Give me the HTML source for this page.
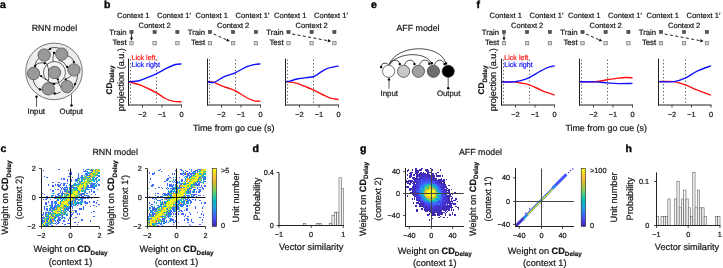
<!DOCTYPE html>
<html><head><meta charset="utf-8"><style>
html,body{margin:0;padding:0;background:#fff;}
svg{display:block;font-family:"Liberation Sans", sans-serif;will-change:transform;text-rendering:geometricPrecision;}
</style></head><body>
<svg width="723" height="268" viewBox="0 0 723 268">
<rect width="723" height="268" fill="#fff"/>
<text x="0.00" y="8.00" font-size="10.5" text-anchor="start" font-weight="bold" fill="#000" stroke="#000" stroke-width="0.35">a</text>
<text x="104.00" y="8.00" font-size="10.5" text-anchor="start" font-weight="bold" fill="#000" stroke="#000" stroke-width="0.35">b</text>
<text x="371.00" y="8.00" font-size="10.5" text-anchor="start" font-weight="bold" fill="#000" stroke="#000" stroke-width="0.35">e</text>
<text x="476.50" y="8.00" font-size="10.5" text-anchor="start" font-weight="bold" fill="#000" stroke="#000" stroke-width="0.35">f</text>
<text x="0.50" y="152.40" font-size="10.5" text-anchor="start" font-weight="bold" fill="#000" stroke="#000" stroke-width="0.35">c</text>
<text x="252.50" y="152.40" font-size="10.5" text-anchor="start" font-weight="bold" fill="#000" stroke="#000" stroke-width="0.35">d</text>
<text x="360.00" y="152.40" font-size="10.5" text-anchor="start" font-weight="bold" fill="#000" stroke="#000" stroke-width="0.35">g</text>
<text x="625.50" y="152.40" font-size="10.5" text-anchor="start" font-weight="bold" fill="#000" stroke="#000" stroke-width="0.35">h</text>
<text x="31.70" y="30.50" font-size="8.8" text-anchor="start" font-weight="normal" fill="#1a1a1a"  stroke="#1a1a1a" stroke-width="0.22">RNN model</text>
<circle cx="54" cy="71.4" r="28.3" fill="#ededed" stroke="#555" stroke-width="0.8"/>
<circle cx="54.3" cy="72" r="19.5" fill="#f7f7f7" stroke="none"/>
<circle cx="54.5" cy="72.5" r="11" fill="none" stroke="#222" stroke-width="0.7"/>
<circle cx="54.5" cy="72.5" r="9" fill="#f4f4f4" stroke="none"/>
<path d="M47.5,50.3 Q50,47.5 53.5,47.6 Q57,47.4 59.5,48.3" stroke="#111" stroke-width="0.7" fill="none" />
<path d="M54,52.9 Q52.5,57 53,61.5" stroke="#111" stroke-width="0.7" fill="none" />
<path d="M44.7,63.3 Q38.5,61.5 35.1,66" stroke="#111" stroke-width="0.7" fill="none" />
<path d="M38.5,58.5 Q35.5,61 35.1,66" stroke="#111" stroke-width="0.7" fill="none" />
<path d="M67,55.5 Q72.5,57 73.9,62.1" stroke="#111" stroke-width="0.7" fill="none" />
<path d="M58.5,60 Q64.5,61.5 67.1,66.9" stroke="#111" stroke-width="0.7" fill="none" />
<path d="M41.1,76.1 Q44.5,79.5 48.5,80.5" stroke="#111" stroke-width="0.7" fill="none" />
<path d="M57.8,79.3 Q58.5,85 61.5,88" stroke="#111" stroke-width="0.7" fill="none" />
<path d="M54.2,83.9 Q51,83 49,82.7" stroke="#111" stroke-width="0.7" fill="none" />
<path d="M65.6,79.3 Q69.5,77.5 71.5,75.5" stroke="#111" stroke-width="0.7" fill="none" />
<path d="M77.5,75 Q77.5,80 75.1,84.1 Q74.5,87 72.8,88.5" stroke="#111" stroke-width="0.7" fill="none" />
<path d="M33.2,79.5 Q34,86 39.9,89.5 Q41,89.8 42.3,89.8" stroke="#111" stroke-width="0.7" fill="none" />
<path d="M52.5,93.5 Q55,95 60.5,92" stroke="#111" stroke-width="0.7" fill="none" />
<path d="M45,62 Q50,66 48.5,80.5" stroke="#111" stroke-width="0.7" fill="none" />
<circle cx="44.2" cy="55.1" r="6.2" fill="#999" stroke="#444" stroke-width="0.7"/>
<circle cx="61.7" cy="54.1" r="6.2" fill="#999" stroke="#444" stroke-width="0.7"/>
<circle cx="33.5" cy="73.5" r="6.2" fill="#999" stroke="#444" stroke-width="0.7"/>
<circle cx="54.5" cy="72.5" r="6.2" fill="#999" stroke="#444" stroke-width="0.7"/>
<circle cx="73.9" cy="69.9" r="6.2" fill="#999" stroke="#444" stroke-width="0.7"/>
<circle cx="48.3" cy="88.8" r="6.2" fill="#999" stroke="#444" stroke-width="0.7"/>
<circle cx="67.0" cy="86.6" r="6.2" fill="#999" stroke="#444" stroke-width="0.7"/>
<circle cx="50.1" cy="49" r="1.15" fill="#000"/>
<circle cx="54" cy="52.9" r="1.15" fill="#000"/>
<circle cx="44.7" cy="63.3" r="1.15" fill="#000"/>
<circle cx="35.1" cy="66" r="1.15" fill="#000"/>
<circle cx="73.9" cy="62.1" r="1.15" fill="#000"/>
<circle cx="67.1" cy="66.9" r="1.15" fill="#000"/>
<circle cx="41.1" cy="76.1" r="1.15" fill="#000"/>
<circle cx="57.8" cy="79.3" r="1.15" fill="#000"/>
<circle cx="54.2" cy="83.9" r="1.15" fill="#000"/>
<circle cx="65.6" cy="79.3" r="1.15" fill="#000"/>
<circle cx="75.1" cy="84.1" r="1.15" fill="#000"/>
<circle cx="39.9" cy="89.5" r="1.15" fill="#000"/>
<circle cx="54.8" cy="93.4" r="1.15" fill="#000"/>
<line x1="36.50" y1="96.70" x2="36.50" y2="106.80" stroke="#333" stroke-width="0.8" />
<circle cx="36.5" cy="96.7" r="1.2" fill="#000"/>
<line x1="71.50" y1="94.50" x2="71.50" y2="105.50" stroke="#333" stroke-width="0.8" />
<circle cx="71.5" cy="105.5" r="1.2" fill="#000"/>
<text x="27.50" y="113.80" font-size="7.9" text-anchor="start" font-weight="normal" fill="#1a1a1a"  stroke="#1a1a1a" stroke-width="0.22">Input</text>
<text x="59.60" y="113.80" font-size="7.8" text-anchor="start" font-weight="normal" fill="#1a1a1a"  stroke="#1a1a1a" stroke-width="0.22">Output</text>
<text x="117.10" y="18.30" font-size="7.55" text-anchor="start" font-weight="normal" fill="#1a1a1a"  stroke="#1a1a1a" stroke-width="0.22">Context 1</text>
<text x="157.10" y="18.30" font-size="7.55" text-anchor="start" font-weight="normal" fill="#1a1a1a"  stroke="#1a1a1a" stroke-width="0.22">Context 1′</text>
<text x="138.50" y="28.20" font-size="7.55" text-anchor="start" font-weight="normal" fill="#1a1a1a"  stroke="#1a1a1a" stroke-width="0.22">Context 2</text>
<text x="126.70" y="34.50" font-size="7.8" text-anchor="end" font-weight="normal" fill="#1a1a1a"  stroke="#1a1a1a" stroke-width="0.22">Train</text>
<text x="126.70" y="45.30" font-size="7.8" text-anchor="end" font-weight="normal" fill="#1a1a1a"  stroke="#1a1a1a" stroke-width="0.22">Test</text>
<rect x="129.90" y="30.4" width="3.2" height="3.2" fill="#555" stroke="#333" stroke-width="0.5"/>
<rect x="129.80" y="41.5" width="3.4" height="3.4" fill="#d6d6d6" stroke="#777" stroke-width="0.7"/>
<rect x="153.00" y="30.4" width="3.2" height="3.2" fill="#555" stroke="#333" stroke-width="0.5"/>
<rect x="152.90" y="41.5" width="3.4" height="3.4" fill="#d6d6d6" stroke="#777" stroke-width="0.7"/>
<rect x="175.80" y="30.4" width="3.2" height="3.2" fill="#555" stroke="#333" stroke-width="0.5"/>
<rect x="175.70" y="41.5" width="3.4" height="3.4" fill="#d6d6d6" stroke="#777" stroke-width="0.7"/>
<line x1="131.50" y1="34.00" x2="131.50" y2="38.50" stroke="#111" stroke-width="0.8" />
<path d="M129.90,37.6 L133.10,37.6 L131.50,40.8 Z" fill="#111"/>
<line x1="130.50" y1="59.50" x2="130.50" y2="104.50" stroke="#333" stroke-width="0.8" stroke-dasharray="1.3,2.2"/>
<line x1="156.50" y1="59.50" x2="156.50" y2="104.50" stroke="#333" stroke-width="0.8" stroke-dasharray="1.3,2.2"/>
<path d="M128.50,81.70 C130.26,82.20 135.94,83.62 139.04,84.70 C142.14,85.78 144.26,86.88 147.12,88.20 C149.99,89.52 153.19,90.88 156.23,92.60 C159.26,94.32 162.47,97.03 165.33,98.50 C168.20,99.97 170.72,100.85 173.42,101.40 C176.11,101.95 180.15,101.73 181.50,101.80" stroke="#ff1010" stroke-width="1.4" fill="none" />
<path d="M128.50,81.70 C130.26,81.55 135.94,81.47 139.04,80.80 C142.14,80.13 144.26,78.87 147.12,77.70 C149.99,76.53 152.85,75.43 156.23,73.80 C159.60,72.17 164.17,69.45 167.38,67.90 C170.59,66.35 173.11,65.17 175.46,64.50 C177.82,63.83 180.49,64.00 181.50,63.90" stroke="#1010ff" stroke-width="1.4" fill="none" />
<line x1="128.50" y1="58.60" x2="128.50" y2="105.60" stroke="#222" stroke-width="1.0" />
<line x1="128.00" y1="105.00" x2="182.00" y2="105.00" stroke="#222" stroke-width="1.2" />
<line x1="142.50" y1="105.00" x2="142.50" y2="107.60" stroke="#222" stroke-width="0.8" />
<text x="142.50" y="117.20" font-size="7.4" text-anchor="middle" font-weight="normal" fill="#1a1a1a"  stroke="#1a1a1a" stroke-width="0.22">−2</text>
<line x1="162.00" y1="105.00" x2="162.00" y2="107.60" stroke="#222" stroke-width="0.8" />
<text x="162.00" y="117.20" font-size="7.4" text-anchor="middle" font-weight="normal" fill="#1a1a1a"  stroke="#1a1a1a" stroke-width="0.22">−1</text>
<line x1="181.50" y1="105.00" x2="181.50" y2="107.60" stroke="#222" stroke-width="0.8" />
<text x="181.50" y="117.20" font-size="7.4" text-anchor="middle" font-weight="normal" fill="#1a1a1a"  stroke="#1a1a1a" stroke-width="0.22">0</text>
<text x="195.60" y="18.30" font-size="7.55" text-anchor="start" font-weight="normal" fill="#1a1a1a"  stroke="#1a1a1a" stroke-width="0.22">Context 1</text>
<text x="235.60" y="18.30" font-size="7.55" text-anchor="start" font-weight="normal" fill="#1a1a1a"  stroke="#1a1a1a" stroke-width="0.22">Context 1′</text>
<text x="217.00" y="28.20" font-size="7.55" text-anchor="start" font-weight="normal" fill="#1a1a1a"  stroke="#1a1a1a" stroke-width="0.22">Context 2</text>
<text x="205.20" y="34.50" font-size="7.8" text-anchor="end" font-weight="normal" fill="#1a1a1a"  stroke="#1a1a1a" stroke-width="0.22">Train</text>
<text x="205.20" y="45.30" font-size="7.8" text-anchor="end" font-weight="normal" fill="#1a1a1a"  stroke="#1a1a1a" stroke-width="0.22">Test</text>
<rect x="208.40" y="30.4" width="3.2" height="3.2" fill="#555" stroke="#333" stroke-width="0.5"/>
<rect x="208.30" y="41.5" width="3.4" height="3.4" fill="#d6d6d6" stroke="#777" stroke-width="0.7"/>
<rect x="231.50" y="30.4" width="3.2" height="3.2" fill="#555" stroke="#333" stroke-width="0.5"/>
<rect x="231.40" y="41.5" width="3.4" height="3.4" fill="#d6d6d6" stroke="#777" stroke-width="0.7"/>
<rect x="254.30" y="30.4" width="3.2" height="3.2" fill="#555" stroke="#333" stroke-width="0.5"/>
<rect x="254.20" y="41.5" width="3.4" height="3.4" fill="#d6d6d6" stroke="#777" stroke-width="0.7"/>
<line x1="213.60" y1="34.00" x2="227.42" y2="40.19" stroke="#222" stroke-width="1.0" stroke-dasharray="3,2.4"/>
<path d="M229.90,41.30 L226.14,41.37 L227.45,38.45 Z" fill="#111"/>
<line x1="209.50" y1="59.50" x2="209.50" y2="104.50" stroke="#333" stroke-width="0.8" stroke-dasharray="1.3,2.2"/>
<line x1="235.50" y1="59.50" x2="235.50" y2="104.50" stroke="#333" stroke-width="0.8" stroke-dasharray="1.3,2.2"/>
<path d="M207.50,81.70 C208.51,81.80 210.87,81.48 213.58,82.30 C216.30,83.12 220.22,85.22 223.79,86.60 C227.37,87.98 231.28,88.78 235.03,90.60 C238.78,92.42 243.04,95.78 246.27,97.50 C249.50,99.22 252.04,100.30 254.42,100.90 C256.79,101.50 259.49,101.07 260.50,101.10" stroke="#ff1010" stroke-width="1.4" fill="none" />
<path d="M207.50,81.70 C208.69,81.78 211.90,83.02 214.61,82.20 C217.33,81.38 220.39,78.37 223.79,76.80 C227.19,75.23 231.28,74.45 235.03,72.80 C238.78,71.15 243.28,68.23 246.27,66.90 C249.26,65.57 250.60,65.30 252.97,64.80 C255.34,64.30 259.25,64.05 260.50,63.90" stroke="#1010ff" stroke-width="1.4" fill="none" />
<line x1="207.50" y1="58.60" x2="207.50" y2="105.60" stroke="#222" stroke-width="1.0" />
<line x1="207.00" y1="105.00" x2="261.00" y2="105.00" stroke="#222" stroke-width="1.2" />
<line x1="221.50" y1="105.00" x2="221.50" y2="107.60" stroke="#222" stroke-width="0.8" />
<text x="221.50" y="117.20" font-size="7.4" text-anchor="middle" font-weight="normal" fill="#1a1a1a"  stroke="#1a1a1a" stroke-width="0.22">−2</text>
<line x1="241.00" y1="105.00" x2="241.00" y2="107.60" stroke="#222" stroke-width="0.8" />
<text x="241.00" y="117.20" font-size="7.4" text-anchor="middle" font-weight="normal" fill="#1a1a1a"  stroke="#1a1a1a" stroke-width="0.22">−1</text>
<line x1="260.50" y1="105.00" x2="260.50" y2="107.60" stroke="#222" stroke-width="0.8" />
<text x="260.50" y="117.20" font-size="7.4" text-anchor="middle" font-weight="normal" fill="#1a1a1a"  stroke="#1a1a1a" stroke-width="0.22">0</text>
<text x="274.10" y="18.30" font-size="7.55" text-anchor="start" font-weight="normal" fill="#1a1a1a"  stroke="#1a1a1a" stroke-width="0.22">Context 1</text>
<text x="314.10" y="18.30" font-size="7.55" text-anchor="start" font-weight="normal" fill="#1a1a1a"  stroke="#1a1a1a" stroke-width="0.22">Context 1′</text>
<text x="295.50" y="28.20" font-size="7.55" text-anchor="start" font-weight="normal" fill="#1a1a1a"  stroke="#1a1a1a" stroke-width="0.22">Context 2</text>
<text x="283.70" y="34.50" font-size="7.8" text-anchor="end" font-weight="normal" fill="#1a1a1a"  stroke="#1a1a1a" stroke-width="0.22">Train</text>
<text x="283.70" y="45.30" font-size="7.8" text-anchor="end" font-weight="normal" fill="#1a1a1a"  stroke="#1a1a1a" stroke-width="0.22">Test</text>
<rect x="286.90" y="30.4" width="3.2" height="3.2" fill="#555" stroke="#333" stroke-width="0.5"/>
<rect x="286.80" y="41.5" width="3.4" height="3.4" fill="#d6d6d6" stroke="#777" stroke-width="0.7"/>
<rect x="310.00" y="30.4" width="3.2" height="3.2" fill="#555" stroke="#333" stroke-width="0.5"/>
<rect x="309.90" y="41.5" width="3.4" height="3.4" fill="#d6d6d6" stroke="#777" stroke-width="0.7"/>
<rect x="332.80" y="30.4" width="3.2" height="3.2" fill="#555" stroke="#333" stroke-width="0.5"/>
<rect x="332.70" y="41.5" width="3.4" height="3.4" fill="#d6d6d6" stroke="#777" stroke-width="0.7"/>
<line x1="292.10" y1="34.00" x2="328.53" y2="40.80" stroke="#222" stroke-width="1.0" stroke-dasharray="3,2.4"/>
<path d="M331.20,41.30 L327.56,42.25 L328.15,39.10 Z" fill="#111"/>
<line x1="287.50" y1="59.50" x2="287.50" y2="104.50" stroke="#333" stroke-width="0.8" stroke-dasharray="1.3,2.2"/>
<line x1="313.50" y1="59.50" x2="313.50" y2="104.50" stroke="#333" stroke-width="0.8" stroke-dasharray="1.3,2.2"/>
<path d="M285.50,81.70 C287.28,81.93 293.08,82.35 296.20,83.10 C299.33,83.85 301.50,85.12 304.25,86.20 C307.01,87.28 309.69,88.22 312.71,89.60 C315.74,90.98 319.44,93.08 322.40,94.50 C325.35,95.92 327.76,97.27 330.45,98.10 C333.13,98.93 337.16,99.27 338.50,99.50" stroke="#ff1010" stroke-width="1.4" fill="none" />
<path d="M285.50,81.70 C286.28,81.60 288.07,81.60 290.19,81.10 C292.31,80.60 294.49,79.42 298.24,78.70 C301.99,77.98 309.37,77.62 312.71,76.80 C316.06,75.98 316.03,75.13 318.32,73.80 C320.61,72.47 323.11,70.12 326.47,68.80 C329.84,67.48 336.50,66.38 338.50,65.90" stroke="#1010ff" stroke-width="1.4" fill="none" />
<line x1="285.50" y1="58.60" x2="285.50" y2="105.60" stroke="#222" stroke-width="1.0" />
<line x1="285.00" y1="105.00" x2="339.00" y2="105.00" stroke="#222" stroke-width="1.2" />
<line x1="299.50" y1="105.00" x2="299.50" y2="107.60" stroke="#222" stroke-width="0.8" />
<text x="299.50" y="117.20" font-size="7.4" text-anchor="middle" font-weight="normal" fill="#1a1a1a"  stroke="#1a1a1a" stroke-width="0.22">−2</text>
<line x1="319.00" y1="105.00" x2="319.00" y2="107.60" stroke="#222" stroke-width="0.8" />
<text x="319.00" y="117.20" font-size="7.4" text-anchor="middle" font-weight="normal" fill="#1a1a1a"  stroke="#1a1a1a" stroke-width="0.22">−1</text>
<line x1="338.50" y1="105.00" x2="338.50" y2="107.60" stroke="#222" stroke-width="0.8" />
<text x="338.50" y="117.20" font-size="7.4" text-anchor="middle" font-weight="normal" fill="#1a1a1a"  stroke="#1a1a1a" stroke-width="0.22">0</text>
<text x="489.60" y="18.30" font-size="7.55" text-anchor="start" font-weight="normal" fill="#1a1a1a"  stroke="#1a1a1a" stroke-width="0.22">Context 1</text>
<text x="529.60" y="18.30" font-size="7.55" text-anchor="start" font-weight="normal" fill="#1a1a1a"  stroke="#1a1a1a" stroke-width="0.22">Context 1′</text>
<text x="511.00" y="28.20" font-size="7.55" text-anchor="start" font-weight="normal" fill="#1a1a1a"  stroke="#1a1a1a" stroke-width="0.22">Context 2</text>
<text x="499.20" y="34.50" font-size="7.8" text-anchor="end" font-weight="normal" fill="#1a1a1a"  stroke="#1a1a1a" stroke-width="0.22">Train</text>
<text x="499.20" y="45.30" font-size="7.8" text-anchor="end" font-weight="normal" fill="#1a1a1a"  stroke="#1a1a1a" stroke-width="0.22">Test</text>
<rect x="502.40" y="30.4" width="3.2" height="3.2" fill="#555" stroke="#333" stroke-width="0.5"/>
<rect x="502.30" y="41.5" width="3.4" height="3.4" fill="#d6d6d6" stroke="#777" stroke-width="0.7"/>
<rect x="525.50" y="30.4" width="3.2" height="3.2" fill="#555" stroke="#333" stroke-width="0.5"/>
<rect x="525.40" y="41.5" width="3.4" height="3.4" fill="#d6d6d6" stroke="#777" stroke-width="0.7"/>
<rect x="548.30" y="30.4" width="3.2" height="3.2" fill="#555" stroke="#333" stroke-width="0.5"/>
<rect x="548.20" y="41.5" width="3.4" height="3.4" fill="#d6d6d6" stroke="#777" stroke-width="0.7"/>
<line x1="504.00" y1="34.00" x2="504.00" y2="38.50" stroke="#111" stroke-width="0.8" />
<path d="M502.40,37.6 L505.60,37.6 L504.00,40.8 Z" fill="#111"/>
<line x1="503.50" y1="59.50" x2="503.50" y2="104.50" stroke="#333" stroke-width="0.8" stroke-dasharray="1.3,2.2"/>
<line x1="529.50" y1="59.50" x2="529.50" y2="104.50" stroke="#333" stroke-width="0.8" stroke-dasharray="1.3,2.2"/>
<path d="M501.50,81.90 C503.59,81.90 510.87,81.72 514.04,81.90 C517.21,82.08 518.05,82.55 520.52,83.00 C522.98,83.45 525.61,83.52 528.81,84.60 C532.01,85.68 536.63,88.15 539.73,89.50 C542.83,90.85 544.96,91.78 547.42,92.70 C549.88,93.62 553.32,94.62 554.50,95.00" stroke="#ff1010" stroke-width="1.4" fill="none" />
<path d="M501.50,81.90 C503.59,81.90 510.87,82.12 514.04,81.90 C517.21,81.68 518.05,81.28 520.52,80.60 C522.98,79.92 525.61,79.32 528.81,77.80 C532.01,76.28 536.63,73.18 539.73,71.50 C542.83,69.82 544.96,68.65 547.42,67.70 C549.88,66.75 553.32,66.12 554.50,65.80" stroke="#1010ff" stroke-width="1.4" fill="none" />
<line x1="501.50" y1="58.60" x2="501.50" y2="105.60" stroke="#222" stroke-width="1.0" />
<line x1="501.00" y1="105.00" x2="555.00" y2="105.00" stroke="#222" stroke-width="1.2" />
<line x1="515.50" y1="105.00" x2="515.50" y2="107.60" stroke="#222" stroke-width="0.8" />
<text x="515.50" y="117.20" font-size="7.4" text-anchor="middle" font-weight="normal" fill="#1a1a1a"  stroke="#1a1a1a" stroke-width="0.22">−2</text>
<line x1="535.00" y1="105.00" x2="535.00" y2="107.60" stroke="#222" stroke-width="0.8" />
<text x="535.00" y="117.20" font-size="7.4" text-anchor="middle" font-weight="normal" fill="#1a1a1a"  stroke="#1a1a1a" stroke-width="0.22">−1</text>
<line x1="554.50" y1="105.00" x2="554.50" y2="107.60" stroke="#222" stroke-width="0.8" />
<text x="554.50" y="117.20" font-size="7.4" text-anchor="middle" font-weight="normal" fill="#1a1a1a"  stroke="#1a1a1a" stroke-width="0.22">0</text>
<text x="568.10" y="18.30" font-size="7.55" text-anchor="start" font-weight="normal" fill="#1a1a1a"  stroke="#1a1a1a" stroke-width="0.22">Context 1</text>
<text x="608.10" y="18.30" font-size="7.55" text-anchor="start" font-weight="normal" fill="#1a1a1a"  stroke="#1a1a1a" stroke-width="0.22">Context 1′</text>
<text x="589.50" y="28.20" font-size="7.55" text-anchor="start" font-weight="normal" fill="#1a1a1a"  stroke="#1a1a1a" stroke-width="0.22">Context 2</text>
<text x="577.70" y="34.50" font-size="7.8" text-anchor="end" font-weight="normal" fill="#1a1a1a"  stroke="#1a1a1a" stroke-width="0.22">Train</text>
<text x="577.70" y="45.30" font-size="7.8" text-anchor="end" font-weight="normal" fill="#1a1a1a"  stroke="#1a1a1a" stroke-width="0.22">Test</text>
<rect x="580.90" y="30.4" width="3.2" height="3.2" fill="#555" stroke="#333" stroke-width="0.5"/>
<rect x="580.80" y="41.5" width="3.4" height="3.4" fill="#d6d6d6" stroke="#777" stroke-width="0.7"/>
<rect x="604.00" y="30.4" width="3.2" height="3.2" fill="#555" stroke="#333" stroke-width="0.5"/>
<rect x="603.90" y="41.5" width="3.4" height="3.4" fill="#d6d6d6" stroke="#777" stroke-width="0.7"/>
<rect x="626.80" y="30.4" width="3.2" height="3.2" fill="#555" stroke="#333" stroke-width="0.5"/>
<rect x="626.70" y="41.5" width="3.4" height="3.4" fill="#d6d6d6" stroke="#777" stroke-width="0.7"/>
<line x1="586.10" y1="34.00" x2="599.92" y2="40.19" stroke="#222" stroke-width="1.0" stroke-dasharray="3,2.4"/>
<path d="M602.40,41.30 L598.64,41.37 L599.95,38.45 Z" fill="#111"/>
<line x1="581.50" y1="59.50" x2="581.50" y2="104.50" stroke="#333" stroke-width="0.8" stroke-dasharray="1.3,2.2"/>
<line x1="607.50" y1="59.50" x2="607.50" y2="104.50" stroke="#333" stroke-width="0.8" stroke-dasharray="1.3,2.2"/>
<path d="M579.50,81.70 C582.15,81.70 590.73,82.02 595.37,81.70 C600.01,81.38 603.55,80.40 607.35,79.80 C611.14,79.20 615.05,78.48 618.13,78.10 C621.20,77.72 623.42,77.55 625.81,77.50 C628.21,77.45 631.39,77.75 632.50,77.80" stroke="#ff1010" stroke-width="1.4" fill="none" />
<path d="M579.50,81.70 C582.15,81.73 590.73,81.70 595.37,81.90 C600.01,82.10 603.55,82.62 607.35,82.90 C611.14,83.18 613.94,83.52 618.13,83.60 C622.32,83.68 630.10,83.43 632.50,83.40" stroke="#1010ff" stroke-width="1.4" fill="none" />
<line x1="579.50" y1="58.60" x2="579.50" y2="105.60" stroke="#222" stroke-width="1.0" />
<line x1="579.00" y1="105.00" x2="633.00" y2="105.00" stroke="#222" stroke-width="1.2" />
<line x1="593.50" y1="105.00" x2="593.50" y2="107.60" stroke="#222" stroke-width="0.8" />
<text x="593.50" y="117.20" font-size="7.4" text-anchor="middle" font-weight="normal" fill="#1a1a1a"  stroke="#1a1a1a" stroke-width="0.22">−2</text>
<line x1="613.00" y1="105.00" x2="613.00" y2="107.60" stroke="#222" stroke-width="0.8" />
<text x="613.00" y="117.20" font-size="7.4" text-anchor="middle" font-weight="normal" fill="#1a1a1a"  stroke="#1a1a1a" stroke-width="0.22">−1</text>
<line x1="632.50" y1="105.00" x2="632.50" y2="107.60" stroke="#222" stroke-width="0.8" />
<text x="632.50" y="117.20" font-size="7.4" text-anchor="middle" font-weight="normal" fill="#1a1a1a"  stroke="#1a1a1a" stroke-width="0.22">0</text>
<text x="646.60" y="18.30" font-size="7.55" text-anchor="start" font-weight="normal" fill="#1a1a1a"  stroke="#1a1a1a" stroke-width="0.22">Context 1</text>
<text x="686.60" y="18.30" font-size="7.55" text-anchor="start" font-weight="normal" fill="#1a1a1a"  stroke="#1a1a1a" stroke-width="0.22">Context 1′</text>
<text x="668.00" y="28.20" font-size="7.55" text-anchor="start" font-weight="normal" fill="#1a1a1a"  stroke="#1a1a1a" stroke-width="0.22">Context 2</text>
<text x="656.20" y="34.50" font-size="7.8" text-anchor="end" font-weight="normal" fill="#1a1a1a"  stroke="#1a1a1a" stroke-width="0.22">Train</text>
<text x="656.20" y="45.30" font-size="7.8" text-anchor="end" font-weight="normal" fill="#1a1a1a"  stroke="#1a1a1a" stroke-width="0.22">Test</text>
<rect x="659.40" y="30.4" width="3.2" height="3.2" fill="#555" stroke="#333" stroke-width="0.5"/>
<rect x="659.30" y="41.5" width="3.4" height="3.4" fill="#d6d6d6" stroke="#777" stroke-width="0.7"/>
<rect x="682.50" y="30.4" width="3.2" height="3.2" fill="#555" stroke="#333" stroke-width="0.5"/>
<rect x="682.40" y="41.5" width="3.4" height="3.4" fill="#d6d6d6" stroke="#777" stroke-width="0.7"/>
<rect x="705.30" y="30.4" width="3.2" height="3.2" fill="#555" stroke="#333" stroke-width="0.5"/>
<rect x="705.20" y="41.5" width="3.4" height="3.4" fill="#d6d6d6" stroke="#777" stroke-width="0.7"/>
<line x1="664.60" y1="34.00" x2="701.03" y2="40.80" stroke="#222" stroke-width="1.0" stroke-dasharray="3,2.4"/>
<path d="M703.70,41.30 L700.06,42.25 L700.65,39.10 Z" fill="#111"/>
<line x1="663.50" y1="59.50" x2="663.50" y2="104.50" stroke="#333" stroke-width="0.8" stroke-dasharray="1.3,2.2"/>
<line x1="685.50" y1="59.50" x2="685.50" y2="104.50" stroke="#333" stroke-width="0.8" stroke-dasharray="1.3,2.2"/>
<path d="M658.50,81.60 C661.06,81.60 669.30,81.02 673.85,81.60 C678.39,82.18 681.81,83.67 685.76,85.10 C689.71,86.53 693.37,88.52 697.57,90.20 C701.78,91.88 708.76,94.37 711.00,95.20" stroke="#ff1010" stroke-width="1.4" fill="none" />
<path d="M658.50,81.60 C661.06,81.60 669.30,82.23 673.85,81.60 C678.39,80.97 681.81,79.58 685.76,77.80 C689.71,76.02 693.37,72.90 697.57,70.90 C701.78,68.90 708.76,66.65 711.00,65.80" stroke="#1010ff" stroke-width="1.4" fill="none" />
<line x1="658.50" y1="58.60" x2="658.50" y2="105.60" stroke="#222" stroke-width="1.0" />
<line x1="658.00" y1="105.00" x2="711.50" y2="105.00" stroke="#222" stroke-width="1.2" />
<line x1="672.00" y1="105.00" x2="672.00" y2="107.60" stroke="#222" stroke-width="0.8" />
<text x="672.00" y="117.20" font-size="7.4" text-anchor="middle" font-weight="normal" fill="#1a1a1a"  stroke="#1a1a1a" stroke-width="0.22">−2</text>
<line x1="691.50" y1="105.00" x2="691.50" y2="107.60" stroke="#222" stroke-width="0.8" />
<text x="691.50" y="117.20" font-size="7.4" text-anchor="middle" font-weight="normal" fill="#1a1a1a"  stroke="#1a1a1a" stroke-width="0.22">−1</text>
<line x1="711.00" y1="105.00" x2="711.00" y2="107.60" stroke="#222" stroke-width="0.8" />
<text x="711.00" y="117.20" font-size="7.4" text-anchor="middle" font-weight="normal" fill="#1a1a1a"  stroke="#1a1a1a" stroke-width="0.22">0</text>
<text transform="translate(111.60,94.60) rotate(-90)" font-size="8.3" text-anchor="start" fill="#1a1a1a" stroke="#1a1a1a" stroke-width="0.22" font-weight="bold">CD<tspan font-size="6.4" dy="2.6">Delay</tspan></text>
<text transform="translate(123.60,79.70) rotate(-90)" font-size="9.1" text-anchor="middle" fill="#1a1a1a" stroke="#1a1a1a" stroke-width="0.22" >projection (a.u.)</text>
<text transform="translate(483.90,94.60) rotate(-90)" font-size="8.3" text-anchor="start" fill="#1a1a1a" stroke="#1a1a1a" stroke-width="0.22" font-weight="bold">CD<tspan font-size="6.4" dy="2.6">Delay</tspan></text>
<text transform="translate(495.90,79.70) rotate(-90)" font-size="9.1" text-anchor="middle" fill="#1a1a1a" stroke="#1a1a1a" stroke-width="0.22" >projection (a.u.)</text>
<text x="131.50" y="59.90" font-size="7.1" text-anchor="start" font-weight="normal" fill="#ff1a1a"  stroke="#ff1a1a" stroke-width="0.22">Lick left</text>
<text x="131.50" y="66.60" font-size="7.1" text-anchor="start" font-weight="normal" fill="#1a1aff"  stroke="#1a1aff" stroke-width="0.22">Lick right</text>
<text x="504.30" y="59.90" font-size="7.1" text-anchor="start" font-weight="normal" fill="#ff1a1a"  stroke="#ff1a1a" stroke-width="0.22">Lick left</text>
<text x="504.30" y="66.60" font-size="7.1" text-anchor="start" font-weight="normal" fill="#1a1aff"  stroke="#1a1aff" stroke-width="0.22">Lick right</text>
<text x="192.90" y="130.70" font-size="8.9" text-anchor="start" font-weight="normal" fill="#1a1a1a"  stroke="#1a1a1a" stroke-width="0.22">Time from go cue (s)</text>
<text x="565.40" y="130.70" font-size="8.9" text-anchor="start" font-weight="normal" fill="#1a1a1a"  stroke="#1a1a1a" stroke-width="0.22">Time from go cue (s)</text>
<text x="396.50" y="30.50" font-size="8.8" text-anchor="start" font-weight="normal" fill="#1a1a1a"  stroke="#1a1a1a" stroke-width="0.22">AFF model</text>
<path d="M389,64.5 C397,44.2 440,43.2 446,63.5" stroke="#111" stroke-width="0.75" fill="none" />
<path d="M389,64.5 C399,51.6 426,51.6 431.5,63.2" stroke="#111" stroke-width="0.75" fill="none" />
<path d="M389.60,64.8 C391.60,59 398.10,58.5 400.10,64.1" stroke="#111" stroke-width="0.75" fill="none" />
<path d="M404.60,64.8 C406.60,59 412.90,58.5 414.90,64.1" stroke="#111" stroke-width="0.75" fill="none" />
<path d="M419.40,64.8 C421.40,59 427.90,58.5 429.90,64.1" stroke="#111" stroke-width="0.75" fill="none" />
<path d="M434.40,64.8 C436.40,59 442.70,58.5 444.70,64.1" stroke="#111" stroke-width="0.75" fill="none" />
<path d="M388.5,64.6 C386,62.5 381.5,62.5 381.1,67" stroke="#111" stroke-width="0.75" fill="none" />
<circle cx="388.6" cy="71.3" r="6.1" fill="#ffffff" stroke="#333" stroke-width="0.7"/>
<circle cx="403.6" cy="71.3" r="6.1" fill="#c8c8c8" stroke="#333" stroke-width="0.7"/>
<circle cx="418.4" cy="71.3" r="6.1" fill="#a0a0a0" stroke="#333" stroke-width="0.7"/>
<circle cx="433.4" cy="71.3" r="6.1" fill="#6e6e6e" stroke="#333" stroke-width="0.7"/>
<circle cx="448.2" cy="71.3" r="6.1" fill="#000000" stroke="#333" stroke-width="0.7"/>
<circle cx="381.1" cy="67" r="1.2" fill="#000"/>
<circle cx="399.8" cy="64.1" r="1.2" fill="#000"/>
<circle cx="414.4" cy="64.1" r="1.2" fill="#000"/>
<circle cx="429.4" cy="63.8" r="1.2" fill="#000"/>
<circle cx="431.8" cy="63.2" r="1.2" fill="#000"/>
<circle cx="444.5" cy="64.1" r="1.2" fill="#000"/>
<circle cx="446" cy="63.5" r="1.2" fill="#000"/>
<line x1="389.00" y1="77.50" x2="389.00" y2="88.80" stroke="#333" stroke-width="0.8" />
<circle cx="389" cy="79.6" r="1.2" fill="#000"/>
<line x1="448.20" y1="77.50" x2="448.20" y2="88.20" stroke="#333" stroke-width="0.8" />
<circle cx="448.2" cy="88.2" r="1.2" fill="#000"/>
<text x="380.50" y="95.50" font-size="7.9" text-anchor="start" font-weight="normal" fill="#1a1a1a"  stroke="#1a1a1a" stroke-width="0.22">Input</text>
<text x="436.90" y="95.50" font-size="7.8" text-anchor="start" font-weight="normal" fill="#1a1a1a"  stroke="#1a1a1a" stroke-width="0.22">Output</text>
<text x="92.50" y="155.30" font-size="8.8" text-anchor="start" font-weight="normal" fill="#1a1a1a"  stroke="#1a1a1a" stroke-width="0.22">RNN model</text>
<g shape-rendering="crispEdges">
<rect x="41.50" y="192.67" width="1.41" height="1.41" fill="#3c6bfc"/>
<rect x="41.50" y="214.42" width="1.41" height="1.41" fill="#3c6bfc"/>
<rect x="41.50" y="216.83" width="1.41" height="1.41" fill="#0db3cc"/>
<rect x="41.50" y="218.04" width="1.41" height="1.41" fill="#3c6bfc"/>
<rect x="41.50" y="219.25" width="1.41" height="1.41" fill="#0db3cc"/>
<rect x="41.50" y="220.46" width="1.41" height="1.41" fill="#3c6bfc"/>
<rect x="41.50" y="221.67" width="1.41" height="1.41" fill="#0db3cc"/>
<rect x="41.50" y="222.88" width="1.41" height="1.41" fill="#3c6bfc"/>
<rect x="41.50" y="224.08" width="1.41" height="1.41" fill="#f9fb14"/>
<rect x="41.50" y="225.29" width="1.41" height="1.41" fill="#f9fb14"/>
<rect x="42.71" y="169.71" width="1.41" height="1.41" fill="#3c6bfc"/>
<rect x="42.71" y="198.71" width="1.41" height="1.41" fill="#3c6bfc"/>
<rect x="42.71" y="212.00" width="1.41" height="1.41" fill="#0db3cc"/>
<rect x="42.71" y="213.21" width="1.41" height="1.41" fill="#3c6bfc"/>
<rect x="42.71" y="215.62" width="1.41" height="1.41" fill="#f0b836"/>
<rect x="42.71" y="216.83" width="1.41" height="1.41" fill="#3c6bfc"/>
<rect x="42.71" y="218.04" width="1.41" height="1.41" fill="#3c6bfc"/>
<rect x="42.71" y="220.46" width="1.41" height="1.41" fill="#3c6bfc"/>
<rect x="42.71" y="221.67" width="1.41" height="1.41" fill="#3c6bfc"/>
<rect x="42.71" y="224.08" width="1.41" height="1.41" fill="#0db3cc"/>
<rect x="42.71" y="225.29" width="1.41" height="1.41" fill="#0db3cc"/>
<rect x="43.92" y="175.75" width="1.41" height="1.41" fill="#3c6bfc"/>
<rect x="43.92" y="193.88" width="1.41" height="1.41" fill="#3c6bfc"/>
<rect x="43.92" y="205.96" width="1.41" height="1.41" fill="#3c6bfc"/>
<rect x="43.92" y="207.17" width="1.41" height="1.41" fill="#3c6bfc"/>
<rect x="43.92" y="208.38" width="1.41" height="1.41" fill="#3c6bfc"/>
<rect x="43.92" y="216.83" width="1.41" height="1.41" fill="#3c6bfc"/>
<rect x="43.92" y="218.04" width="1.41" height="1.41" fill="#f9fb14"/>
<rect x="43.92" y="219.25" width="1.41" height="1.41" fill="#3c6bfc"/>
<rect x="43.92" y="220.46" width="1.41" height="1.41" fill="#0db3cc"/>
<rect x="43.92" y="221.67" width="1.41" height="1.41" fill="#f9fb14"/>
<rect x="43.92" y="222.88" width="1.41" height="1.41" fill="#f9fb14"/>
<rect x="43.92" y="224.08" width="1.41" height="1.41" fill="#f9fb14"/>
<rect x="43.92" y="225.29" width="1.41" height="1.41" fill="#3c6bfc"/>
<rect x="45.12" y="198.71" width="1.41" height="1.41" fill="#3c6bfc"/>
<rect x="45.12" y="202.33" width="1.41" height="1.41" fill="#3c6bfc"/>
<rect x="45.12" y="203.54" width="1.41" height="1.41" fill="#3c6bfc"/>
<rect x="45.12" y="212.00" width="1.41" height="1.41" fill="#3c6bfc"/>
<rect x="45.12" y="213.21" width="1.41" height="1.41" fill="#3c6bfc"/>
<rect x="45.12" y="214.42" width="1.41" height="1.41" fill="#3c6bfc"/>
<rect x="45.12" y="215.62" width="1.41" height="1.41" fill="#0db3cc"/>
<rect x="45.12" y="218.04" width="1.41" height="1.41" fill="#0db3cc"/>
<rect x="45.12" y="219.25" width="1.41" height="1.41" fill="#f9fb14"/>
<rect x="45.12" y="220.46" width="1.41" height="1.41" fill="#f9fb14"/>
<rect x="45.12" y="221.67" width="1.41" height="1.41" fill="#f0b836"/>
<rect x="45.12" y="222.88" width="1.41" height="1.41" fill="#0db3cc"/>
<rect x="45.12" y="224.08" width="1.41" height="1.41" fill="#69cf69"/>
<rect x="45.12" y="225.29" width="1.41" height="1.41" fill="#0db3cc"/>
<rect x="46.33" y="176.96" width="1.41" height="1.41" fill="#3c6bfc"/>
<rect x="46.33" y="196.29" width="1.41" height="1.41" fill="#3c6bfc"/>
<rect x="46.33" y="197.50" width="1.41" height="1.41" fill="#3c6bfc"/>
<rect x="46.33" y="205.96" width="1.41" height="1.41" fill="#0db3cc"/>
<rect x="46.33" y="208.38" width="1.41" height="1.41" fill="#3c6bfc"/>
<rect x="46.33" y="209.58" width="1.41" height="1.41" fill="#3c6bfc"/>
<rect x="46.33" y="212.00" width="1.41" height="1.41" fill="#3c6bfc"/>
<rect x="46.33" y="214.42" width="1.41" height="1.41" fill="#69cf69"/>
<rect x="46.33" y="215.62" width="1.41" height="1.41" fill="#3c6bfc"/>
<rect x="46.33" y="216.83" width="1.41" height="1.41" fill="#69cf69"/>
<rect x="46.33" y="218.04" width="1.41" height="1.41" fill="#0db3cc"/>
<rect x="46.33" y="219.25" width="1.41" height="1.41" fill="#0db3cc"/>
<rect x="46.33" y="220.46" width="1.41" height="1.41" fill="#3c6bfc"/>
<rect x="46.33" y="221.67" width="1.41" height="1.41" fill="#69cf69"/>
<rect x="46.33" y="222.88" width="1.41" height="1.41" fill="#0db3cc"/>
<rect x="46.33" y="224.08" width="1.41" height="1.41" fill="#3c6bfc"/>
<rect x="46.33" y="225.29" width="1.41" height="1.41" fill="#3c6bfc"/>
<rect x="47.54" y="184.21" width="1.41" height="1.41" fill="#3c6bfc"/>
<rect x="47.54" y="201.12" width="1.41" height="1.41" fill="#3c6bfc"/>
<rect x="47.54" y="210.79" width="1.41" height="1.41" fill="#69cf69"/>
<rect x="47.54" y="212.00" width="1.41" height="1.41" fill="#3c6bfc"/>
<rect x="47.54" y="213.21" width="1.41" height="1.41" fill="#3c6bfc"/>
<rect x="47.54" y="214.42" width="1.41" height="1.41" fill="#0db3cc"/>
<rect x="47.54" y="215.62" width="1.41" height="1.41" fill="#0db3cc"/>
<rect x="47.54" y="216.83" width="1.41" height="1.41" fill="#3c6bfc"/>
<rect x="47.54" y="218.04" width="1.41" height="1.41" fill="#3c6bfc"/>
<rect x="47.54" y="219.25" width="1.41" height="1.41" fill="#3c6bfc"/>
<rect x="47.54" y="220.46" width="1.41" height="1.41" fill="#f9fb14"/>
<rect x="47.54" y="221.67" width="1.41" height="1.41" fill="#69cf69"/>
<rect x="47.54" y="222.88" width="1.41" height="1.41" fill="#3c6bfc"/>
<rect x="47.54" y="224.08" width="1.41" height="1.41" fill="#f9fb14"/>
<rect x="47.54" y="225.29" width="1.41" height="1.41" fill="#0db3cc"/>
<rect x="48.75" y="204.75" width="1.41" height="1.41" fill="#0db3cc"/>
<rect x="48.75" y="208.38" width="1.41" height="1.41" fill="#0db3cc"/>
<rect x="48.75" y="209.58" width="1.41" height="1.41" fill="#3c6bfc"/>
<rect x="48.75" y="212.00" width="1.41" height="1.41" fill="#3c6bfc"/>
<rect x="48.75" y="213.21" width="1.41" height="1.41" fill="#0db3cc"/>
<rect x="48.75" y="215.62" width="1.41" height="1.41" fill="#f0b836"/>
<rect x="48.75" y="216.83" width="1.41" height="1.41" fill="#69cf69"/>
<rect x="48.75" y="218.04" width="1.41" height="1.41" fill="#f0b836"/>
<rect x="48.75" y="219.25" width="1.41" height="1.41" fill="#f9fb14"/>
<rect x="48.75" y="220.46" width="1.41" height="1.41" fill="#69cf69"/>
<rect x="48.75" y="221.67" width="1.41" height="1.41" fill="#0db3cc"/>
<rect x="48.75" y="222.88" width="1.41" height="1.41" fill="#f0b836"/>
<rect x="48.75" y="224.08" width="1.41" height="1.41" fill="#0db3cc"/>
<rect x="49.96" y="189.04" width="1.41" height="1.41" fill="#3c6bfc"/>
<rect x="49.96" y="198.71" width="1.41" height="1.41" fill="#3c6bfc"/>
<rect x="49.96" y="204.75" width="1.41" height="1.41" fill="#69cf69"/>
<rect x="49.96" y="205.96" width="1.41" height="1.41" fill="#0db3cc"/>
<rect x="49.96" y="207.17" width="1.41" height="1.41" fill="#3c6bfc"/>
<rect x="49.96" y="208.38" width="1.41" height="1.41" fill="#3c6bfc"/>
<rect x="49.96" y="209.58" width="1.41" height="1.41" fill="#0db3cc"/>
<rect x="49.96" y="212.00" width="1.41" height="1.41" fill="#3c6bfc"/>
<rect x="49.96" y="213.21" width="1.41" height="1.41" fill="#0db3cc"/>
<rect x="49.96" y="214.42" width="1.41" height="1.41" fill="#f9fb14"/>
<rect x="49.96" y="215.62" width="1.41" height="1.41" fill="#0db3cc"/>
<rect x="49.96" y="216.83" width="1.41" height="1.41" fill="#f9fb14"/>
<rect x="49.96" y="218.04" width="1.41" height="1.41" fill="#0db3cc"/>
<rect x="49.96" y="219.25" width="1.41" height="1.41" fill="#3c6bfc"/>
<rect x="49.96" y="220.46" width="1.41" height="1.41" fill="#3c6bfc"/>
<rect x="49.96" y="221.67" width="1.41" height="1.41" fill="#69cf69"/>
<rect x="49.96" y="222.88" width="1.41" height="1.41" fill="#3c6bfc"/>
<rect x="49.96" y="224.08" width="1.41" height="1.41" fill="#3c6bfc"/>
<rect x="51.17" y="195.08" width="1.41" height="1.41" fill="#3c6bfc"/>
<rect x="51.17" y="196.29" width="1.41" height="1.41" fill="#0db3cc"/>
<rect x="51.17" y="201.12" width="1.41" height="1.41" fill="#3c6bfc"/>
<rect x="51.17" y="202.33" width="1.41" height="1.41" fill="#3c6bfc"/>
<rect x="51.17" y="203.54" width="1.41" height="1.41" fill="#3c6bfc"/>
<rect x="51.17" y="204.75" width="1.41" height="1.41" fill="#3c6bfc"/>
<rect x="51.17" y="205.96" width="1.41" height="1.41" fill="#3c6bfc"/>
<rect x="51.17" y="207.17" width="1.41" height="1.41" fill="#0db3cc"/>
<rect x="51.17" y="209.58" width="1.41" height="1.41" fill="#3c6bfc"/>
<rect x="51.17" y="210.79" width="1.41" height="1.41" fill="#3c6bfc"/>
<rect x="51.17" y="213.21" width="1.41" height="1.41" fill="#69cf69"/>
<rect x="51.17" y="214.42" width="1.41" height="1.41" fill="#3c6bfc"/>
<rect x="51.17" y="215.62" width="1.41" height="1.41" fill="#f9fb14"/>
<rect x="51.17" y="216.83" width="1.41" height="1.41" fill="#f0b836"/>
<rect x="51.17" y="218.04" width="1.41" height="1.41" fill="#69cf69"/>
<rect x="51.17" y="219.25" width="1.41" height="1.41" fill="#69cf69"/>
<rect x="51.17" y="220.46" width="1.41" height="1.41" fill="#3c6bfc"/>
<rect x="51.17" y="221.67" width="1.41" height="1.41" fill="#3c6bfc"/>
<rect x="51.17" y="222.88" width="1.41" height="1.41" fill="#0db3cc"/>
<rect x="51.17" y="225.29" width="1.41" height="1.41" fill="#3c6bfc"/>
<rect x="52.38" y="181.79" width="1.41" height="1.41" fill="#3c6bfc"/>
<rect x="52.38" y="185.42" width="1.41" height="1.41" fill="#3c6bfc"/>
<rect x="52.38" y="190.25" width="1.41" height="1.41" fill="#3c6bfc"/>
<rect x="52.38" y="192.67" width="1.41" height="1.41" fill="#0db3cc"/>
<rect x="52.38" y="195.08" width="1.41" height="1.41" fill="#3c6bfc"/>
<rect x="52.38" y="207.17" width="1.41" height="1.41" fill="#3c6bfc"/>
<rect x="52.38" y="208.38" width="1.41" height="1.41" fill="#3c6bfc"/>
<rect x="52.38" y="209.58" width="1.41" height="1.41" fill="#69cf69"/>
<rect x="52.38" y="212.00" width="1.41" height="1.41" fill="#69cf69"/>
<rect x="52.38" y="213.21" width="1.41" height="1.41" fill="#0db3cc"/>
<rect x="52.38" y="214.42" width="1.41" height="1.41" fill="#69cf69"/>
<rect x="52.38" y="215.62" width="1.41" height="1.41" fill="#3c6bfc"/>
<rect x="52.38" y="216.83" width="1.41" height="1.41" fill="#f9fb14"/>
<rect x="52.38" y="218.04" width="1.41" height="1.41" fill="#f0b836"/>
<rect x="52.38" y="219.25" width="1.41" height="1.41" fill="#3c6bfc"/>
<rect x="52.38" y="220.46" width="1.41" height="1.41" fill="#f0b836"/>
<rect x="52.38" y="222.88" width="1.41" height="1.41" fill="#69cf69"/>
<rect x="53.58" y="192.67" width="1.41" height="1.41" fill="#69cf69"/>
<rect x="53.58" y="197.50" width="1.41" height="1.41" fill="#3c6bfc"/>
<rect x="53.58" y="201.12" width="1.41" height="1.41" fill="#3c6bfc"/>
<rect x="53.58" y="202.33" width="1.41" height="1.41" fill="#0db3cc"/>
<rect x="53.58" y="204.75" width="1.41" height="1.41" fill="#3c6bfc"/>
<rect x="53.58" y="205.96" width="1.41" height="1.41" fill="#3c6bfc"/>
<rect x="53.58" y="207.17" width="1.41" height="1.41" fill="#3c6bfc"/>
<rect x="53.58" y="208.38" width="1.41" height="1.41" fill="#3c6bfc"/>
<rect x="53.58" y="209.58" width="1.41" height="1.41" fill="#69cf69"/>
<rect x="53.58" y="210.79" width="1.41" height="1.41" fill="#f9fb14"/>
<rect x="53.58" y="212.00" width="1.41" height="1.41" fill="#f9fb14"/>
<rect x="53.58" y="213.21" width="1.41" height="1.41" fill="#0db3cc"/>
<rect x="53.58" y="214.42" width="1.41" height="1.41" fill="#f9fb14"/>
<rect x="53.58" y="215.62" width="1.41" height="1.41" fill="#f0b836"/>
<rect x="53.58" y="216.83" width="1.41" height="1.41" fill="#3c6bfc"/>
<rect x="53.58" y="218.04" width="1.41" height="1.41" fill="#3c6bfc"/>
<rect x="53.58" y="219.25" width="1.41" height="1.41" fill="#0db3cc"/>
<rect x="53.58" y="222.88" width="1.41" height="1.41" fill="#3c6bfc"/>
<rect x="54.79" y="184.21" width="1.41" height="1.41" fill="#3c6bfc"/>
<rect x="54.79" y="189.04" width="1.41" height="1.41" fill="#0db3cc"/>
<rect x="54.79" y="195.08" width="1.41" height="1.41" fill="#3c6bfc"/>
<rect x="54.79" y="196.29" width="1.41" height="1.41" fill="#3c6bfc"/>
<rect x="54.79" y="197.50" width="1.41" height="1.41" fill="#3c6bfc"/>
<rect x="54.79" y="201.12" width="1.41" height="1.41" fill="#3c6bfc"/>
<rect x="54.79" y="202.33" width="1.41" height="1.41" fill="#3c6bfc"/>
<rect x="54.79" y="203.54" width="1.41" height="1.41" fill="#3c6bfc"/>
<rect x="54.79" y="204.75" width="1.41" height="1.41" fill="#3c6bfc"/>
<rect x="54.79" y="205.96" width="1.41" height="1.41" fill="#3c6bfc"/>
<rect x="54.79" y="207.17" width="1.41" height="1.41" fill="#3c6bfc"/>
<rect x="54.79" y="208.38" width="1.41" height="1.41" fill="#f0b836"/>
<rect x="54.79" y="209.58" width="1.41" height="1.41" fill="#69cf69"/>
<rect x="54.79" y="210.79" width="1.41" height="1.41" fill="#f9fb14"/>
<rect x="54.79" y="212.00" width="1.41" height="1.41" fill="#f9fb14"/>
<rect x="54.79" y="213.21" width="1.41" height="1.41" fill="#69cf69"/>
<rect x="54.79" y="214.42" width="1.41" height="1.41" fill="#0db3cc"/>
<rect x="54.79" y="215.62" width="1.41" height="1.41" fill="#0db3cc"/>
<rect x="54.79" y="216.83" width="1.41" height="1.41" fill="#3c6bfc"/>
<rect x="54.79" y="218.04" width="1.41" height="1.41" fill="#0db3cc"/>
<rect x="54.79" y="220.46" width="1.41" height="1.41" fill="#3c6bfc"/>
<rect x="54.79" y="222.88" width="1.41" height="1.41" fill="#3c6bfc"/>
<rect x="56.00" y="196.29" width="1.41" height="1.41" fill="#3c6bfc"/>
<rect x="56.00" y="197.50" width="1.41" height="1.41" fill="#69cf69"/>
<rect x="56.00" y="199.92" width="1.41" height="1.41" fill="#f0b836"/>
<rect x="56.00" y="201.12" width="1.41" height="1.41" fill="#0db3cc"/>
<rect x="56.00" y="202.33" width="1.41" height="1.41" fill="#3c6bfc"/>
<rect x="56.00" y="204.75" width="1.41" height="1.41" fill="#0db3cc"/>
<rect x="56.00" y="205.96" width="1.41" height="1.41" fill="#3c6bfc"/>
<rect x="56.00" y="207.17" width="1.41" height="1.41" fill="#0db3cc"/>
<rect x="56.00" y="208.38" width="1.41" height="1.41" fill="#0db3cc"/>
<rect x="56.00" y="209.58" width="1.41" height="1.41" fill="#f9fb14"/>
<rect x="56.00" y="210.79" width="1.41" height="1.41" fill="#f9fb14"/>
<rect x="56.00" y="212.00" width="1.41" height="1.41" fill="#f9fb14"/>
<rect x="56.00" y="213.21" width="1.41" height="1.41" fill="#f9fb14"/>
<rect x="56.00" y="214.42" width="1.41" height="1.41" fill="#0db3cc"/>
<rect x="56.00" y="215.62" width="1.41" height="1.41" fill="#0db3cc"/>
<rect x="56.00" y="216.83" width="1.41" height="1.41" fill="#69cf69"/>
<rect x="56.00" y="221.67" width="1.41" height="1.41" fill="#3c6bfc"/>
<rect x="56.00" y="224.08" width="1.41" height="1.41" fill="#3c6bfc"/>
<rect x="57.21" y="184.21" width="1.41" height="1.41" fill="#3c6bfc"/>
<rect x="57.21" y="189.04" width="1.41" height="1.41" fill="#3c6bfc"/>
<rect x="57.21" y="193.88" width="1.41" height="1.41" fill="#3c6bfc"/>
<rect x="57.21" y="196.29" width="1.41" height="1.41" fill="#3c6bfc"/>
<rect x="57.21" y="197.50" width="1.41" height="1.41" fill="#0db3cc"/>
<rect x="57.21" y="198.71" width="1.41" height="1.41" fill="#3c6bfc"/>
<rect x="57.21" y="199.92" width="1.41" height="1.41" fill="#3c6bfc"/>
<rect x="57.21" y="203.54" width="1.41" height="1.41" fill="#3c6bfc"/>
<rect x="57.21" y="204.75" width="1.41" height="1.41" fill="#0db3cc"/>
<rect x="57.21" y="205.96" width="1.41" height="1.41" fill="#69cf69"/>
<rect x="57.21" y="207.17" width="1.41" height="1.41" fill="#69cf69"/>
<rect x="57.21" y="208.38" width="1.41" height="1.41" fill="#f0b836"/>
<rect x="57.21" y="209.58" width="1.41" height="1.41" fill="#f9fb14"/>
<rect x="57.21" y="210.79" width="1.41" height="1.41" fill="#3c6bfc"/>
<rect x="57.21" y="212.00" width="1.41" height="1.41" fill="#f9fb14"/>
<rect x="57.21" y="213.21" width="1.41" height="1.41" fill="#f0b836"/>
<rect x="57.21" y="214.42" width="1.41" height="1.41" fill="#0db3cc"/>
<rect x="57.21" y="215.62" width="1.41" height="1.41" fill="#3c6bfc"/>
<rect x="57.21" y="219.25" width="1.41" height="1.41" fill="#69cf69"/>
<rect x="57.21" y="220.46" width="1.41" height="1.41" fill="#3c6bfc"/>
<rect x="57.21" y="222.88" width="1.41" height="1.41" fill="#3c6bfc"/>
<rect x="58.42" y="168.50" width="1.41" height="1.41" fill="#3c6bfc"/>
<rect x="58.42" y="181.79" width="1.41" height="1.41" fill="#3c6bfc"/>
<rect x="58.42" y="185.42" width="1.41" height="1.41" fill="#3c6bfc"/>
<rect x="58.42" y="192.67" width="1.41" height="1.41" fill="#3c6bfc"/>
<rect x="58.42" y="195.08" width="1.41" height="1.41" fill="#3c6bfc"/>
<rect x="58.42" y="196.29" width="1.41" height="1.41" fill="#69cf69"/>
<rect x="58.42" y="197.50" width="1.41" height="1.41" fill="#69cf69"/>
<rect x="58.42" y="202.33" width="1.41" height="1.41" fill="#f9fb14"/>
<rect x="58.42" y="204.75" width="1.41" height="1.41" fill="#0db3cc"/>
<rect x="58.42" y="205.96" width="1.41" height="1.41" fill="#0db3cc"/>
<rect x="58.42" y="207.17" width="1.41" height="1.41" fill="#f0b836"/>
<rect x="58.42" y="208.38" width="1.41" height="1.41" fill="#f9fb14"/>
<rect x="58.42" y="209.58" width="1.41" height="1.41" fill="#f9fb14"/>
<rect x="58.42" y="210.79" width="1.41" height="1.41" fill="#69cf69"/>
<rect x="58.42" y="213.21" width="1.41" height="1.41" fill="#69cf69"/>
<rect x="58.42" y="214.42" width="1.41" height="1.41" fill="#0db3cc"/>
<rect x="58.42" y="216.83" width="1.41" height="1.41" fill="#3c6bfc"/>
<rect x="58.42" y="218.04" width="1.41" height="1.41" fill="#3c6bfc"/>
<rect x="58.42" y="219.25" width="1.41" height="1.41" fill="#3c6bfc"/>
<rect x="58.42" y="221.67" width="1.41" height="1.41" fill="#3c6bfc"/>
<rect x="59.62" y="184.21" width="1.41" height="1.41" fill="#3c6bfc"/>
<rect x="59.62" y="186.62" width="1.41" height="1.41" fill="#3c6bfc"/>
<rect x="59.62" y="190.25" width="1.41" height="1.41" fill="#3c6bfc"/>
<rect x="59.62" y="191.46" width="1.41" height="1.41" fill="#3c6bfc"/>
<rect x="59.62" y="195.08" width="1.41" height="1.41" fill="#69cf69"/>
<rect x="59.62" y="196.29" width="1.41" height="1.41" fill="#3c6bfc"/>
<rect x="59.62" y="197.50" width="1.41" height="1.41" fill="#3c6bfc"/>
<rect x="59.62" y="198.71" width="1.41" height="1.41" fill="#0db3cc"/>
<rect x="59.62" y="201.12" width="1.41" height="1.41" fill="#69cf69"/>
<rect x="59.62" y="202.33" width="1.41" height="1.41" fill="#3c6bfc"/>
<rect x="59.62" y="203.54" width="1.41" height="1.41" fill="#0db3cc"/>
<rect x="59.62" y="204.75" width="1.41" height="1.41" fill="#f0b836"/>
<rect x="59.62" y="205.96" width="1.41" height="1.41" fill="#f9fb14"/>
<rect x="59.62" y="207.17" width="1.41" height="1.41" fill="#69cf69"/>
<rect x="59.62" y="208.38" width="1.41" height="1.41" fill="#69cf69"/>
<rect x="59.62" y="209.58" width="1.41" height="1.41" fill="#69cf69"/>
<rect x="59.62" y="210.79" width="1.41" height="1.41" fill="#f9fb14"/>
<rect x="59.62" y="212.00" width="1.41" height="1.41" fill="#0db3cc"/>
<rect x="59.62" y="213.21" width="1.41" height="1.41" fill="#f9fb14"/>
<rect x="59.62" y="214.42" width="1.41" height="1.41" fill="#3c6bfc"/>
<rect x="59.62" y="216.83" width="1.41" height="1.41" fill="#3c6bfc"/>
<rect x="59.62" y="219.25" width="1.41" height="1.41" fill="#3c6bfc"/>
<rect x="60.83" y="178.17" width="1.41" height="1.41" fill="#3c6bfc"/>
<rect x="60.83" y="183.00" width="1.41" height="1.41" fill="#3c6bfc"/>
<rect x="60.83" y="187.83" width="1.41" height="1.41" fill="#3c6bfc"/>
<rect x="60.83" y="189.04" width="1.41" height="1.41" fill="#3c6bfc"/>
<rect x="60.83" y="192.67" width="1.41" height="1.41" fill="#3c6bfc"/>
<rect x="60.83" y="193.88" width="1.41" height="1.41" fill="#3c6bfc"/>
<rect x="60.83" y="195.08" width="1.41" height="1.41" fill="#3c6bfc"/>
<rect x="60.83" y="196.29" width="1.41" height="1.41" fill="#0db3cc"/>
<rect x="60.83" y="197.50" width="1.41" height="1.41" fill="#3c6bfc"/>
<rect x="60.83" y="199.92" width="1.41" height="1.41" fill="#0db3cc"/>
<rect x="60.83" y="201.12" width="1.41" height="1.41" fill="#0db3cc"/>
<rect x="60.83" y="202.33" width="1.41" height="1.41" fill="#f9fb14"/>
<rect x="60.83" y="203.54" width="1.41" height="1.41" fill="#f0b836"/>
<rect x="60.83" y="204.75" width="1.41" height="1.41" fill="#f9fb14"/>
<rect x="60.83" y="205.96" width="1.41" height="1.41" fill="#f9fb14"/>
<rect x="60.83" y="207.17" width="1.41" height="1.41" fill="#69cf69"/>
<rect x="60.83" y="209.58" width="1.41" height="1.41" fill="#0db3cc"/>
<rect x="60.83" y="210.79" width="1.41" height="1.41" fill="#0db3cc"/>
<rect x="60.83" y="212.00" width="1.41" height="1.41" fill="#0db3cc"/>
<rect x="60.83" y="213.21" width="1.41" height="1.41" fill="#0db3cc"/>
<rect x="60.83" y="214.42" width="1.41" height="1.41" fill="#69cf69"/>
<rect x="60.83" y="215.62" width="1.41" height="1.41" fill="#0db3cc"/>
<rect x="60.83" y="218.04" width="1.41" height="1.41" fill="#0db3cc"/>
<rect x="62.04" y="186.62" width="1.41" height="1.41" fill="#3c6bfc"/>
<rect x="62.04" y="191.46" width="1.41" height="1.41" fill="#3c6bfc"/>
<rect x="62.04" y="192.67" width="1.41" height="1.41" fill="#3c6bfc"/>
<rect x="62.04" y="193.88" width="1.41" height="1.41" fill="#3c6bfc"/>
<rect x="62.04" y="195.08" width="1.41" height="1.41" fill="#0db3cc"/>
<rect x="62.04" y="196.29" width="1.41" height="1.41" fill="#69cf69"/>
<rect x="62.04" y="197.50" width="1.41" height="1.41" fill="#0db3cc"/>
<rect x="62.04" y="198.71" width="1.41" height="1.41" fill="#3c6bfc"/>
<rect x="62.04" y="199.92" width="1.41" height="1.41" fill="#0db3cc"/>
<rect x="62.04" y="201.12" width="1.41" height="1.41" fill="#f9fb14"/>
<rect x="62.04" y="202.33" width="1.41" height="1.41" fill="#f0b836"/>
<rect x="62.04" y="203.54" width="1.41" height="1.41" fill="#f9fb14"/>
<rect x="62.04" y="204.75" width="1.41" height="1.41" fill="#f9fb14"/>
<rect x="62.04" y="205.96" width="1.41" height="1.41" fill="#f9fb14"/>
<rect x="62.04" y="207.17" width="1.41" height="1.41" fill="#f0b836"/>
<rect x="62.04" y="209.58" width="1.41" height="1.41" fill="#3c6bfc"/>
<rect x="62.04" y="212.00" width="1.41" height="1.41" fill="#f0b836"/>
<rect x="62.04" y="213.21" width="1.41" height="1.41" fill="#0db3cc"/>
<rect x="62.04" y="214.42" width="1.41" height="1.41" fill="#3c6bfc"/>
<rect x="62.04" y="215.62" width="1.41" height="1.41" fill="#3c6bfc"/>
<rect x="62.04" y="216.83" width="1.41" height="1.41" fill="#3c6bfc"/>
<rect x="62.04" y="218.04" width="1.41" height="1.41" fill="#3c6bfc"/>
<rect x="62.04" y="222.88" width="1.41" height="1.41" fill="#3c6bfc"/>
<rect x="63.25" y="178.17" width="1.41" height="1.41" fill="#3c6bfc"/>
<rect x="63.25" y="183.00" width="1.41" height="1.41" fill="#3c6bfc"/>
<rect x="63.25" y="184.21" width="1.41" height="1.41" fill="#3c6bfc"/>
<rect x="63.25" y="187.83" width="1.41" height="1.41" fill="#3c6bfc"/>
<rect x="63.25" y="189.04" width="1.41" height="1.41" fill="#3c6bfc"/>
<rect x="63.25" y="192.67" width="1.41" height="1.41" fill="#3c6bfc"/>
<rect x="63.25" y="197.50" width="1.41" height="1.41" fill="#3c6bfc"/>
<rect x="63.25" y="198.71" width="1.41" height="1.41" fill="#69cf69"/>
<rect x="63.25" y="201.12" width="1.41" height="1.41" fill="#f0b836"/>
<rect x="63.25" y="202.33" width="1.41" height="1.41" fill="#f9fb14"/>
<rect x="63.25" y="203.54" width="1.41" height="1.41" fill="#69cf69"/>
<rect x="63.25" y="204.75" width="1.41" height="1.41" fill="#f9fb14"/>
<rect x="63.25" y="205.96" width="1.41" height="1.41" fill="#69cf69"/>
<rect x="63.25" y="207.17" width="1.41" height="1.41" fill="#69cf69"/>
<rect x="63.25" y="208.38" width="1.41" height="1.41" fill="#f0b836"/>
<rect x="63.25" y="209.58" width="1.41" height="1.41" fill="#f0b836"/>
<rect x="63.25" y="210.79" width="1.41" height="1.41" fill="#3c6bfc"/>
<rect x="63.25" y="212.00" width="1.41" height="1.41" fill="#69cf69"/>
<rect x="63.25" y="213.21" width="1.41" height="1.41" fill="#69cf69"/>
<rect x="63.25" y="216.83" width="1.41" height="1.41" fill="#3c6bfc"/>
<rect x="63.25" y="220.46" width="1.41" height="1.41" fill="#3c6bfc"/>
<rect x="64.46" y="183.00" width="1.41" height="1.41" fill="#3c6bfc"/>
<rect x="64.46" y="186.62" width="1.41" height="1.41" fill="#3c6bfc"/>
<rect x="64.46" y="187.83" width="1.41" height="1.41" fill="#0db3cc"/>
<rect x="64.46" y="189.04" width="1.41" height="1.41" fill="#3c6bfc"/>
<rect x="64.46" y="190.25" width="1.41" height="1.41" fill="#3c6bfc"/>
<rect x="64.46" y="192.67" width="1.41" height="1.41" fill="#69cf69"/>
<rect x="64.46" y="193.88" width="1.41" height="1.41" fill="#0db3cc"/>
<rect x="64.46" y="195.08" width="1.41" height="1.41" fill="#f0b836"/>
<rect x="64.46" y="196.29" width="1.41" height="1.41" fill="#0db3cc"/>
<rect x="64.46" y="197.50" width="1.41" height="1.41" fill="#0db3cc"/>
<rect x="64.46" y="198.71" width="1.41" height="1.41" fill="#69cf69"/>
<rect x="64.46" y="199.92" width="1.41" height="1.41" fill="#69cf69"/>
<rect x="64.46" y="201.12" width="1.41" height="1.41" fill="#f9fb14"/>
<rect x="64.46" y="202.33" width="1.41" height="1.41" fill="#f9fb14"/>
<rect x="64.46" y="203.54" width="1.41" height="1.41" fill="#f9fb14"/>
<rect x="64.46" y="204.75" width="1.41" height="1.41" fill="#0db3cc"/>
<rect x="64.46" y="205.96" width="1.41" height="1.41" fill="#3c6bfc"/>
<rect x="64.46" y="207.17" width="1.41" height="1.41" fill="#f0b836"/>
<rect x="64.46" y="208.38" width="1.41" height="1.41" fill="#0db3cc"/>
<rect x="64.46" y="209.58" width="1.41" height="1.41" fill="#0db3cc"/>
<rect x="64.46" y="210.79" width="1.41" height="1.41" fill="#69cf69"/>
<rect x="64.46" y="212.00" width="1.41" height="1.41" fill="#3c6bfc"/>
<rect x="64.46" y="213.21" width="1.41" height="1.41" fill="#0db3cc"/>
<rect x="64.46" y="218.04" width="1.41" height="1.41" fill="#0db3cc"/>
<rect x="64.46" y="224.08" width="1.41" height="1.41" fill="#3c6bfc"/>
<rect x="65.67" y="185.42" width="1.41" height="1.41" fill="#3c6bfc"/>
<rect x="65.67" y="186.62" width="1.41" height="1.41" fill="#3c6bfc"/>
<rect x="65.67" y="189.04" width="1.41" height="1.41" fill="#3c6bfc"/>
<rect x="65.67" y="190.25" width="1.41" height="1.41" fill="#69cf69"/>
<rect x="65.67" y="191.46" width="1.41" height="1.41" fill="#3c6bfc"/>
<rect x="65.67" y="192.67" width="1.41" height="1.41" fill="#f0b836"/>
<rect x="65.67" y="193.88" width="1.41" height="1.41" fill="#69cf69"/>
<rect x="65.67" y="195.08" width="1.41" height="1.41" fill="#3c6bfc"/>
<rect x="65.67" y="196.29" width="1.41" height="1.41" fill="#69cf69"/>
<rect x="65.67" y="197.50" width="1.41" height="1.41" fill="#0db3cc"/>
<rect x="65.67" y="198.71" width="1.41" height="1.41" fill="#f0b836"/>
<rect x="65.67" y="199.92" width="1.41" height="1.41" fill="#f0b836"/>
<rect x="65.67" y="201.12" width="1.41" height="1.41" fill="#f9fb14"/>
<rect x="65.67" y="202.33" width="1.41" height="1.41" fill="#f9fb14"/>
<rect x="65.67" y="203.54" width="1.41" height="1.41" fill="#69cf69"/>
<rect x="65.67" y="204.75" width="1.41" height="1.41" fill="#69cf69"/>
<rect x="65.67" y="205.96" width="1.41" height="1.41" fill="#0db3cc"/>
<rect x="65.67" y="207.17" width="1.41" height="1.41" fill="#0db3cc"/>
<rect x="65.67" y="208.38" width="1.41" height="1.41" fill="#3c6bfc"/>
<rect x="65.67" y="210.79" width="1.41" height="1.41" fill="#0db3cc"/>
<rect x="65.67" y="214.42" width="1.41" height="1.41" fill="#3c6bfc"/>
<rect x="66.88" y="179.38" width="1.41" height="1.41" fill="#3c6bfc"/>
<rect x="66.88" y="180.58" width="1.41" height="1.41" fill="#3c6bfc"/>
<rect x="66.88" y="183.00" width="1.41" height="1.41" fill="#3c6bfc"/>
<rect x="66.88" y="186.62" width="1.41" height="1.41" fill="#3c6bfc"/>
<rect x="66.88" y="187.83" width="1.41" height="1.41" fill="#3c6bfc"/>
<rect x="66.88" y="189.04" width="1.41" height="1.41" fill="#3c6bfc"/>
<rect x="66.88" y="190.25" width="1.41" height="1.41" fill="#69cf69"/>
<rect x="66.88" y="191.46" width="1.41" height="1.41" fill="#69cf69"/>
<rect x="66.88" y="192.67" width="1.41" height="1.41" fill="#f0b836"/>
<rect x="66.88" y="193.88" width="1.41" height="1.41" fill="#3c6bfc"/>
<rect x="66.88" y="195.08" width="1.41" height="1.41" fill="#0db3cc"/>
<rect x="66.88" y="196.29" width="1.41" height="1.41" fill="#69cf69"/>
<rect x="66.88" y="197.50" width="1.41" height="1.41" fill="#69cf69"/>
<rect x="66.88" y="198.71" width="1.41" height="1.41" fill="#f9fb14"/>
<rect x="66.88" y="199.92" width="1.41" height="1.41" fill="#f0b836"/>
<rect x="66.88" y="201.12" width="1.41" height="1.41" fill="#f9fb14"/>
<rect x="66.88" y="202.33" width="1.41" height="1.41" fill="#f9fb14"/>
<rect x="66.88" y="203.54" width="1.41" height="1.41" fill="#f0b836"/>
<rect x="66.88" y="204.75" width="1.41" height="1.41" fill="#f9fb14"/>
<rect x="66.88" y="205.96" width="1.41" height="1.41" fill="#69cf69"/>
<rect x="66.88" y="207.17" width="1.41" height="1.41" fill="#0db3cc"/>
<rect x="66.88" y="208.38" width="1.41" height="1.41" fill="#3c6bfc"/>
<rect x="66.88" y="209.58" width="1.41" height="1.41" fill="#3c6bfc"/>
<rect x="66.88" y="213.21" width="1.41" height="1.41" fill="#69cf69"/>
<rect x="66.88" y="214.42" width="1.41" height="1.41" fill="#0db3cc"/>
<rect x="66.88" y="222.88" width="1.41" height="1.41" fill="#3c6bfc"/>
<rect x="68.08" y="169.71" width="1.41" height="1.41" fill="#3c6bfc"/>
<rect x="68.08" y="175.75" width="1.41" height="1.41" fill="#3c6bfc"/>
<rect x="68.08" y="190.25" width="1.41" height="1.41" fill="#69cf69"/>
<rect x="68.08" y="191.46" width="1.41" height="1.41" fill="#3c6bfc"/>
<rect x="68.08" y="192.67" width="1.41" height="1.41" fill="#f0b836"/>
<rect x="68.08" y="193.88" width="1.41" height="1.41" fill="#0db3cc"/>
<rect x="68.08" y="195.08" width="1.41" height="1.41" fill="#69cf69"/>
<rect x="68.08" y="196.29" width="1.41" height="1.41" fill="#f9fb14"/>
<rect x="68.08" y="197.50" width="1.41" height="1.41" fill="#f9fb14"/>
<rect x="68.08" y="198.71" width="1.41" height="1.41" fill="#f0b836"/>
<rect x="68.08" y="199.92" width="1.41" height="1.41" fill="#f9fb14"/>
<rect x="68.08" y="201.12" width="1.41" height="1.41" fill="#f9fb14"/>
<rect x="68.08" y="202.33" width="1.41" height="1.41" fill="#3c6bfc"/>
<rect x="68.08" y="203.54" width="1.41" height="1.41" fill="#f9fb14"/>
<rect x="68.08" y="204.75" width="1.41" height="1.41" fill="#f0b836"/>
<rect x="68.08" y="205.96" width="1.41" height="1.41" fill="#0db3cc"/>
<rect x="68.08" y="207.17" width="1.41" height="1.41" fill="#3c6bfc"/>
<rect x="68.08" y="208.38" width="1.41" height="1.41" fill="#3c6bfc"/>
<rect x="68.08" y="209.58" width="1.41" height="1.41" fill="#0db3cc"/>
<rect x="68.08" y="219.25" width="1.41" height="1.41" fill="#3c6bfc"/>
<rect x="68.08" y="222.88" width="1.41" height="1.41" fill="#3c6bfc"/>
<rect x="69.29" y="173.33" width="1.41" height="1.41" fill="#3c6bfc"/>
<rect x="69.29" y="175.75" width="1.41" height="1.41" fill="#3c6bfc"/>
<rect x="69.29" y="184.21" width="1.41" height="1.41" fill="#0db3cc"/>
<rect x="69.29" y="186.62" width="1.41" height="1.41" fill="#3c6bfc"/>
<rect x="69.29" y="187.83" width="1.41" height="1.41" fill="#69cf69"/>
<rect x="69.29" y="189.04" width="1.41" height="1.41" fill="#0db3cc"/>
<rect x="69.29" y="190.25" width="1.41" height="1.41" fill="#69cf69"/>
<rect x="69.29" y="191.46" width="1.41" height="1.41" fill="#3c6bfc"/>
<rect x="69.29" y="192.67" width="1.41" height="1.41" fill="#69cf69"/>
<rect x="69.29" y="193.88" width="1.41" height="1.41" fill="#f9fb14"/>
<rect x="69.29" y="195.08" width="1.41" height="1.41" fill="#f0b836"/>
<rect x="69.29" y="196.29" width="1.41" height="1.41" fill="#f9fb14"/>
<rect x="69.29" y="197.50" width="1.41" height="1.41" fill="#0db3cc"/>
<rect x="69.29" y="198.71" width="1.41" height="1.41" fill="#f9fb14"/>
<rect x="69.29" y="199.92" width="1.41" height="1.41" fill="#f0b836"/>
<rect x="69.29" y="201.12" width="1.41" height="1.41" fill="#0db3cc"/>
<rect x="69.29" y="202.33" width="1.41" height="1.41" fill="#69cf69"/>
<rect x="69.29" y="203.54" width="1.41" height="1.41" fill="#3c6bfc"/>
<rect x="69.29" y="205.96" width="1.41" height="1.41" fill="#0db3cc"/>
<rect x="69.29" y="207.17" width="1.41" height="1.41" fill="#3c6bfc"/>
<rect x="69.29" y="210.79" width="1.41" height="1.41" fill="#3c6bfc"/>
<rect x="69.29" y="216.83" width="1.41" height="1.41" fill="#3c6bfc"/>
<rect x="69.29" y="218.04" width="1.41" height="1.41" fill="#3c6bfc"/>
<rect x="69.29" y="222.88" width="1.41" height="1.41" fill="#3c6bfc"/>
<rect x="70.50" y="172.12" width="1.41" height="1.41" fill="#3c6bfc"/>
<rect x="70.50" y="173.33" width="1.41" height="1.41" fill="#3c6bfc"/>
<rect x="70.50" y="179.38" width="1.41" height="1.41" fill="#3c6bfc"/>
<rect x="70.50" y="180.58" width="1.41" height="1.41" fill="#3c6bfc"/>
<rect x="70.50" y="185.42" width="1.41" height="1.41" fill="#3c6bfc"/>
<rect x="70.50" y="186.62" width="1.41" height="1.41" fill="#3c6bfc"/>
<rect x="70.50" y="187.83" width="1.41" height="1.41" fill="#3c6bfc"/>
<rect x="70.50" y="189.04" width="1.41" height="1.41" fill="#3c6bfc"/>
<rect x="70.50" y="190.25" width="1.41" height="1.41" fill="#3c6bfc"/>
<rect x="70.50" y="191.46" width="1.41" height="1.41" fill="#0db3cc"/>
<rect x="70.50" y="192.67" width="1.41" height="1.41" fill="#0db3cc"/>
<rect x="70.50" y="193.88" width="1.41" height="1.41" fill="#f0b836"/>
<rect x="70.50" y="195.08" width="1.41" height="1.41" fill="#f9fb14"/>
<rect x="70.50" y="196.29" width="1.41" height="1.41" fill="#f9fb14"/>
<rect x="70.50" y="197.50" width="1.41" height="1.41" fill="#f9fb14"/>
<rect x="70.50" y="198.71" width="1.41" height="1.41" fill="#f9fb14"/>
<rect x="70.50" y="199.92" width="1.41" height="1.41" fill="#f9fb14"/>
<rect x="70.50" y="201.12" width="1.41" height="1.41" fill="#3c6bfc"/>
<rect x="70.50" y="202.33" width="1.41" height="1.41" fill="#0db3cc"/>
<rect x="70.50" y="203.54" width="1.41" height="1.41" fill="#3c6bfc"/>
<rect x="70.50" y="204.75" width="1.41" height="1.41" fill="#3c6bfc"/>
<rect x="70.50" y="205.96" width="1.41" height="1.41" fill="#3c6bfc"/>
<rect x="70.50" y="212.00" width="1.41" height="1.41" fill="#3c6bfc"/>
<rect x="70.50" y="214.42" width="1.41" height="1.41" fill="#3c6bfc"/>
<rect x="70.50" y="215.62" width="1.41" height="1.41" fill="#3c6bfc"/>
<rect x="71.71" y="176.96" width="1.41" height="1.41" fill="#3c6bfc"/>
<rect x="71.71" y="185.42" width="1.41" height="1.41" fill="#3c6bfc"/>
<rect x="71.71" y="186.62" width="1.41" height="1.41" fill="#3c6bfc"/>
<rect x="71.71" y="189.04" width="1.41" height="1.41" fill="#69cf69"/>
<rect x="71.71" y="190.25" width="1.41" height="1.41" fill="#69cf69"/>
<rect x="71.71" y="191.46" width="1.41" height="1.41" fill="#69cf69"/>
<rect x="71.71" y="192.67" width="1.41" height="1.41" fill="#69cf69"/>
<rect x="71.71" y="193.88" width="1.41" height="1.41" fill="#f9fb14"/>
<rect x="71.71" y="195.08" width="1.41" height="1.41" fill="#f9fb14"/>
<rect x="71.71" y="196.29" width="1.41" height="1.41" fill="#f9fb14"/>
<rect x="71.71" y="197.50" width="1.41" height="1.41" fill="#69cf69"/>
<rect x="71.71" y="198.71" width="1.41" height="1.41" fill="#f9fb14"/>
<rect x="71.71" y="199.92" width="1.41" height="1.41" fill="#3c6bfc"/>
<rect x="71.71" y="201.12" width="1.41" height="1.41" fill="#3c6bfc"/>
<rect x="71.71" y="202.33" width="1.41" height="1.41" fill="#3c6bfc"/>
<rect x="71.71" y="203.54" width="1.41" height="1.41" fill="#0db3cc"/>
<rect x="71.71" y="205.96" width="1.41" height="1.41" fill="#3c6bfc"/>
<rect x="71.71" y="207.17" width="1.41" height="1.41" fill="#3c6bfc"/>
<rect x="71.71" y="209.58" width="1.41" height="1.41" fill="#3c6bfc"/>
<rect x="71.71" y="213.21" width="1.41" height="1.41" fill="#3c6bfc"/>
<rect x="72.92" y="184.21" width="1.41" height="1.41" fill="#0db3cc"/>
<rect x="72.92" y="185.42" width="1.41" height="1.41" fill="#69cf69"/>
<rect x="72.92" y="186.62" width="1.41" height="1.41" fill="#0db3cc"/>
<rect x="72.92" y="187.83" width="1.41" height="1.41" fill="#3c6bfc"/>
<rect x="72.92" y="189.04" width="1.41" height="1.41" fill="#f9fb14"/>
<rect x="72.92" y="190.25" width="1.41" height="1.41" fill="#0db3cc"/>
<rect x="72.92" y="191.46" width="1.41" height="1.41" fill="#f9fb14"/>
<rect x="72.92" y="192.67" width="1.41" height="1.41" fill="#f9fb14"/>
<rect x="72.92" y="193.88" width="1.41" height="1.41" fill="#f9fb14"/>
<rect x="72.92" y="195.08" width="1.41" height="1.41" fill="#f9fb14"/>
<rect x="72.92" y="196.29" width="1.41" height="1.41" fill="#f0b836"/>
<rect x="72.92" y="197.50" width="1.41" height="1.41" fill="#3c6bfc"/>
<rect x="72.92" y="198.71" width="1.41" height="1.41" fill="#0db3cc"/>
<rect x="72.92" y="199.92" width="1.41" height="1.41" fill="#f0b836"/>
<rect x="72.92" y="201.12" width="1.41" height="1.41" fill="#69cf69"/>
<rect x="72.92" y="202.33" width="1.41" height="1.41" fill="#f0b836"/>
<rect x="72.92" y="203.54" width="1.41" height="1.41" fill="#3c6bfc"/>
<rect x="72.92" y="204.75" width="1.41" height="1.41" fill="#3c6bfc"/>
<rect x="72.92" y="210.79" width="1.41" height="1.41" fill="#f9fb14"/>
<rect x="72.92" y="212.00" width="1.41" height="1.41" fill="#3c6bfc"/>
<rect x="72.92" y="218.04" width="1.41" height="1.41" fill="#3c6bfc"/>
<rect x="74.12" y="183.00" width="1.41" height="1.41" fill="#0db3cc"/>
<rect x="74.12" y="184.21" width="1.41" height="1.41" fill="#3c6bfc"/>
<rect x="74.12" y="186.62" width="1.41" height="1.41" fill="#3c6bfc"/>
<rect x="74.12" y="187.83" width="1.41" height="1.41" fill="#0db3cc"/>
<rect x="74.12" y="189.04" width="1.41" height="1.41" fill="#0db3cc"/>
<rect x="74.12" y="190.25" width="1.41" height="1.41" fill="#69cf69"/>
<rect x="74.12" y="191.46" width="1.41" height="1.41" fill="#f9fb14"/>
<rect x="74.12" y="192.67" width="1.41" height="1.41" fill="#f9fb14"/>
<rect x="74.12" y="193.88" width="1.41" height="1.41" fill="#0db3cc"/>
<rect x="74.12" y="195.08" width="1.41" height="1.41" fill="#f9fb14"/>
<rect x="74.12" y="196.29" width="1.41" height="1.41" fill="#f9fb14"/>
<rect x="74.12" y="197.50" width="1.41" height="1.41" fill="#69cf69"/>
<rect x="74.12" y="198.71" width="1.41" height="1.41" fill="#f0b836"/>
<rect x="74.12" y="199.92" width="1.41" height="1.41" fill="#3c6bfc"/>
<rect x="74.12" y="201.12" width="1.41" height="1.41" fill="#0db3cc"/>
<rect x="74.12" y="202.33" width="1.41" height="1.41" fill="#0db3cc"/>
<rect x="74.12" y="204.75" width="1.41" height="1.41" fill="#0db3cc"/>
<rect x="74.12" y="209.58" width="1.41" height="1.41" fill="#3c6bfc"/>
<rect x="74.12" y="221.67" width="1.41" height="1.41" fill="#3c6bfc"/>
<rect x="75.33" y="179.38" width="1.41" height="1.41" fill="#3c6bfc"/>
<rect x="75.33" y="180.58" width="1.41" height="1.41" fill="#0db3cc"/>
<rect x="75.33" y="184.21" width="1.41" height="1.41" fill="#0db3cc"/>
<rect x="75.33" y="186.62" width="1.41" height="1.41" fill="#0db3cc"/>
<rect x="75.33" y="187.83" width="1.41" height="1.41" fill="#0db3cc"/>
<rect x="75.33" y="189.04" width="1.41" height="1.41" fill="#0db3cc"/>
<rect x="75.33" y="190.25" width="1.41" height="1.41" fill="#69cf69"/>
<rect x="75.33" y="191.46" width="1.41" height="1.41" fill="#f9fb14"/>
<rect x="75.33" y="192.67" width="1.41" height="1.41" fill="#f9fb14"/>
<rect x="75.33" y="193.88" width="1.41" height="1.41" fill="#f9fb14"/>
<rect x="75.33" y="195.08" width="1.41" height="1.41" fill="#69cf69"/>
<rect x="75.33" y="196.29" width="1.41" height="1.41" fill="#69cf69"/>
<rect x="75.33" y="197.50" width="1.41" height="1.41" fill="#3c6bfc"/>
<rect x="75.33" y="198.71" width="1.41" height="1.41" fill="#3c6bfc"/>
<rect x="75.33" y="202.33" width="1.41" height="1.41" fill="#0db3cc"/>
<rect x="75.33" y="203.54" width="1.41" height="1.41" fill="#3c6bfc"/>
<rect x="75.33" y="209.58" width="1.41" height="1.41" fill="#3c6bfc"/>
<rect x="75.33" y="210.79" width="1.41" height="1.41" fill="#3c6bfc"/>
<rect x="75.33" y="212.00" width="1.41" height="1.41" fill="#3c6bfc"/>
<rect x="75.33" y="216.83" width="1.41" height="1.41" fill="#3c6bfc"/>
<rect x="76.54" y="178.17" width="1.41" height="1.41" fill="#3c6bfc"/>
<rect x="76.54" y="179.38" width="1.41" height="1.41" fill="#3c6bfc"/>
<rect x="76.54" y="180.58" width="1.41" height="1.41" fill="#69cf69"/>
<rect x="76.54" y="181.79" width="1.41" height="1.41" fill="#0db3cc"/>
<rect x="76.54" y="184.21" width="1.41" height="1.41" fill="#3c6bfc"/>
<rect x="76.54" y="185.42" width="1.41" height="1.41" fill="#69cf69"/>
<rect x="76.54" y="186.62" width="1.41" height="1.41" fill="#f0b836"/>
<rect x="76.54" y="187.83" width="1.41" height="1.41" fill="#0db3cc"/>
<rect x="76.54" y="189.04" width="1.41" height="1.41" fill="#69cf69"/>
<rect x="76.54" y="190.25" width="1.41" height="1.41" fill="#69cf69"/>
<rect x="76.54" y="191.46" width="1.41" height="1.41" fill="#f9fb14"/>
<rect x="76.54" y="192.67" width="1.41" height="1.41" fill="#69cf69"/>
<rect x="76.54" y="193.88" width="1.41" height="1.41" fill="#f9fb14"/>
<rect x="76.54" y="195.08" width="1.41" height="1.41" fill="#0db3cc"/>
<rect x="76.54" y="196.29" width="1.41" height="1.41" fill="#f0b836"/>
<rect x="76.54" y="197.50" width="1.41" height="1.41" fill="#0db3cc"/>
<rect x="76.54" y="198.71" width="1.41" height="1.41" fill="#0db3cc"/>
<rect x="76.54" y="201.12" width="1.41" height="1.41" fill="#0db3cc"/>
<rect x="76.54" y="202.33" width="1.41" height="1.41" fill="#3c6bfc"/>
<rect x="76.54" y="204.75" width="1.41" height="1.41" fill="#3c6bfc"/>
<rect x="76.54" y="213.21" width="1.41" height="1.41" fill="#3c6bfc"/>
<rect x="76.54" y="224.08" width="1.41" height="1.41" fill="#3c6bfc"/>
<rect x="77.75" y="173.33" width="1.41" height="1.41" fill="#3c6bfc"/>
<rect x="77.75" y="174.54" width="1.41" height="1.41" fill="#3c6bfc"/>
<rect x="77.75" y="175.75" width="1.41" height="1.41" fill="#3c6bfc"/>
<rect x="77.75" y="176.96" width="1.41" height="1.41" fill="#3c6bfc"/>
<rect x="77.75" y="178.17" width="1.41" height="1.41" fill="#3c6bfc"/>
<rect x="77.75" y="179.38" width="1.41" height="1.41" fill="#69cf69"/>
<rect x="77.75" y="183.00" width="1.41" height="1.41" fill="#3c6bfc"/>
<rect x="77.75" y="184.21" width="1.41" height="1.41" fill="#0db3cc"/>
<rect x="77.75" y="185.42" width="1.41" height="1.41" fill="#69cf69"/>
<rect x="77.75" y="186.62" width="1.41" height="1.41" fill="#f9fb14"/>
<rect x="77.75" y="187.83" width="1.41" height="1.41" fill="#f9fb14"/>
<rect x="77.75" y="189.04" width="1.41" height="1.41" fill="#f9fb14"/>
<rect x="77.75" y="190.25" width="1.41" height="1.41" fill="#3c6bfc"/>
<rect x="77.75" y="191.46" width="1.41" height="1.41" fill="#3c6bfc"/>
<rect x="77.75" y="192.67" width="1.41" height="1.41" fill="#69cf69"/>
<rect x="77.75" y="193.88" width="1.41" height="1.41" fill="#0db3cc"/>
<rect x="77.75" y="195.08" width="1.41" height="1.41" fill="#f9fb14"/>
<rect x="77.75" y="196.29" width="1.41" height="1.41" fill="#0db3cc"/>
<rect x="77.75" y="198.71" width="1.41" height="1.41" fill="#3c6bfc"/>
<rect x="77.75" y="199.92" width="1.41" height="1.41" fill="#3c6bfc"/>
<rect x="77.75" y="202.33" width="1.41" height="1.41" fill="#3c6bfc"/>
<rect x="77.75" y="203.54" width="1.41" height="1.41" fill="#3c6bfc"/>
<rect x="77.75" y="221.67" width="1.41" height="1.41" fill="#3c6bfc"/>
<rect x="78.96" y="178.17" width="1.41" height="1.41" fill="#0db3cc"/>
<rect x="78.96" y="179.38" width="1.41" height="1.41" fill="#69cf69"/>
<rect x="78.96" y="180.58" width="1.41" height="1.41" fill="#3c6bfc"/>
<rect x="78.96" y="181.79" width="1.41" height="1.41" fill="#3c6bfc"/>
<rect x="78.96" y="183.00" width="1.41" height="1.41" fill="#69cf69"/>
<rect x="78.96" y="184.21" width="1.41" height="1.41" fill="#0db3cc"/>
<rect x="78.96" y="185.42" width="1.41" height="1.41" fill="#f9fb14"/>
<rect x="78.96" y="186.62" width="1.41" height="1.41" fill="#f9fb14"/>
<rect x="78.96" y="187.83" width="1.41" height="1.41" fill="#f9fb14"/>
<rect x="78.96" y="189.04" width="1.41" height="1.41" fill="#f9fb14"/>
<rect x="78.96" y="190.25" width="1.41" height="1.41" fill="#f9fb14"/>
<rect x="78.96" y="191.46" width="1.41" height="1.41" fill="#0db3cc"/>
<rect x="78.96" y="192.67" width="1.41" height="1.41" fill="#f0b836"/>
<rect x="78.96" y="193.88" width="1.41" height="1.41" fill="#3c6bfc"/>
<rect x="78.96" y="195.08" width="1.41" height="1.41" fill="#69cf69"/>
<rect x="78.96" y="196.29" width="1.41" height="1.41" fill="#3c6bfc"/>
<rect x="78.96" y="198.71" width="1.41" height="1.41" fill="#0db3cc"/>
<rect x="78.96" y="199.92" width="1.41" height="1.41" fill="#69cf69"/>
<rect x="78.96" y="202.33" width="1.41" height="1.41" fill="#0db3cc"/>
<rect x="78.96" y="208.38" width="1.41" height="1.41" fill="#3c6bfc"/>
<rect x="78.96" y="213.21" width="1.41" height="1.41" fill="#3c6bfc"/>
<rect x="80.17" y="176.96" width="1.41" height="1.41" fill="#3c6bfc"/>
<rect x="80.17" y="180.58" width="1.41" height="1.41" fill="#3c6bfc"/>
<rect x="80.17" y="181.79" width="1.41" height="1.41" fill="#0db3cc"/>
<rect x="80.17" y="183.00" width="1.41" height="1.41" fill="#f0b836"/>
<rect x="80.17" y="184.21" width="1.41" height="1.41" fill="#f0b836"/>
<rect x="80.17" y="185.42" width="1.41" height="1.41" fill="#f9fb14"/>
<rect x="80.17" y="186.62" width="1.41" height="1.41" fill="#f9fb14"/>
<rect x="80.17" y="187.83" width="1.41" height="1.41" fill="#f9fb14"/>
<rect x="80.17" y="189.04" width="1.41" height="1.41" fill="#f9fb14"/>
<rect x="80.17" y="190.25" width="1.41" height="1.41" fill="#f9fb14"/>
<rect x="80.17" y="192.67" width="1.41" height="1.41" fill="#f0b836"/>
<rect x="80.17" y="193.88" width="1.41" height="1.41" fill="#3c6bfc"/>
<rect x="80.17" y="195.08" width="1.41" height="1.41" fill="#3c6bfc"/>
<rect x="80.17" y="197.50" width="1.41" height="1.41" fill="#0db3cc"/>
<rect x="80.17" y="198.71" width="1.41" height="1.41" fill="#0db3cc"/>
<rect x="80.17" y="201.12" width="1.41" height="1.41" fill="#3c6bfc"/>
<rect x="80.17" y="202.33" width="1.41" height="1.41" fill="#0db3cc"/>
<rect x="80.17" y="203.54" width="1.41" height="1.41" fill="#3c6bfc"/>
<rect x="80.17" y="208.38" width="1.41" height="1.41" fill="#3c6bfc"/>
<rect x="81.38" y="174.54" width="1.41" height="1.41" fill="#3c6bfc"/>
<rect x="81.38" y="175.75" width="1.41" height="1.41" fill="#3c6bfc"/>
<rect x="81.38" y="176.96" width="1.41" height="1.41" fill="#0db3cc"/>
<rect x="81.38" y="178.17" width="1.41" height="1.41" fill="#3c6bfc"/>
<rect x="81.38" y="179.38" width="1.41" height="1.41" fill="#0db3cc"/>
<rect x="81.38" y="180.58" width="1.41" height="1.41" fill="#0db3cc"/>
<rect x="81.38" y="181.79" width="1.41" height="1.41" fill="#f9fb14"/>
<rect x="81.38" y="183.00" width="1.41" height="1.41" fill="#0db3cc"/>
<rect x="81.38" y="184.21" width="1.41" height="1.41" fill="#69cf69"/>
<rect x="81.38" y="185.42" width="1.41" height="1.41" fill="#f9fb14"/>
<rect x="81.38" y="186.62" width="1.41" height="1.41" fill="#f0b836"/>
<rect x="81.38" y="187.83" width="1.41" height="1.41" fill="#3c6bfc"/>
<rect x="81.38" y="189.04" width="1.41" height="1.41" fill="#f0b836"/>
<rect x="81.38" y="190.25" width="1.41" height="1.41" fill="#0db3cc"/>
<rect x="81.38" y="192.67" width="1.41" height="1.41" fill="#3c6bfc"/>
<rect x="81.38" y="193.88" width="1.41" height="1.41" fill="#3c6bfc"/>
<rect x="81.38" y="196.29" width="1.41" height="1.41" fill="#3c6bfc"/>
<rect x="81.38" y="197.50" width="1.41" height="1.41" fill="#3c6bfc"/>
<rect x="81.38" y="198.71" width="1.41" height="1.41" fill="#3c6bfc"/>
<rect x="81.38" y="199.92" width="1.41" height="1.41" fill="#3c6bfc"/>
<rect x="81.38" y="201.12" width="1.41" height="1.41" fill="#0db3cc"/>
<rect x="81.38" y="219.25" width="1.41" height="1.41" fill="#3c6bfc"/>
<rect x="82.58" y="168.50" width="1.41" height="1.41" fill="#3c6bfc"/>
<rect x="82.58" y="170.92" width="1.41" height="1.41" fill="#3c6bfc"/>
<rect x="82.58" y="176.96" width="1.41" height="1.41" fill="#0db3cc"/>
<rect x="82.58" y="178.17" width="1.41" height="1.41" fill="#3c6bfc"/>
<rect x="82.58" y="179.38" width="1.41" height="1.41" fill="#f0b836"/>
<rect x="82.58" y="181.79" width="1.41" height="1.41" fill="#69cf69"/>
<rect x="82.58" y="183.00" width="1.41" height="1.41" fill="#69cf69"/>
<rect x="82.58" y="184.21" width="1.41" height="1.41" fill="#f9fb14"/>
<rect x="82.58" y="185.42" width="1.41" height="1.41" fill="#0db3cc"/>
<rect x="82.58" y="186.62" width="1.41" height="1.41" fill="#69cf69"/>
<rect x="82.58" y="187.83" width="1.41" height="1.41" fill="#0db3cc"/>
<rect x="82.58" y="189.04" width="1.41" height="1.41" fill="#0db3cc"/>
<rect x="82.58" y="190.25" width="1.41" height="1.41" fill="#69cf69"/>
<rect x="82.58" y="192.67" width="1.41" height="1.41" fill="#3c6bfc"/>
<rect x="82.58" y="193.88" width="1.41" height="1.41" fill="#3c6bfc"/>
<rect x="82.58" y="196.29" width="1.41" height="1.41" fill="#3c6bfc"/>
<rect x="82.58" y="197.50" width="1.41" height="1.41" fill="#3c6bfc"/>
<rect x="82.58" y="205.96" width="1.41" height="1.41" fill="#3c6bfc"/>
<rect x="82.58" y="207.17" width="1.41" height="1.41" fill="#3c6bfc"/>
<rect x="82.58" y="208.38" width="1.41" height="1.41" fill="#3c6bfc"/>
<rect x="83.79" y="170.92" width="1.41" height="1.41" fill="#3c6bfc"/>
<rect x="83.79" y="174.54" width="1.41" height="1.41" fill="#0db3cc"/>
<rect x="83.79" y="175.75" width="1.41" height="1.41" fill="#69cf69"/>
<rect x="83.79" y="176.96" width="1.41" height="1.41" fill="#69cf69"/>
<rect x="83.79" y="178.17" width="1.41" height="1.41" fill="#69cf69"/>
<rect x="83.79" y="179.38" width="1.41" height="1.41" fill="#69cf69"/>
<rect x="83.79" y="180.58" width="1.41" height="1.41" fill="#0db3cc"/>
<rect x="83.79" y="181.79" width="1.41" height="1.41" fill="#f9fb14"/>
<rect x="83.79" y="183.00" width="1.41" height="1.41" fill="#f9fb14"/>
<rect x="83.79" y="184.21" width="1.41" height="1.41" fill="#f9fb14"/>
<rect x="83.79" y="185.42" width="1.41" height="1.41" fill="#f9fb14"/>
<rect x="83.79" y="186.62" width="1.41" height="1.41" fill="#69cf69"/>
<rect x="83.79" y="187.83" width="1.41" height="1.41" fill="#f0b836"/>
<rect x="83.79" y="190.25" width="1.41" height="1.41" fill="#3c6bfc"/>
<rect x="83.79" y="191.46" width="1.41" height="1.41" fill="#0db3cc"/>
<rect x="83.79" y="192.67" width="1.41" height="1.41" fill="#3c6bfc"/>
<rect x="83.79" y="193.88" width="1.41" height="1.41" fill="#69cf69"/>
<rect x="83.79" y="195.08" width="1.41" height="1.41" fill="#3c6bfc"/>
<rect x="83.79" y="197.50" width="1.41" height="1.41" fill="#3c6bfc"/>
<rect x="83.79" y="201.12" width="1.41" height="1.41" fill="#3c6bfc"/>
<rect x="85.00" y="169.71" width="1.41" height="1.41" fill="#3c6bfc"/>
<rect x="85.00" y="170.92" width="1.41" height="1.41" fill="#3c6bfc"/>
<rect x="85.00" y="173.33" width="1.41" height="1.41" fill="#3c6bfc"/>
<rect x="85.00" y="175.75" width="1.41" height="1.41" fill="#69cf69"/>
<rect x="85.00" y="176.96" width="1.41" height="1.41" fill="#f0b836"/>
<rect x="85.00" y="178.17" width="1.41" height="1.41" fill="#0db3cc"/>
<rect x="85.00" y="180.58" width="1.41" height="1.41" fill="#f9fb14"/>
<rect x="85.00" y="181.79" width="1.41" height="1.41" fill="#f0b836"/>
<rect x="85.00" y="183.00" width="1.41" height="1.41" fill="#f9fb14"/>
<rect x="85.00" y="184.21" width="1.41" height="1.41" fill="#f9fb14"/>
<rect x="85.00" y="185.42" width="1.41" height="1.41" fill="#f9fb14"/>
<rect x="85.00" y="186.62" width="1.41" height="1.41" fill="#f0b836"/>
<rect x="85.00" y="187.83" width="1.41" height="1.41" fill="#69cf69"/>
<rect x="85.00" y="189.04" width="1.41" height="1.41" fill="#3c6bfc"/>
<rect x="85.00" y="190.25" width="1.41" height="1.41" fill="#0db3cc"/>
<rect x="85.00" y="191.46" width="1.41" height="1.41" fill="#3c6bfc"/>
<rect x="85.00" y="195.08" width="1.41" height="1.41" fill="#3c6bfc"/>
<rect x="85.00" y="197.50" width="1.41" height="1.41" fill="#3c6bfc"/>
<rect x="85.00" y="201.12" width="1.41" height="1.41" fill="#3c6bfc"/>
<rect x="85.00" y="202.33" width="1.41" height="1.41" fill="#3c6bfc"/>
<rect x="85.00" y="204.75" width="1.41" height="1.41" fill="#3c6bfc"/>
<rect x="86.21" y="168.50" width="1.41" height="1.41" fill="#0db3cc"/>
<rect x="86.21" y="170.92" width="1.41" height="1.41" fill="#3c6bfc"/>
<rect x="86.21" y="173.33" width="1.41" height="1.41" fill="#3c6bfc"/>
<rect x="86.21" y="174.54" width="1.41" height="1.41" fill="#3c6bfc"/>
<rect x="86.21" y="175.75" width="1.41" height="1.41" fill="#0db3cc"/>
<rect x="86.21" y="176.96" width="1.41" height="1.41" fill="#0db3cc"/>
<rect x="86.21" y="178.17" width="1.41" height="1.41" fill="#f0b836"/>
<rect x="86.21" y="179.38" width="1.41" height="1.41" fill="#f9fb14"/>
<rect x="86.21" y="180.58" width="1.41" height="1.41" fill="#f9fb14"/>
<rect x="86.21" y="181.79" width="1.41" height="1.41" fill="#f9fb14"/>
<rect x="86.21" y="183.00" width="1.41" height="1.41" fill="#0db3cc"/>
<rect x="86.21" y="184.21" width="1.41" height="1.41" fill="#69cf69"/>
<rect x="86.21" y="185.42" width="1.41" height="1.41" fill="#69cf69"/>
<rect x="86.21" y="186.62" width="1.41" height="1.41" fill="#0db3cc"/>
<rect x="86.21" y="187.83" width="1.41" height="1.41" fill="#0db3cc"/>
<rect x="86.21" y="189.04" width="1.41" height="1.41" fill="#3c6bfc"/>
<rect x="86.21" y="192.67" width="1.41" height="1.41" fill="#3c6bfc"/>
<rect x="86.21" y="195.08" width="1.41" height="1.41" fill="#3c6bfc"/>
<rect x="86.21" y="202.33" width="1.41" height="1.41" fill="#3c6bfc"/>
<rect x="87.42" y="168.50" width="1.41" height="1.41" fill="#3c6bfc"/>
<rect x="87.42" y="172.12" width="1.41" height="1.41" fill="#0db3cc"/>
<rect x="87.42" y="174.54" width="1.41" height="1.41" fill="#3c6bfc"/>
<rect x="87.42" y="175.75" width="1.41" height="1.41" fill="#f9fb14"/>
<rect x="87.42" y="176.96" width="1.41" height="1.41" fill="#0db3cc"/>
<rect x="87.42" y="178.17" width="1.41" height="1.41" fill="#69cf69"/>
<rect x="87.42" y="179.38" width="1.41" height="1.41" fill="#69cf69"/>
<rect x="87.42" y="180.58" width="1.41" height="1.41" fill="#69cf69"/>
<rect x="87.42" y="181.79" width="1.41" height="1.41" fill="#69cf69"/>
<rect x="87.42" y="183.00" width="1.41" height="1.41" fill="#f0b836"/>
<rect x="87.42" y="185.42" width="1.41" height="1.41" fill="#3c6bfc"/>
<rect x="87.42" y="186.62" width="1.41" height="1.41" fill="#3c6bfc"/>
<rect x="87.42" y="189.04" width="1.41" height="1.41" fill="#0db3cc"/>
<rect x="87.42" y="195.08" width="1.41" height="1.41" fill="#0db3cc"/>
<rect x="87.42" y="196.29" width="1.41" height="1.41" fill="#3c6bfc"/>
<rect x="87.42" y="197.50" width="1.41" height="1.41" fill="#3c6bfc"/>
<rect x="88.62" y="168.50" width="1.41" height="1.41" fill="#69cf69"/>
<rect x="88.62" y="172.12" width="1.41" height="1.41" fill="#69cf69"/>
<rect x="88.62" y="173.33" width="1.41" height="1.41" fill="#3c6bfc"/>
<rect x="88.62" y="174.54" width="1.41" height="1.41" fill="#69cf69"/>
<rect x="88.62" y="175.75" width="1.41" height="1.41" fill="#f0b836"/>
<rect x="88.62" y="176.96" width="1.41" height="1.41" fill="#3c6bfc"/>
<rect x="88.62" y="178.17" width="1.41" height="1.41" fill="#f9fb14"/>
<rect x="88.62" y="179.38" width="1.41" height="1.41" fill="#69cf69"/>
<rect x="88.62" y="180.58" width="1.41" height="1.41" fill="#3c6bfc"/>
<rect x="88.62" y="181.79" width="1.41" height="1.41" fill="#f9fb14"/>
<rect x="88.62" y="183.00" width="1.41" height="1.41" fill="#0db3cc"/>
<rect x="88.62" y="186.62" width="1.41" height="1.41" fill="#3c6bfc"/>
<rect x="88.62" y="189.04" width="1.41" height="1.41" fill="#0db3cc"/>
<rect x="88.62" y="191.46" width="1.41" height="1.41" fill="#3c6bfc"/>
<rect x="88.62" y="196.29" width="1.41" height="1.41" fill="#3c6bfc"/>
<rect x="88.62" y="201.12" width="1.41" height="1.41" fill="#3c6bfc"/>
<rect x="89.83" y="169.71" width="1.41" height="1.41" fill="#0db3cc"/>
<rect x="89.83" y="172.12" width="1.41" height="1.41" fill="#0db3cc"/>
<rect x="89.83" y="173.33" width="1.41" height="1.41" fill="#f0b836"/>
<rect x="89.83" y="174.54" width="1.41" height="1.41" fill="#69cf69"/>
<rect x="89.83" y="175.75" width="1.41" height="1.41" fill="#3c6bfc"/>
<rect x="89.83" y="176.96" width="1.41" height="1.41" fill="#f9fb14"/>
<rect x="89.83" y="178.17" width="1.41" height="1.41" fill="#3c6bfc"/>
<rect x="89.83" y="179.38" width="1.41" height="1.41" fill="#69cf69"/>
<rect x="89.83" y="180.58" width="1.41" height="1.41" fill="#0db3cc"/>
<rect x="89.83" y="183.00" width="1.41" height="1.41" fill="#69cf69"/>
<rect x="89.83" y="184.21" width="1.41" height="1.41" fill="#69cf69"/>
<rect x="89.83" y="185.42" width="1.41" height="1.41" fill="#3c6bfc"/>
<rect x="89.83" y="186.62" width="1.41" height="1.41" fill="#3c6bfc"/>
<rect x="89.83" y="205.96" width="1.41" height="1.41" fill="#3c6bfc"/>
<rect x="89.83" y="220.46" width="1.41" height="1.41" fill="#3c6bfc"/>
<rect x="91.04" y="168.50" width="1.41" height="1.41" fill="#3c6bfc"/>
<rect x="91.04" y="169.71" width="1.41" height="1.41" fill="#3c6bfc"/>
<rect x="91.04" y="170.92" width="1.41" height="1.41" fill="#f9fb14"/>
<rect x="91.04" y="172.12" width="1.41" height="1.41" fill="#3c6bfc"/>
<rect x="91.04" y="173.33" width="1.41" height="1.41" fill="#f9fb14"/>
<rect x="91.04" y="174.54" width="1.41" height="1.41" fill="#f0b836"/>
<rect x="91.04" y="175.75" width="1.41" height="1.41" fill="#f0b836"/>
<rect x="91.04" y="176.96" width="1.41" height="1.41" fill="#f9fb14"/>
<rect x="91.04" y="179.38" width="1.41" height="1.41" fill="#69cf69"/>
<rect x="91.04" y="180.58" width="1.41" height="1.41" fill="#f9fb14"/>
<rect x="91.04" y="181.79" width="1.41" height="1.41" fill="#0db3cc"/>
<rect x="91.04" y="183.00" width="1.41" height="1.41" fill="#3c6bfc"/>
<rect x="91.04" y="184.21" width="1.41" height="1.41" fill="#3c6bfc"/>
<rect x="91.04" y="185.42" width="1.41" height="1.41" fill="#3c6bfc"/>
<rect x="91.04" y="186.62" width="1.41" height="1.41" fill="#3c6bfc"/>
<rect x="91.04" y="189.04" width="1.41" height="1.41" fill="#3c6bfc"/>
<rect x="91.04" y="190.25" width="1.41" height="1.41" fill="#3c6bfc"/>
<rect x="91.04" y="193.88" width="1.41" height="1.41" fill="#3c6bfc"/>
<rect x="91.04" y="197.50" width="1.41" height="1.41" fill="#3c6bfc"/>
<rect x="91.04" y="212.00" width="1.41" height="1.41" fill="#3c6bfc"/>
<rect x="92.25" y="168.50" width="1.41" height="1.41" fill="#69cf69"/>
<rect x="92.25" y="169.71" width="1.41" height="1.41" fill="#3c6bfc"/>
<rect x="92.25" y="170.92" width="1.41" height="1.41" fill="#3c6bfc"/>
<rect x="92.25" y="172.12" width="1.41" height="1.41" fill="#f0b836"/>
<rect x="92.25" y="173.33" width="1.41" height="1.41" fill="#69cf69"/>
<rect x="92.25" y="174.54" width="1.41" height="1.41" fill="#f9fb14"/>
<rect x="92.25" y="175.75" width="1.41" height="1.41" fill="#f0b836"/>
<rect x="92.25" y="176.96" width="1.41" height="1.41" fill="#0db3cc"/>
<rect x="92.25" y="178.17" width="1.41" height="1.41" fill="#0db3cc"/>
<rect x="92.25" y="179.38" width="1.41" height="1.41" fill="#0db3cc"/>
<rect x="92.25" y="183.00" width="1.41" height="1.41" fill="#3c6bfc"/>
<rect x="92.25" y="184.21" width="1.41" height="1.41" fill="#3c6bfc"/>
<rect x="92.25" y="185.42" width="1.41" height="1.41" fill="#3c6bfc"/>
<rect x="92.25" y="186.62" width="1.41" height="1.41" fill="#3c6bfc"/>
<rect x="93.46" y="169.71" width="1.41" height="1.41" fill="#f0b836"/>
<rect x="93.46" y="170.92" width="1.41" height="1.41" fill="#f9fb14"/>
<rect x="93.46" y="172.12" width="1.41" height="1.41" fill="#f9fb14"/>
<rect x="93.46" y="173.33" width="1.41" height="1.41" fill="#69cf69"/>
<rect x="93.46" y="174.54" width="1.41" height="1.41" fill="#69cf69"/>
<rect x="93.46" y="175.75" width="1.41" height="1.41" fill="#69cf69"/>
<rect x="93.46" y="176.96" width="1.41" height="1.41" fill="#0db3cc"/>
<rect x="93.46" y="179.38" width="1.41" height="1.41" fill="#0db3cc"/>
<rect x="93.46" y="180.58" width="1.41" height="1.41" fill="#0db3cc"/>
<rect x="93.46" y="183.00" width="1.41" height="1.41" fill="#3c6bfc"/>
<rect x="93.46" y="184.21" width="1.41" height="1.41" fill="#3c6bfc"/>
<rect x="93.46" y="185.42" width="1.41" height="1.41" fill="#0db3cc"/>
<rect x="93.46" y="186.62" width="1.41" height="1.41" fill="#3c6bfc"/>
<rect x="93.46" y="187.83" width="1.41" height="1.41" fill="#3c6bfc"/>
<rect x="93.46" y="191.46" width="1.41" height="1.41" fill="#3c6bfc"/>
<rect x="93.46" y="201.12" width="1.41" height="1.41" fill="#3c6bfc"/>
<rect x="93.46" y="204.75" width="1.41" height="1.41" fill="#3c6bfc"/>
<rect x="93.46" y="210.79" width="1.41" height="1.41" fill="#3c6bfc"/>
<rect x="93.46" y="215.62" width="1.41" height="1.41" fill="#3c6bfc"/>
<rect x="94.67" y="168.50" width="1.41" height="1.41" fill="#0db3cc"/>
<rect x="94.67" y="169.71" width="1.41" height="1.41" fill="#f0b836"/>
<rect x="94.67" y="170.92" width="1.41" height="1.41" fill="#0db3cc"/>
<rect x="94.67" y="172.12" width="1.41" height="1.41" fill="#69cf69"/>
<rect x="94.67" y="173.33" width="1.41" height="1.41" fill="#69cf69"/>
<rect x="94.67" y="174.54" width="1.41" height="1.41" fill="#69cf69"/>
<rect x="94.67" y="175.75" width="1.41" height="1.41" fill="#f9fb14"/>
<rect x="94.67" y="178.17" width="1.41" height="1.41" fill="#3c6bfc"/>
<rect x="94.67" y="183.00" width="1.41" height="1.41" fill="#0db3cc"/>
<rect x="94.67" y="185.42" width="1.41" height="1.41" fill="#0db3cc"/>
<rect x="94.67" y="193.88" width="1.41" height="1.41" fill="#3c6bfc"/>
<rect x="95.88" y="168.50" width="1.41" height="1.41" fill="#69cf69"/>
<rect x="95.88" y="169.71" width="1.41" height="1.41" fill="#f9fb14"/>
<rect x="95.88" y="170.92" width="1.41" height="1.41" fill="#69cf69"/>
<rect x="95.88" y="172.12" width="1.41" height="1.41" fill="#69cf69"/>
<rect x="95.88" y="173.33" width="1.41" height="1.41" fill="#f9fb14"/>
<rect x="95.88" y="174.54" width="1.41" height="1.41" fill="#3c6bfc"/>
<rect x="95.88" y="176.96" width="1.41" height="1.41" fill="#3c6bfc"/>
<rect x="95.88" y="178.17" width="1.41" height="1.41" fill="#0db3cc"/>
<rect x="95.88" y="179.38" width="1.41" height="1.41" fill="#0db3cc"/>
<rect x="95.88" y="180.58" width="1.41" height="1.41" fill="#0db3cc"/>
<rect x="95.88" y="181.79" width="1.41" height="1.41" fill="#3c6bfc"/>
<rect x="95.88" y="184.21" width="1.41" height="1.41" fill="#3c6bfc"/>
<rect x="95.88" y="185.42" width="1.41" height="1.41" fill="#0db3cc"/>
<rect x="95.88" y="202.33" width="1.41" height="1.41" fill="#3c6bfc"/>
<rect x="95.88" y="205.96" width="1.41" height="1.41" fill="#3c6bfc"/>
<rect x="97.08" y="168.50" width="1.41" height="1.41" fill="#f0b836"/>
<rect x="97.08" y="169.71" width="1.41" height="1.41" fill="#f0b836"/>
<rect x="97.08" y="170.92" width="1.41" height="1.41" fill="#f0b836"/>
<rect x="97.08" y="172.12" width="1.41" height="1.41" fill="#f0b836"/>
<rect x="97.08" y="173.33" width="1.41" height="1.41" fill="#0db3cc"/>
<rect x="97.08" y="174.54" width="1.41" height="1.41" fill="#3c6bfc"/>
<rect x="97.08" y="176.96" width="1.41" height="1.41" fill="#3c6bfc"/>
<rect x="97.08" y="180.58" width="1.41" height="1.41" fill="#3c6bfc"/>
<rect x="97.08" y="183.00" width="1.41" height="1.41" fill="#3c6bfc"/>
<rect x="97.08" y="189.04" width="1.41" height="1.41" fill="#3c6bfc"/>
<rect x="97.08" y="199.92" width="1.41" height="1.41" fill="#3c6bfc"/>
<rect x="98.29" y="168.50" width="1.41" height="1.41" fill="#69cf69"/>
<rect x="98.29" y="169.71" width="1.41" height="1.41" fill="#f0b836"/>
<rect x="98.29" y="170.92" width="1.41" height="1.41" fill="#f9fb14"/>
<rect x="98.29" y="172.12" width="1.41" height="1.41" fill="#0db3cc"/>
<rect x="98.29" y="174.54" width="1.41" height="1.41" fill="#0db3cc"/>
<rect x="98.29" y="175.75" width="1.41" height="1.41" fill="#3c6bfc"/>
<rect x="98.29" y="179.38" width="1.41" height="1.41" fill="#0db3cc"/>
<rect x="98.29" y="184.21" width="1.41" height="1.41" fill="#3c6bfc"/>
<rect x="98.29" y="203.54" width="1.41" height="1.41" fill="#3c6bfc"/>
</g>
<line x1="41.50" y1="168.50" x2="41.50" y2="227.00" stroke="#222" stroke-width="1.0" />
<line x1="41.00" y1="226.50" x2="99.50" y2="226.50" stroke="#222" stroke-width="1.0" />
<line x1="70.50" y1="168.50" x2="70.50" y2="226.50" stroke="#111" stroke-width="1.0" />
<line x1="39.00" y1="197.50" x2="99.50" y2="197.50" stroke="#111" stroke-width="1.0" />
<line x1="39.00" y1="168.50" x2="41.50" y2="168.50" stroke="#222" stroke-width="0.8" />
<text x="35.70" y="171.10" font-size="7.3" text-anchor="end" font-weight="normal" fill="#1a1a1a"  stroke="#1a1a1a" stroke-width="0.22">2</text>
<line x1="39.00" y1="197.50" x2="41.50" y2="197.50" stroke="#222" stroke-width="0.8" />
<text x="35.70" y="200.10" font-size="7.3" text-anchor="end" font-weight="normal" fill="#1a1a1a"  stroke="#1a1a1a" stroke-width="0.22">0</text>
<line x1="39.00" y1="226.50" x2="41.50" y2="226.50" stroke="#222" stroke-width="0.8" />
<text x="35.70" y="229.10" font-size="7.3" text-anchor="end" font-weight="normal" fill="#1a1a1a"  stroke="#1a1a1a" stroke-width="0.22">−2</text>
<line x1="41.50" y1="226.50" x2="41.50" y2="229.00" stroke="#222" stroke-width="0.8" />
<text x="41.50" y="238.40" font-size="7.3" text-anchor="middle" font-weight="normal" fill="#1a1a1a"  stroke="#1a1a1a" stroke-width="0.22">−2</text>
<line x1="70.50" y1="226.50" x2="70.50" y2="229.00" stroke="#222" stroke-width="0.8" />
<text x="70.50" y="238.40" font-size="7.3" text-anchor="middle" font-weight="normal" fill="#1a1a1a"  stroke="#1a1a1a" stroke-width="0.22">0</text>
<line x1="99.50" y1="226.50" x2="99.50" y2="229.00" stroke="#222" stroke-width="0.8" />
<text x="99.50" y="238.40" font-size="7.3" text-anchor="middle" font-weight="normal" fill="#1a1a1a"  stroke="#1a1a1a" stroke-width="0.22">2</text>
<text x="70.50" y="252" font-size="9.2" text-anchor="middle" fill="#1a1a1a" stroke="#1a1a1a" stroke-width="0.22">Weight on <tspan font-weight="bold">CD</tspan><tspan font-weight="bold" font-size="6.3" dy="2.7">Delay</tspan></text>
<text x="70.50" y="264.50" font-size="9.2" text-anchor="middle" font-weight="normal" fill="#1a1a1a"  stroke="#1a1a1a" stroke-width="0.22">(context 1)</text>
<text transform="translate(7.80,197.50) rotate(-90)" font-size="9.2" text-anchor="middle" fill="#1a1a1a" stroke="#1a1a1a" stroke-width="0.22" >Weight on <tspan font-weight="bold">CD</tspan><tspan font-weight="bold" font-size="6.3" dy="2.7">Delay</tspan></text>
<text transform="translate(22.00,197.50) rotate(-90)" font-size="9.2" text-anchor="middle" fill="#1a1a1a" stroke="#1a1a1a" stroke-width="0.22" >(context 2)</text>
<g shape-rendering="crispEdges">
<rect x="147.50" y="187.83" width="1.41" height="1.41" fill="#0db3cc"/>
<rect x="147.50" y="209.58" width="1.41" height="1.41" fill="#69cf69"/>
<rect x="147.50" y="215.62" width="1.41" height="1.41" fill="#3c6bfc"/>
<rect x="147.50" y="216.83" width="1.41" height="1.41" fill="#3c6bfc"/>
<rect x="147.50" y="218.04" width="1.41" height="1.41" fill="#0db3cc"/>
<rect x="147.50" y="219.25" width="1.41" height="1.41" fill="#3c6bfc"/>
<rect x="147.50" y="220.46" width="1.41" height="1.41" fill="#69cf69"/>
<rect x="147.50" y="221.67" width="1.41" height="1.41" fill="#69cf69"/>
<rect x="147.50" y="222.88" width="1.41" height="1.41" fill="#f0b836"/>
<rect x="147.50" y="224.08" width="1.41" height="1.41" fill="#69cf69"/>
<rect x="147.50" y="225.29" width="1.41" height="1.41" fill="#f9fb14"/>
<rect x="148.71" y="172.12" width="1.41" height="1.41" fill="#3c6bfc"/>
<rect x="148.71" y="181.79" width="1.41" height="1.41" fill="#3c6bfc"/>
<rect x="148.71" y="196.29" width="1.41" height="1.41" fill="#3c6bfc"/>
<rect x="148.71" y="202.33" width="1.41" height="1.41" fill="#3c6bfc"/>
<rect x="148.71" y="207.17" width="1.41" height="1.41" fill="#3c6bfc"/>
<rect x="148.71" y="208.38" width="1.41" height="1.41" fill="#0db3cc"/>
<rect x="148.71" y="213.21" width="1.41" height="1.41" fill="#3c6bfc"/>
<rect x="148.71" y="214.42" width="1.41" height="1.41" fill="#3c6bfc"/>
<rect x="148.71" y="215.62" width="1.41" height="1.41" fill="#0db3cc"/>
<rect x="148.71" y="218.04" width="1.41" height="1.41" fill="#3c6bfc"/>
<rect x="148.71" y="219.25" width="1.41" height="1.41" fill="#0db3cc"/>
<rect x="148.71" y="220.46" width="1.41" height="1.41" fill="#69cf69"/>
<rect x="148.71" y="221.67" width="1.41" height="1.41" fill="#3c6bfc"/>
<rect x="148.71" y="222.88" width="1.41" height="1.41" fill="#69cf69"/>
<rect x="148.71" y="224.08" width="1.41" height="1.41" fill="#f9fb14"/>
<rect x="148.71" y="225.29" width="1.41" height="1.41" fill="#3c6bfc"/>
<rect x="149.92" y="178.17" width="1.41" height="1.41" fill="#3c6bfc"/>
<rect x="149.92" y="204.75" width="1.41" height="1.41" fill="#0db3cc"/>
<rect x="149.92" y="207.17" width="1.41" height="1.41" fill="#3c6bfc"/>
<rect x="149.92" y="209.58" width="1.41" height="1.41" fill="#3c6bfc"/>
<rect x="149.92" y="210.79" width="1.41" height="1.41" fill="#3c6bfc"/>
<rect x="149.92" y="212.00" width="1.41" height="1.41" fill="#3c6bfc"/>
<rect x="149.92" y="214.42" width="1.41" height="1.41" fill="#3c6bfc"/>
<rect x="149.92" y="215.62" width="1.41" height="1.41" fill="#0db3cc"/>
<rect x="149.92" y="218.04" width="1.41" height="1.41" fill="#0db3cc"/>
<rect x="149.92" y="219.25" width="1.41" height="1.41" fill="#f0b836"/>
<rect x="149.92" y="220.46" width="1.41" height="1.41" fill="#f9fb14"/>
<rect x="149.92" y="221.67" width="1.41" height="1.41" fill="#f9fb14"/>
<rect x="149.92" y="222.88" width="1.41" height="1.41" fill="#f9fb14"/>
<rect x="149.92" y="224.08" width="1.41" height="1.41" fill="#f9fb14"/>
<rect x="149.92" y="225.29" width="1.41" height="1.41" fill="#f0b836"/>
<rect x="151.12" y="185.42" width="1.41" height="1.41" fill="#3c6bfc"/>
<rect x="151.12" y="203.54" width="1.41" height="1.41" fill="#3c6bfc"/>
<rect x="151.12" y="205.96" width="1.41" height="1.41" fill="#3c6bfc"/>
<rect x="151.12" y="209.58" width="1.41" height="1.41" fill="#0db3cc"/>
<rect x="151.12" y="210.79" width="1.41" height="1.41" fill="#0db3cc"/>
<rect x="151.12" y="212.00" width="1.41" height="1.41" fill="#0db3cc"/>
<rect x="151.12" y="214.42" width="1.41" height="1.41" fill="#69cf69"/>
<rect x="151.12" y="215.62" width="1.41" height="1.41" fill="#3c6bfc"/>
<rect x="151.12" y="216.83" width="1.41" height="1.41" fill="#f9fb14"/>
<rect x="151.12" y="218.04" width="1.41" height="1.41" fill="#3c6bfc"/>
<rect x="151.12" y="219.25" width="1.41" height="1.41" fill="#f0b836"/>
<rect x="151.12" y="220.46" width="1.41" height="1.41" fill="#f0b836"/>
<rect x="151.12" y="221.67" width="1.41" height="1.41" fill="#f9fb14"/>
<rect x="151.12" y="222.88" width="1.41" height="1.41" fill="#f0b836"/>
<rect x="151.12" y="224.08" width="1.41" height="1.41" fill="#f9fb14"/>
<rect x="151.12" y="225.29" width="1.41" height="1.41" fill="#f9fb14"/>
<rect x="152.33" y="173.33" width="1.41" height="1.41" fill="#3c6bfc"/>
<rect x="152.33" y="184.21" width="1.41" height="1.41" fill="#3c6bfc"/>
<rect x="152.33" y="197.50" width="1.41" height="1.41" fill="#3c6bfc"/>
<rect x="152.33" y="207.17" width="1.41" height="1.41" fill="#3c6bfc"/>
<rect x="152.33" y="208.38" width="1.41" height="1.41" fill="#3c6bfc"/>
<rect x="152.33" y="209.58" width="1.41" height="1.41" fill="#3c6bfc"/>
<rect x="152.33" y="212.00" width="1.41" height="1.41" fill="#3c6bfc"/>
<rect x="152.33" y="213.21" width="1.41" height="1.41" fill="#3c6bfc"/>
<rect x="152.33" y="214.42" width="1.41" height="1.41" fill="#3c6bfc"/>
<rect x="152.33" y="215.62" width="1.41" height="1.41" fill="#0db3cc"/>
<rect x="152.33" y="216.83" width="1.41" height="1.41" fill="#f9fb14"/>
<rect x="152.33" y="218.04" width="1.41" height="1.41" fill="#f9fb14"/>
<rect x="152.33" y="219.25" width="1.41" height="1.41" fill="#f9fb14"/>
<rect x="152.33" y="220.46" width="1.41" height="1.41" fill="#f0b836"/>
<rect x="152.33" y="221.67" width="1.41" height="1.41" fill="#f9fb14"/>
<rect x="152.33" y="222.88" width="1.41" height="1.41" fill="#0db3cc"/>
<rect x="152.33" y="224.08" width="1.41" height="1.41" fill="#3c6bfc"/>
<rect x="152.33" y="225.29" width="1.41" height="1.41" fill="#69cf69"/>
<rect x="153.54" y="172.12" width="1.41" height="1.41" fill="#3c6bfc"/>
<rect x="153.54" y="198.71" width="1.41" height="1.41" fill="#3c6bfc"/>
<rect x="153.54" y="201.12" width="1.41" height="1.41" fill="#3c6bfc"/>
<rect x="153.54" y="205.96" width="1.41" height="1.41" fill="#0db3cc"/>
<rect x="153.54" y="207.17" width="1.41" height="1.41" fill="#0db3cc"/>
<rect x="153.54" y="208.38" width="1.41" height="1.41" fill="#3c6bfc"/>
<rect x="153.54" y="209.58" width="1.41" height="1.41" fill="#f0b836"/>
<rect x="153.54" y="210.79" width="1.41" height="1.41" fill="#3c6bfc"/>
<rect x="153.54" y="213.21" width="1.41" height="1.41" fill="#3c6bfc"/>
<rect x="153.54" y="215.62" width="1.41" height="1.41" fill="#69cf69"/>
<rect x="153.54" y="216.83" width="1.41" height="1.41" fill="#f9fb14"/>
<rect x="153.54" y="218.04" width="1.41" height="1.41" fill="#f9fb14"/>
<rect x="153.54" y="219.25" width="1.41" height="1.41" fill="#69cf69"/>
<rect x="153.54" y="220.46" width="1.41" height="1.41" fill="#f9fb14"/>
<rect x="153.54" y="221.67" width="1.41" height="1.41" fill="#f0b836"/>
<rect x="153.54" y="222.88" width="1.41" height="1.41" fill="#69cf69"/>
<rect x="153.54" y="224.08" width="1.41" height="1.41" fill="#0db3cc"/>
<rect x="153.54" y="225.29" width="1.41" height="1.41" fill="#69cf69"/>
<rect x="154.75" y="187.83" width="1.41" height="1.41" fill="#0db3cc"/>
<rect x="154.75" y="192.67" width="1.41" height="1.41" fill="#3c6bfc"/>
<rect x="154.75" y="195.08" width="1.41" height="1.41" fill="#3c6bfc"/>
<rect x="154.75" y="197.50" width="1.41" height="1.41" fill="#3c6bfc"/>
<rect x="154.75" y="208.38" width="1.41" height="1.41" fill="#3c6bfc"/>
<rect x="154.75" y="209.58" width="1.41" height="1.41" fill="#3c6bfc"/>
<rect x="154.75" y="210.79" width="1.41" height="1.41" fill="#3c6bfc"/>
<rect x="154.75" y="212.00" width="1.41" height="1.41" fill="#f9fb14"/>
<rect x="154.75" y="213.21" width="1.41" height="1.41" fill="#3c6bfc"/>
<rect x="154.75" y="214.42" width="1.41" height="1.41" fill="#f0b836"/>
<rect x="154.75" y="215.62" width="1.41" height="1.41" fill="#f9fb14"/>
<rect x="154.75" y="216.83" width="1.41" height="1.41" fill="#f0b836"/>
<rect x="154.75" y="218.04" width="1.41" height="1.41" fill="#f9fb14"/>
<rect x="154.75" y="219.25" width="1.41" height="1.41" fill="#f9fb14"/>
<rect x="154.75" y="220.46" width="1.41" height="1.41" fill="#f0b836"/>
<rect x="154.75" y="221.67" width="1.41" height="1.41" fill="#f0b836"/>
<rect x="154.75" y="222.88" width="1.41" height="1.41" fill="#0db3cc"/>
<rect x="154.75" y="224.08" width="1.41" height="1.41" fill="#69cf69"/>
<rect x="154.75" y="225.29" width="1.41" height="1.41" fill="#69cf69"/>
<rect x="155.96" y="197.50" width="1.41" height="1.41" fill="#69cf69"/>
<rect x="155.96" y="198.71" width="1.41" height="1.41" fill="#3c6bfc"/>
<rect x="155.96" y="202.33" width="1.41" height="1.41" fill="#0db3cc"/>
<rect x="155.96" y="208.38" width="1.41" height="1.41" fill="#3c6bfc"/>
<rect x="155.96" y="209.58" width="1.41" height="1.41" fill="#0db3cc"/>
<rect x="155.96" y="210.79" width="1.41" height="1.41" fill="#0db3cc"/>
<rect x="155.96" y="212.00" width="1.41" height="1.41" fill="#69cf69"/>
<rect x="155.96" y="213.21" width="1.41" height="1.41" fill="#f9fb14"/>
<rect x="155.96" y="214.42" width="1.41" height="1.41" fill="#69cf69"/>
<rect x="155.96" y="215.62" width="1.41" height="1.41" fill="#f9fb14"/>
<rect x="155.96" y="216.83" width="1.41" height="1.41" fill="#f9fb14"/>
<rect x="155.96" y="218.04" width="1.41" height="1.41" fill="#f9fb14"/>
<rect x="155.96" y="219.25" width="1.41" height="1.41" fill="#f9fb14"/>
<rect x="155.96" y="220.46" width="1.41" height="1.41" fill="#3c6bfc"/>
<rect x="155.96" y="221.67" width="1.41" height="1.41" fill="#69cf69"/>
<rect x="155.96" y="222.88" width="1.41" height="1.41" fill="#3c6bfc"/>
<rect x="155.96" y="224.08" width="1.41" height="1.41" fill="#0db3cc"/>
<rect x="157.17" y="192.67" width="1.41" height="1.41" fill="#3c6bfc"/>
<rect x="157.17" y="196.29" width="1.41" height="1.41" fill="#3c6bfc"/>
<rect x="157.17" y="199.92" width="1.41" height="1.41" fill="#0db3cc"/>
<rect x="157.17" y="204.75" width="1.41" height="1.41" fill="#0db3cc"/>
<rect x="157.17" y="207.17" width="1.41" height="1.41" fill="#3c6bfc"/>
<rect x="157.17" y="208.38" width="1.41" height="1.41" fill="#69cf69"/>
<rect x="157.17" y="210.79" width="1.41" height="1.41" fill="#3c6bfc"/>
<rect x="157.17" y="212.00" width="1.41" height="1.41" fill="#f9fb14"/>
<rect x="157.17" y="213.21" width="1.41" height="1.41" fill="#3c6bfc"/>
<rect x="157.17" y="214.42" width="1.41" height="1.41" fill="#f9fb14"/>
<rect x="157.17" y="215.62" width="1.41" height="1.41" fill="#f9fb14"/>
<rect x="157.17" y="216.83" width="1.41" height="1.41" fill="#f9fb14"/>
<rect x="157.17" y="218.04" width="1.41" height="1.41" fill="#0db3cc"/>
<rect x="157.17" y="219.25" width="1.41" height="1.41" fill="#f0b836"/>
<rect x="157.17" y="220.46" width="1.41" height="1.41" fill="#f0b836"/>
<rect x="157.17" y="222.88" width="1.41" height="1.41" fill="#3c6bfc"/>
<rect x="157.17" y="225.29" width="1.41" height="1.41" fill="#3c6bfc"/>
<rect x="158.38" y="169.71" width="1.41" height="1.41" fill="#3c6bfc"/>
<rect x="158.38" y="186.62" width="1.41" height="1.41" fill="#3c6bfc"/>
<rect x="158.38" y="199.92" width="1.41" height="1.41" fill="#3c6bfc"/>
<rect x="158.38" y="205.96" width="1.41" height="1.41" fill="#3c6bfc"/>
<rect x="158.38" y="207.17" width="1.41" height="1.41" fill="#0db3cc"/>
<rect x="158.38" y="208.38" width="1.41" height="1.41" fill="#69cf69"/>
<rect x="158.38" y="209.58" width="1.41" height="1.41" fill="#0db3cc"/>
<rect x="158.38" y="210.79" width="1.41" height="1.41" fill="#f9fb14"/>
<rect x="158.38" y="212.00" width="1.41" height="1.41" fill="#69cf69"/>
<rect x="158.38" y="213.21" width="1.41" height="1.41" fill="#f9fb14"/>
<rect x="158.38" y="214.42" width="1.41" height="1.41" fill="#f9fb14"/>
<rect x="158.38" y="215.62" width="1.41" height="1.41" fill="#f0b836"/>
<rect x="158.38" y="216.83" width="1.41" height="1.41" fill="#f9fb14"/>
<rect x="158.38" y="218.04" width="1.41" height="1.41" fill="#f0b836"/>
<rect x="158.38" y="219.25" width="1.41" height="1.41" fill="#f0b836"/>
<rect x="158.38" y="220.46" width="1.41" height="1.41" fill="#69cf69"/>
<rect x="158.38" y="221.67" width="1.41" height="1.41" fill="#0db3cc"/>
<rect x="158.38" y="222.88" width="1.41" height="1.41" fill="#3c6bfc"/>
<rect x="159.58" y="168.50" width="1.41" height="1.41" fill="#3c6bfc"/>
<rect x="159.58" y="196.29" width="1.41" height="1.41" fill="#3c6bfc"/>
<rect x="159.58" y="199.92" width="1.41" height="1.41" fill="#3c6bfc"/>
<rect x="159.58" y="201.12" width="1.41" height="1.41" fill="#0db3cc"/>
<rect x="159.58" y="202.33" width="1.41" height="1.41" fill="#69cf69"/>
<rect x="159.58" y="203.54" width="1.41" height="1.41" fill="#3c6bfc"/>
<rect x="159.58" y="204.75" width="1.41" height="1.41" fill="#0db3cc"/>
<rect x="159.58" y="205.96" width="1.41" height="1.41" fill="#0db3cc"/>
<rect x="159.58" y="208.38" width="1.41" height="1.41" fill="#f9fb14"/>
<rect x="159.58" y="209.58" width="1.41" height="1.41" fill="#0db3cc"/>
<rect x="159.58" y="210.79" width="1.41" height="1.41" fill="#69cf69"/>
<rect x="159.58" y="212.00" width="1.41" height="1.41" fill="#f9fb14"/>
<rect x="159.58" y="213.21" width="1.41" height="1.41" fill="#f9fb14"/>
<rect x="159.58" y="214.42" width="1.41" height="1.41" fill="#f9fb14"/>
<rect x="159.58" y="215.62" width="1.41" height="1.41" fill="#69cf69"/>
<rect x="159.58" y="216.83" width="1.41" height="1.41" fill="#f9fb14"/>
<rect x="159.58" y="219.25" width="1.41" height="1.41" fill="#0db3cc"/>
<rect x="159.58" y="220.46" width="1.41" height="1.41" fill="#69cf69"/>
<rect x="159.58" y="222.88" width="1.41" height="1.41" fill="#0db3cc"/>
<rect x="159.58" y="224.08" width="1.41" height="1.41" fill="#3c6bfc"/>
<rect x="160.79" y="170.92" width="1.41" height="1.41" fill="#3c6bfc"/>
<rect x="160.79" y="186.62" width="1.41" height="1.41" fill="#3c6bfc"/>
<rect x="160.79" y="196.29" width="1.41" height="1.41" fill="#3c6bfc"/>
<rect x="160.79" y="198.71" width="1.41" height="1.41" fill="#0db3cc"/>
<rect x="160.79" y="202.33" width="1.41" height="1.41" fill="#0db3cc"/>
<rect x="160.79" y="203.54" width="1.41" height="1.41" fill="#3c6bfc"/>
<rect x="160.79" y="204.75" width="1.41" height="1.41" fill="#0db3cc"/>
<rect x="160.79" y="205.96" width="1.41" height="1.41" fill="#3c6bfc"/>
<rect x="160.79" y="207.17" width="1.41" height="1.41" fill="#0db3cc"/>
<rect x="160.79" y="208.38" width="1.41" height="1.41" fill="#0db3cc"/>
<rect x="160.79" y="209.58" width="1.41" height="1.41" fill="#f0b836"/>
<rect x="160.79" y="210.79" width="1.41" height="1.41" fill="#f9fb14"/>
<rect x="160.79" y="212.00" width="1.41" height="1.41" fill="#f9fb14"/>
<rect x="160.79" y="213.21" width="1.41" height="1.41" fill="#f9fb14"/>
<rect x="160.79" y="214.42" width="1.41" height="1.41" fill="#f9fb14"/>
<rect x="160.79" y="215.62" width="1.41" height="1.41" fill="#3c6bfc"/>
<rect x="160.79" y="216.83" width="1.41" height="1.41" fill="#f0b836"/>
<rect x="160.79" y="220.46" width="1.41" height="1.41" fill="#3c6bfc"/>
<rect x="160.79" y="221.67" width="1.41" height="1.41" fill="#3c6bfc"/>
<rect x="160.79" y="222.88" width="1.41" height="1.41" fill="#3c6bfc"/>
<rect x="160.79" y="224.08" width="1.41" height="1.41" fill="#3c6bfc"/>
<rect x="162.00" y="187.83" width="1.41" height="1.41" fill="#3c6bfc"/>
<rect x="162.00" y="193.88" width="1.41" height="1.41" fill="#3c6bfc"/>
<rect x="162.00" y="196.29" width="1.41" height="1.41" fill="#0db3cc"/>
<rect x="162.00" y="198.71" width="1.41" height="1.41" fill="#3c6bfc"/>
<rect x="162.00" y="201.12" width="1.41" height="1.41" fill="#3c6bfc"/>
<rect x="162.00" y="202.33" width="1.41" height="1.41" fill="#3c6bfc"/>
<rect x="162.00" y="203.54" width="1.41" height="1.41" fill="#3c6bfc"/>
<rect x="162.00" y="205.96" width="1.41" height="1.41" fill="#f0b836"/>
<rect x="162.00" y="207.17" width="1.41" height="1.41" fill="#f0b836"/>
<rect x="162.00" y="208.38" width="1.41" height="1.41" fill="#f0b836"/>
<rect x="162.00" y="209.58" width="1.41" height="1.41" fill="#f9fb14"/>
<rect x="162.00" y="210.79" width="1.41" height="1.41" fill="#f9fb14"/>
<rect x="162.00" y="212.00" width="1.41" height="1.41" fill="#f0b836"/>
<rect x="162.00" y="213.21" width="1.41" height="1.41" fill="#f9fb14"/>
<rect x="162.00" y="214.42" width="1.41" height="1.41" fill="#69cf69"/>
<rect x="162.00" y="215.62" width="1.41" height="1.41" fill="#3c6bfc"/>
<rect x="162.00" y="216.83" width="1.41" height="1.41" fill="#69cf69"/>
<rect x="162.00" y="218.04" width="1.41" height="1.41" fill="#3c6bfc"/>
<rect x="162.00" y="219.25" width="1.41" height="1.41" fill="#3c6bfc"/>
<rect x="162.00" y="220.46" width="1.41" height="1.41" fill="#69cf69"/>
<rect x="162.00" y="225.29" width="1.41" height="1.41" fill="#3c6bfc"/>
<rect x="163.21" y="192.67" width="1.41" height="1.41" fill="#3c6bfc"/>
<rect x="163.21" y="195.08" width="1.41" height="1.41" fill="#3c6bfc"/>
<rect x="163.21" y="202.33" width="1.41" height="1.41" fill="#f0b836"/>
<rect x="163.21" y="203.54" width="1.41" height="1.41" fill="#0db3cc"/>
<rect x="163.21" y="204.75" width="1.41" height="1.41" fill="#f9fb14"/>
<rect x="163.21" y="205.96" width="1.41" height="1.41" fill="#0db3cc"/>
<rect x="163.21" y="207.17" width="1.41" height="1.41" fill="#69cf69"/>
<rect x="163.21" y="208.38" width="1.41" height="1.41" fill="#f0b836"/>
<rect x="163.21" y="209.58" width="1.41" height="1.41" fill="#f9fb14"/>
<rect x="163.21" y="210.79" width="1.41" height="1.41" fill="#f9fb14"/>
<rect x="163.21" y="212.00" width="1.41" height="1.41" fill="#69cf69"/>
<rect x="163.21" y="213.21" width="1.41" height="1.41" fill="#f0b836"/>
<rect x="163.21" y="215.62" width="1.41" height="1.41" fill="#0db3cc"/>
<rect x="163.21" y="218.04" width="1.41" height="1.41" fill="#3c6bfc"/>
<rect x="163.21" y="219.25" width="1.41" height="1.41" fill="#3c6bfc"/>
<rect x="163.21" y="220.46" width="1.41" height="1.41" fill="#3c6bfc"/>
<rect x="163.21" y="221.67" width="1.41" height="1.41" fill="#0db3cc"/>
<rect x="163.21" y="222.88" width="1.41" height="1.41" fill="#3c6bfc"/>
<rect x="164.42" y="180.58" width="1.41" height="1.41" fill="#3c6bfc"/>
<rect x="164.42" y="192.67" width="1.41" height="1.41" fill="#3c6bfc"/>
<rect x="164.42" y="193.88" width="1.41" height="1.41" fill="#3c6bfc"/>
<rect x="164.42" y="195.08" width="1.41" height="1.41" fill="#0db3cc"/>
<rect x="164.42" y="197.50" width="1.41" height="1.41" fill="#3c6bfc"/>
<rect x="164.42" y="198.71" width="1.41" height="1.41" fill="#f0b836"/>
<rect x="164.42" y="201.12" width="1.41" height="1.41" fill="#0db3cc"/>
<rect x="164.42" y="202.33" width="1.41" height="1.41" fill="#3c6bfc"/>
<rect x="164.42" y="203.54" width="1.41" height="1.41" fill="#69cf69"/>
<rect x="164.42" y="204.75" width="1.41" height="1.41" fill="#69cf69"/>
<rect x="164.42" y="205.96" width="1.41" height="1.41" fill="#3c6bfc"/>
<rect x="164.42" y="207.17" width="1.41" height="1.41" fill="#f9fb14"/>
<rect x="164.42" y="208.38" width="1.41" height="1.41" fill="#f9fb14"/>
<rect x="164.42" y="209.58" width="1.41" height="1.41" fill="#f9fb14"/>
<rect x="164.42" y="210.79" width="1.41" height="1.41" fill="#f9fb14"/>
<rect x="164.42" y="212.00" width="1.41" height="1.41" fill="#0db3cc"/>
<rect x="164.42" y="214.42" width="1.41" height="1.41" fill="#69cf69"/>
<rect x="164.42" y="215.62" width="1.41" height="1.41" fill="#0db3cc"/>
<rect x="164.42" y="216.83" width="1.41" height="1.41" fill="#69cf69"/>
<rect x="164.42" y="218.04" width="1.41" height="1.41" fill="#3c6bfc"/>
<rect x="164.42" y="221.67" width="1.41" height="1.41" fill="#0db3cc"/>
<rect x="165.62" y="179.38" width="1.41" height="1.41" fill="#3c6bfc"/>
<rect x="165.62" y="187.83" width="1.41" height="1.41" fill="#3c6bfc"/>
<rect x="165.62" y="193.88" width="1.41" height="1.41" fill="#3c6bfc"/>
<rect x="165.62" y="195.08" width="1.41" height="1.41" fill="#3c6bfc"/>
<rect x="165.62" y="197.50" width="1.41" height="1.41" fill="#3c6bfc"/>
<rect x="165.62" y="198.71" width="1.41" height="1.41" fill="#3c6bfc"/>
<rect x="165.62" y="201.12" width="1.41" height="1.41" fill="#0db3cc"/>
<rect x="165.62" y="202.33" width="1.41" height="1.41" fill="#69cf69"/>
<rect x="165.62" y="203.54" width="1.41" height="1.41" fill="#f9fb14"/>
<rect x="165.62" y="204.75" width="1.41" height="1.41" fill="#f9fb14"/>
<rect x="165.62" y="205.96" width="1.41" height="1.41" fill="#0db3cc"/>
<rect x="165.62" y="207.17" width="1.41" height="1.41" fill="#f9fb14"/>
<rect x="165.62" y="208.38" width="1.41" height="1.41" fill="#69cf69"/>
<rect x="165.62" y="209.58" width="1.41" height="1.41" fill="#f9fb14"/>
<rect x="165.62" y="210.79" width="1.41" height="1.41" fill="#69cf69"/>
<rect x="165.62" y="212.00" width="1.41" height="1.41" fill="#0db3cc"/>
<rect x="165.62" y="213.21" width="1.41" height="1.41" fill="#69cf69"/>
<rect x="165.62" y="214.42" width="1.41" height="1.41" fill="#3c6bfc"/>
<rect x="165.62" y="216.83" width="1.41" height="1.41" fill="#3c6bfc"/>
<rect x="165.62" y="220.46" width="1.41" height="1.41" fill="#3c6bfc"/>
<rect x="165.62" y="221.67" width="1.41" height="1.41" fill="#3c6bfc"/>
<rect x="166.83" y="178.17" width="1.41" height="1.41" fill="#3c6bfc"/>
<rect x="166.83" y="179.38" width="1.41" height="1.41" fill="#3c6bfc"/>
<rect x="166.83" y="183.00" width="1.41" height="1.41" fill="#3c6bfc"/>
<rect x="166.83" y="184.21" width="1.41" height="1.41" fill="#3c6bfc"/>
<rect x="166.83" y="186.62" width="1.41" height="1.41" fill="#3c6bfc"/>
<rect x="166.83" y="189.04" width="1.41" height="1.41" fill="#0db3cc"/>
<rect x="166.83" y="192.67" width="1.41" height="1.41" fill="#3c6bfc"/>
<rect x="166.83" y="193.88" width="1.41" height="1.41" fill="#3c6bfc"/>
<rect x="166.83" y="195.08" width="1.41" height="1.41" fill="#3c6bfc"/>
<rect x="166.83" y="196.29" width="1.41" height="1.41" fill="#f0b836"/>
<rect x="166.83" y="197.50" width="1.41" height="1.41" fill="#3c6bfc"/>
<rect x="166.83" y="198.71" width="1.41" height="1.41" fill="#f0b836"/>
<rect x="166.83" y="199.92" width="1.41" height="1.41" fill="#3c6bfc"/>
<rect x="166.83" y="201.12" width="1.41" height="1.41" fill="#69cf69"/>
<rect x="166.83" y="202.33" width="1.41" height="1.41" fill="#f9fb14"/>
<rect x="166.83" y="203.54" width="1.41" height="1.41" fill="#f9fb14"/>
<rect x="166.83" y="204.75" width="1.41" height="1.41" fill="#f9fb14"/>
<rect x="166.83" y="205.96" width="1.41" height="1.41" fill="#f9fb14"/>
<rect x="166.83" y="207.17" width="1.41" height="1.41" fill="#f9fb14"/>
<rect x="166.83" y="208.38" width="1.41" height="1.41" fill="#3c6bfc"/>
<rect x="166.83" y="209.58" width="1.41" height="1.41" fill="#69cf69"/>
<rect x="166.83" y="210.79" width="1.41" height="1.41" fill="#3c6bfc"/>
<rect x="166.83" y="212.00" width="1.41" height="1.41" fill="#69cf69"/>
<rect x="166.83" y="213.21" width="1.41" height="1.41" fill="#3c6bfc"/>
<rect x="166.83" y="214.42" width="1.41" height="1.41" fill="#69cf69"/>
<rect x="166.83" y="215.62" width="1.41" height="1.41" fill="#3c6bfc"/>
<rect x="168.04" y="174.54" width="1.41" height="1.41" fill="#3c6bfc"/>
<rect x="168.04" y="178.17" width="1.41" height="1.41" fill="#3c6bfc"/>
<rect x="168.04" y="187.83" width="1.41" height="1.41" fill="#3c6bfc"/>
<rect x="168.04" y="190.25" width="1.41" height="1.41" fill="#0db3cc"/>
<rect x="168.04" y="191.46" width="1.41" height="1.41" fill="#3c6bfc"/>
<rect x="168.04" y="192.67" width="1.41" height="1.41" fill="#3c6bfc"/>
<rect x="168.04" y="193.88" width="1.41" height="1.41" fill="#3c6bfc"/>
<rect x="168.04" y="195.08" width="1.41" height="1.41" fill="#f0b836"/>
<rect x="168.04" y="196.29" width="1.41" height="1.41" fill="#69cf69"/>
<rect x="168.04" y="197.50" width="1.41" height="1.41" fill="#3c6bfc"/>
<rect x="168.04" y="198.71" width="1.41" height="1.41" fill="#69cf69"/>
<rect x="168.04" y="199.92" width="1.41" height="1.41" fill="#69cf69"/>
<rect x="168.04" y="201.12" width="1.41" height="1.41" fill="#f9fb14"/>
<rect x="168.04" y="202.33" width="1.41" height="1.41" fill="#f0b836"/>
<rect x="168.04" y="203.54" width="1.41" height="1.41" fill="#f9fb14"/>
<rect x="168.04" y="204.75" width="1.41" height="1.41" fill="#f9fb14"/>
<rect x="168.04" y="205.96" width="1.41" height="1.41" fill="#f9fb14"/>
<rect x="168.04" y="207.17" width="1.41" height="1.41" fill="#69cf69"/>
<rect x="168.04" y="208.38" width="1.41" height="1.41" fill="#f9fb14"/>
<rect x="168.04" y="209.58" width="1.41" height="1.41" fill="#3c6bfc"/>
<rect x="168.04" y="210.79" width="1.41" height="1.41" fill="#69cf69"/>
<rect x="168.04" y="212.00" width="1.41" height="1.41" fill="#3c6bfc"/>
<rect x="168.04" y="213.21" width="1.41" height="1.41" fill="#3c6bfc"/>
<rect x="168.04" y="214.42" width="1.41" height="1.41" fill="#3c6bfc"/>
<rect x="168.04" y="215.62" width="1.41" height="1.41" fill="#3c6bfc"/>
<rect x="168.04" y="216.83" width="1.41" height="1.41" fill="#3c6bfc"/>
<rect x="168.04" y="221.67" width="1.41" height="1.41" fill="#3c6bfc"/>
<rect x="169.25" y="176.96" width="1.41" height="1.41" fill="#3c6bfc"/>
<rect x="169.25" y="180.58" width="1.41" height="1.41" fill="#0db3cc"/>
<rect x="169.25" y="184.21" width="1.41" height="1.41" fill="#3c6bfc"/>
<rect x="169.25" y="185.42" width="1.41" height="1.41" fill="#3c6bfc"/>
<rect x="169.25" y="191.46" width="1.41" height="1.41" fill="#69cf69"/>
<rect x="169.25" y="192.67" width="1.41" height="1.41" fill="#3c6bfc"/>
<rect x="169.25" y="193.88" width="1.41" height="1.41" fill="#3c6bfc"/>
<rect x="169.25" y="195.08" width="1.41" height="1.41" fill="#0db3cc"/>
<rect x="169.25" y="196.29" width="1.41" height="1.41" fill="#f9fb14"/>
<rect x="169.25" y="197.50" width="1.41" height="1.41" fill="#0db3cc"/>
<rect x="169.25" y="198.71" width="1.41" height="1.41" fill="#69cf69"/>
<rect x="169.25" y="199.92" width="1.41" height="1.41" fill="#0db3cc"/>
<rect x="169.25" y="201.12" width="1.41" height="1.41" fill="#f9fb14"/>
<rect x="169.25" y="202.33" width="1.41" height="1.41" fill="#f9fb14"/>
<rect x="169.25" y="203.54" width="1.41" height="1.41" fill="#69cf69"/>
<rect x="169.25" y="204.75" width="1.41" height="1.41" fill="#f9fb14"/>
<rect x="169.25" y="205.96" width="1.41" height="1.41" fill="#69cf69"/>
<rect x="169.25" y="207.17" width="1.41" height="1.41" fill="#f0b836"/>
<rect x="169.25" y="208.38" width="1.41" height="1.41" fill="#69cf69"/>
<rect x="169.25" y="209.58" width="1.41" height="1.41" fill="#69cf69"/>
<rect x="169.25" y="210.79" width="1.41" height="1.41" fill="#69cf69"/>
<rect x="169.25" y="212.00" width="1.41" height="1.41" fill="#3c6bfc"/>
<rect x="169.25" y="213.21" width="1.41" height="1.41" fill="#3c6bfc"/>
<rect x="169.25" y="214.42" width="1.41" height="1.41" fill="#0db3cc"/>
<rect x="169.25" y="215.62" width="1.41" height="1.41" fill="#0db3cc"/>
<rect x="169.25" y="218.04" width="1.41" height="1.41" fill="#3c6bfc"/>
<rect x="169.25" y="220.46" width="1.41" height="1.41" fill="#0db3cc"/>
<rect x="170.46" y="184.21" width="1.41" height="1.41" fill="#3c6bfc"/>
<rect x="170.46" y="185.42" width="1.41" height="1.41" fill="#3c6bfc"/>
<rect x="170.46" y="187.83" width="1.41" height="1.41" fill="#3c6bfc"/>
<rect x="170.46" y="190.25" width="1.41" height="1.41" fill="#0db3cc"/>
<rect x="170.46" y="191.46" width="1.41" height="1.41" fill="#3c6bfc"/>
<rect x="170.46" y="192.67" width="1.41" height="1.41" fill="#69cf69"/>
<rect x="170.46" y="193.88" width="1.41" height="1.41" fill="#0db3cc"/>
<rect x="170.46" y="195.08" width="1.41" height="1.41" fill="#3c6bfc"/>
<rect x="170.46" y="196.29" width="1.41" height="1.41" fill="#0db3cc"/>
<rect x="170.46" y="197.50" width="1.41" height="1.41" fill="#0db3cc"/>
<rect x="170.46" y="198.71" width="1.41" height="1.41" fill="#f9fb14"/>
<rect x="170.46" y="199.92" width="1.41" height="1.41" fill="#f9fb14"/>
<rect x="170.46" y="201.12" width="1.41" height="1.41" fill="#f9fb14"/>
<rect x="170.46" y="202.33" width="1.41" height="1.41" fill="#f9fb14"/>
<rect x="170.46" y="203.54" width="1.41" height="1.41" fill="#f9fb14"/>
<rect x="170.46" y="204.75" width="1.41" height="1.41" fill="#f9fb14"/>
<rect x="170.46" y="205.96" width="1.41" height="1.41" fill="#f9fb14"/>
<rect x="170.46" y="207.17" width="1.41" height="1.41" fill="#69cf69"/>
<rect x="170.46" y="209.58" width="1.41" height="1.41" fill="#3c6bfc"/>
<rect x="170.46" y="210.79" width="1.41" height="1.41" fill="#3c6bfc"/>
<rect x="170.46" y="213.21" width="1.41" height="1.41" fill="#3c6bfc"/>
<rect x="170.46" y="218.04" width="1.41" height="1.41" fill="#3c6bfc"/>
<rect x="170.46" y="219.25" width="1.41" height="1.41" fill="#3c6bfc"/>
<rect x="171.67" y="173.33" width="1.41" height="1.41" fill="#3c6bfc"/>
<rect x="171.67" y="180.58" width="1.41" height="1.41" fill="#3c6bfc"/>
<rect x="171.67" y="185.42" width="1.41" height="1.41" fill="#3c6bfc"/>
<rect x="171.67" y="186.62" width="1.41" height="1.41" fill="#0db3cc"/>
<rect x="171.67" y="187.83" width="1.41" height="1.41" fill="#3c6bfc"/>
<rect x="171.67" y="189.04" width="1.41" height="1.41" fill="#3c6bfc"/>
<rect x="171.67" y="190.25" width="1.41" height="1.41" fill="#0db3cc"/>
<rect x="171.67" y="192.67" width="1.41" height="1.41" fill="#3c6bfc"/>
<rect x="171.67" y="195.08" width="1.41" height="1.41" fill="#f9fb14"/>
<rect x="171.67" y="196.29" width="1.41" height="1.41" fill="#69cf69"/>
<rect x="171.67" y="197.50" width="1.41" height="1.41" fill="#f9fb14"/>
<rect x="171.67" y="198.71" width="1.41" height="1.41" fill="#f9fb14"/>
<rect x="171.67" y="199.92" width="1.41" height="1.41" fill="#f9fb14"/>
<rect x="171.67" y="201.12" width="1.41" height="1.41" fill="#f9fb14"/>
<rect x="171.67" y="202.33" width="1.41" height="1.41" fill="#f9fb14"/>
<rect x="171.67" y="203.54" width="1.41" height="1.41" fill="#f9fb14"/>
<rect x="171.67" y="205.96" width="1.41" height="1.41" fill="#f0b836"/>
<rect x="171.67" y="207.17" width="1.41" height="1.41" fill="#0db3cc"/>
<rect x="171.67" y="208.38" width="1.41" height="1.41" fill="#3c6bfc"/>
<rect x="171.67" y="212.00" width="1.41" height="1.41" fill="#3c6bfc"/>
<rect x="171.67" y="215.62" width="1.41" height="1.41" fill="#3c6bfc"/>
<rect x="171.67" y="219.25" width="1.41" height="1.41" fill="#3c6bfc"/>
<rect x="172.88" y="176.96" width="1.41" height="1.41" fill="#3c6bfc"/>
<rect x="172.88" y="179.38" width="1.41" height="1.41" fill="#0db3cc"/>
<rect x="172.88" y="181.79" width="1.41" height="1.41" fill="#3c6bfc"/>
<rect x="172.88" y="184.21" width="1.41" height="1.41" fill="#3c6bfc"/>
<rect x="172.88" y="186.62" width="1.41" height="1.41" fill="#0db3cc"/>
<rect x="172.88" y="187.83" width="1.41" height="1.41" fill="#3c6bfc"/>
<rect x="172.88" y="189.04" width="1.41" height="1.41" fill="#3c6bfc"/>
<rect x="172.88" y="191.46" width="1.41" height="1.41" fill="#3c6bfc"/>
<rect x="172.88" y="192.67" width="1.41" height="1.41" fill="#f0b836"/>
<rect x="172.88" y="193.88" width="1.41" height="1.41" fill="#f0b836"/>
<rect x="172.88" y="195.08" width="1.41" height="1.41" fill="#f9fb14"/>
<rect x="172.88" y="196.29" width="1.41" height="1.41" fill="#f0b836"/>
<rect x="172.88" y="197.50" width="1.41" height="1.41" fill="#69cf69"/>
<rect x="172.88" y="198.71" width="1.41" height="1.41" fill="#f9fb14"/>
<rect x="172.88" y="199.92" width="1.41" height="1.41" fill="#f9fb14"/>
<rect x="172.88" y="201.12" width="1.41" height="1.41" fill="#f9fb14"/>
<rect x="172.88" y="202.33" width="1.41" height="1.41" fill="#f0b836"/>
<rect x="172.88" y="203.54" width="1.41" height="1.41" fill="#0db3cc"/>
<rect x="172.88" y="204.75" width="1.41" height="1.41" fill="#f0b836"/>
<rect x="172.88" y="205.96" width="1.41" height="1.41" fill="#3c6bfc"/>
<rect x="172.88" y="207.17" width="1.41" height="1.41" fill="#3c6bfc"/>
<rect x="172.88" y="208.38" width="1.41" height="1.41" fill="#3c6bfc"/>
<rect x="172.88" y="209.58" width="1.41" height="1.41" fill="#3c6bfc"/>
<rect x="172.88" y="210.79" width="1.41" height="1.41" fill="#3c6bfc"/>
<rect x="172.88" y="213.21" width="1.41" height="1.41" fill="#3c6bfc"/>
<rect x="172.88" y="219.25" width="1.41" height="1.41" fill="#3c6bfc"/>
<rect x="172.88" y="220.46" width="1.41" height="1.41" fill="#3c6bfc"/>
<rect x="172.88" y="221.67" width="1.41" height="1.41" fill="#3c6bfc"/>
<rect x="172.88" y="224.08" width="1.41" height="1.41" fill="#3c6bfc"/>
<rect x="174.08" y="173.33" width="1.41" height="1.41" fill="#3c6bfc"/>
<rect x="174.08" y="180.58" width="1.41" height="1.41" fill="#3c6bfc"/>
<rect x="174.08" y="186.62" width="1.41" height="1.41" fill="#3c6bfc"/>
<rect x="174.08" y="187.83" width="1.41" height="1.41" fill="#3c6bfc"/>
<rect x="174.08" y="189.04" width="1.41" height="1.41" fill="#0db3cc"/>
<rect x="174.08" y="190.25" width="1.41" height="1.41" fill="#0db3cc"/>
<rect x="174.08" y="192.67" width="1.41" height="1.41" fill="#f0b836"/>
<rect x="174.08" y="193.88" width="1.41" height="1.41" fill="#f9fb14"/>
<rect x="174.08" y="195.08" width="1.41" height="1.41" fill="#f0b836"/>
<rect x="174.08" y="196.29" width="1.41" height="1.41" fill="#f9fb14"/>
<rect x="174.08" y="197.50" width="1.41" height="1.41" fill="#f9fb14"/>
<rect x="174.08" y="198.71" width="1.41" height="1.41" fill="#f9fb14"/>
<rect x="174.08" y="199.92" width="1.41" height="1.41" fill="#f9fb14"/>
<rect x="174.08" y="201.12" width="1.41" height="1.41" fill="#69cf69"/>
<rect x="174.08" y="202.33" width="1.41" height="1.41" fill="#f9fb14"/>
<rect x="174.08" y="203.54" width="1.41" height="1.41" fill="#0db3cc"/>
<rect x="174.08" y="204.75" width="1.41" height="1.41" fill="#f9fb14"/>
<rect x="174.08" y="205.96" width="1.41" height="1.41" fill="#f0b836"/>
<rect x="174.08" y="207.17" width="1.41" height="1.41" fill="#3c6bfc"/>
<rect x="174.08" y="208.38" width="1.41" height="1.41" fill="#3c6bfc"/>
<rect x="174.08" y="209.58" width="1.41" height="1.41" fill="#0db3cc"/>
<rect x="174.08" y="210.79" width="1.41" height="1.41" fill="#3c6bfc"/>
<rect x="174.08" y="221.67" width="1.41" height="1.41" fill="#3c6bfc"/>
<rect x="175.29" y="169.71" width="1.41" height="1.41" fill="#3c6bfc"/>
<rect x="175.29" y="176.96" width="1.41" height="1.41" fill="#0db3cc"/>
<rect x="175.29" y="179.38" width="1.41" height="1.41" fill="#3c6bfc"/>
<rect x="175.29" y="181.79" width="1.41" height="1.41" fill="#3c6bfc"/>
<rect x="175.29" y="184.21" width="1.41" height="1.41" fill="#3c6bfc"/>
<rect x="175.29" y="185.42" width="1.41" height="1.41" fill="#0db3cc"/>
<rect x="175.29" y="186.62" width="1.41" height="1.41" fill="#69cf69"/>
<rect x="175.29" y="187.83" width="1.41" height="1.41" fill="#3c6bfc"/>
<rect x="175.29" y="189.04" width="1.41" height="1.41" fill="#69cf69"/>
<rect x="175.29" y="191.46" width="1.41" height="1.41" fill="#0db3cc"/>
<rect x="175.29" y="192.67" width="1.41" height="1.41" fill="#0db3cc"/>
<rect x="175.29" y="193.88" width="1.41" height="1.41" fill="#f9fb14"/>
<rect x="175.29" y="195.08" width="1.41" height="1.41" fill="#f0b836"/>
<rect x="175.29" y="196.29" width="1.41" height="1.41" fill="#f9fb14"/>
<rect x="175.29" y="197.50" width="1.41" height="1.41" fill="#f9fb14"/>
<rect x="175.29" y="198.71" width="1.41" height="1.41" fill="#f9fb14"/>
<rect x="175.29" y="199.92" width="1.41" height="1.41" fill="#f9fb14"/>
<rect x="175.29" y="201.12" width="1.41" height="1.41" fill="#f9fb14"/>
<rect x="175.29" y="202.33" width="1.41" height="1.41" fill="#3c6bfc"/>
<rect x="175.29" y="203.54" width="1.41" height="1.41" fill="#0db3cc"/>
<rect x="175.29" y="204.75" width="1.41" height="1.41" fill="#3c6bfc"/>
<rect x="175.29" y="205.96" width="1.41" height="1.41" fill="#0db3cc"/>
<rect x="175.29" y="207.17" width="1.41" height="1.41" fill="#3c6bfc"/>
<rect x="175.29" y="208.38" width="1.41" height="1.41" fill="#69cf69"/>
<rect x="175.29" y="209.58" width="1.41" height="1.41" fill="#0db3cc"/>
<rect x="175.29" y="210.79" width="1.41" height="1.41" fill="#3c6bfc"/>
<rect x="175.29" y="213.21" width="1.41" height="1.41" fill="#3c6bfc"/>
<rect x="175.29" y="215.62" width="1.41" height="1.41" fill="#3c6bfc"/>
<rect x="175.29" y="220.46" width="1.41" height="1.41" fill="#3c6bfc"/>
<rect x="176.50" y="180.58" width="1.41" height="1.41" fill="#3c6bfc"/>
<rect x="176.50" y="181.79" width="1.41" height="1.41" fill="#3c6bfc"/>
<rect x="176.50" y="183.00" width="1.41" height="1.41" fill="#3c6bfc"/>
<rect x="176.50" y="185.42" width="1.41" height="1.41" fill="#69cf69"/>
<rect x="176.50" y="186.62" width="1.41" height="1.41" fill="#3c6bfc"/>
<rect x="176.50" y="187.83" width="1.41" height="1.41" fill="#3c6bfc"/>
<rect x="176.50" y="189.04" width="1.41" height="1.41" fill="#0db3cc"/>
<rect x="176.50" y="190.25" width="1.41" height="1.41" fill="#69cf69"/>
<rect x="176.50" y="191.46" width="1.41" height="1.41" fill="#3c6bfc"/>
<rect x="176.50" y="192.67" width="1.41" height="1.41" fill="#f0b836"/>
<rect x="176.50" y="193.88" width="1.41" height="1.41" fill="#f9fb14"/>
<rect x="176.50" y="195.08" width="1.41" height="1.41" fill="#f9fb14"/>
<rect x="176.50" y="196.29" width="1.41" height="1.41" fill="#f9fb14"/>
<rect x="176.50" y="197.50" width="1.41" height="1.41" fill="#f9fb14"/>
<rect x="176.50" y="198.71" width="1.41" height="1.41" fill="#f9fb14"/>
<rect x="176.50" y="199.92" width="1.41" height="1.41" fill="#69cf69"/>
<rect x="176.50" y="201.12" width="1.41" height="1.41" fill="#0db3cc"/>
<rect x="176.50" y="203.54" width="1.41" height="1.41" fill="#3c6bfc"/>
<rect x="176.50" y="204.75" width="1.41" height="1.41" fill="#3c6bfc"/>
<rect x="176.50" y="205.96" width="1.41" height="1.41" fill="#3c6bfc"/>
<rect x="176.50" y="207.17" width="1.41" height="1.41" fill="#3c6bfc"/>
<rect x="176.50" y="208.38" width="1.41" height="1.41" fill="#3c6bfc"/>
<rect x="177.71" y="181.79" width="1.41" height="1.41" fill="#0db3cc"/>
<rect x="177.71" y="186.62" width="1.41" height="1.41" fill="#0db3cc"/>
<rect x="177.71" y="187.83" width="1.41" height="1.41" fill="#0db3cc"/>
<rect x="177.71" y="189.04" width="1.41" height="1.41" fill="#f0b836"/>
<rect x="177.71" y="190.25" width="1.41" height="1.41" fill="#f9fb14"/>
<rect x="177.71" y="191.46" width="1.41" height="1.41" fill="#f9fb14"/>
<rect x="177.71" y="192.67" width="1.41" height="1.41" fill="#69cf69"/>
<rect x="177.71" y="193.88" width="1.41" height="1.41" fill="#f9fb14"/>
<rect x="177.71" y="195.08" width="1.41" height="1.41" fill="#f9fb14"/>
<rect x="177.71" y="196.29" width="1.41" height="1.41" fill="#f9fb14"/>
<rect x="177.71" y="197.50" width="1.41" height="1.41" fill="#f9fb14"/>
<rect x="177.71" y="198.71" width="1.41" height="1.41" fill="#0db3cc"/>
<rect x="177.71" y="199.92" width="1.41" height="1.41" fill="#3c6bfc"/>
<rect x="177.71" y="201.12" width="1.41" height="1.41" fill="#3c6bfc"/>
<rect x="177.71" y="202.33" width="1.41" height="1.41" fill="#0db3cc"/>
<rect x="177.71" y="203.54" width="1.41" height="1.41" fill="#3c6bfc"/>
<rect x="177.71" y="204.75" width="1.41" height="1.41" fill="#69cf69"/>
<rect x="177.71" y="205.96" width="1.41" height="1.41" fill="#3c6bfc"/>
<rect x="177.71" y="207.17" width="1.41" height="1.41" fill="#3c6bfc"/>
<rect x="177.71" y="208.38" width="1.41" height="1.41" fill="#3c6bfc"/>
<rect x="177.71" y="210.79" width="1.41" height="1.41" fill="#3c6bfc"/>
<rect x="177.71" y="213.21" width="1.41" height="1.41" fill="#3c6bfc"/>
<rect x="177.71" y="221.67" width="1.41" height="1.41" fill="#3c6bfc"/>
<rect x="178.92" y="176.96" width="1.41" height="1.41" fill="#3c6bfc"/>
<rect x="178.92" y="180.58" width="1.41" height="1.41" fill="#0db3cc"/>
<rect x="178.92" y="181.79" width="1.41" height="1.41" fill="#3c6bfc"/>
<rect x="178.92" y="183.00" width="1.41" height="1.41" fill="#0db3cc"/>
<rect x="178.92" y="185.42" width="1.41" height="1.41" fill="#3c6bfc"/>
<rect x="178.92" y="186.62" width="1.41" height="1.41" fill="#3c6bfc"/>
<rect x="178.92" y="187.83" width="1.41" height="1.41" fill="#3c6bfc"/>
<rect x="178.92" y="189.04" width="1.41" height="1.41" fill="#f9fb14"/>
<rect x="178.92" y="190.25" width="1.41" height="1.41" fill="#69cf69"/>
<rect x="178.92" y="191.46" width="1.41" height="1.41" fill="#69cf69"/>
<rect x="178.92" y="192.67" width="1.41" height="1.41" fill="#f9fb14"/>
<rect x="178.92" y="193.88" width="1.41" height="1.41" fill="#f9fb14"/>
<rect x="178.92" y="195.08" width="1.41" height="1.41" fill="#f9fb14"/>
<rect x="178.92" y="196.29" width="1.41" height="1.41" fill="#69cf69"/>
<rect x="178.92" y="198.71" width="1.41" height="1.41" fill="#f9fb14"/>
<rect x="178.92" y="199.92" width="1.41" height="1.41" fill="#69cf69"/>
<rect x="178.92" y="201.12" width="1.41" height="1.41" fill="#3c6bfc"/>
<rect x="178.92" y="202.33" width="1.41" height="1.41" fill="#3c6bfc"/>
<rect x="178.92" y="203.54" width="1.41" height="1.41" fill="#f0b836"/>
<rect x="178.92" y="204.75" width="1.41" height="1.41" fill="#0db3cc"/>
<rect x="178.92" y="207.17" width="1.41" height="1.41" fill="#69cf69"/>
<rect x="178.92" y="208.38" width="1.41" height="1.41" fill="#69cf69"/>
<rect x="178.92" y="209.58" width="1.41" height="1.41" fill="#69cf69"/>
<rect x="178.92" y="210.79" width="1.41" height="1.41" fill="#3c6bfc"/>
<rect x="180.12" y="168.50" width="1.41" height="1.41" fill="#3c6bfc"/>
<rect x="180.12" y="173.33" width="1.41" height="1.41" fill="#3c6bfc"/>
<rect x="180.12" y="183.00" width="1.41" height="1.41" fill="#0db3cc"/>
<rect x="180.12" y="184.21" width="1.41" height="1.41" fill="#3c6bfc"/>
<rect x="180.12" y="185.42" width="1.41" height="1.41" fill="#f0b836"/>
<rect x="180.12" y="186.62" width="1.41" height="1.41" fill="#3c6bfc"/>
<rect x="180.12" y="187.83" width="1.41" height="1.41" fill="#f0b836"/>
<rect x="180.12" y="189.04" width="1.41" height="1.41" fill="#f0b836"/>
<rect x="180.12" y="190.25" width="1.41" height="1.41" fill="#0db3cc"/>
<rect x="180.12" y="191.46" width="1.41" height="1.41" fill="#f9fb14"/>
<rect x="180.12" y="192.67" width="1.41" height="1.41" fill="#f9fb14"/>
<rect x="180.12" y="193.88" width="1.41" height="1.41" fill="#69cf69"/>
<rect x="180.12" y="195.08" width="1.41" height="1.41" fill="#f9fb14"/>
<rect x="180.12" y="196.29" width="1.41" height="1.41" fill="#f9fb14"/>
<rect x="180.12" y="198.71" width="1.41" height="1.41" fill="#0db3cc"/>
<rect x="180.12" y="199.92" width="1.41" height="1.41" fill="#0db3cc"/>
<rect x="180.12" y="202.33" width="1.41" height="1.41" fill="#f0b836"/>
<rect x="180.12" y="203.54" width="1.41" height="1.41" fill="#3c6bfc"/>
<rect x="180.12" y="204.75" width="1.41" height="1.41" fill="#3c6bfc"/>
<rect x="180.12" y="205.96" width="1.41" height="1.41" fill="#0db3cc"/>
<rect x="180.12" y="209.58" width="1.41" height="1.41" fill="#3c6bfc"/>
<rect x="181.33" y="169.71" width="1.41" height="1.41" fill="#3c6bfc"/>
<rect x="181.33" y="173.33" width="1.41" height="1.41" fill="#3c6bfc"/>
<rect x="181.33" y="179.38" width="1.41" height="1.41" fill="#3c6bfc"/>
<rect x="181.33" y="180.58" width="1.41" height="1.41" fill="#3c6bfc"/>
<rect x="181.33" y="183.00" width="1.41" height="1.41" fill="#3c6bfc"/>
<rect x="181.33" y="185.42" width="1.41" height="1.41" fill="#f0b836"/>
<rect x="181.33" y="187.83" width="1.41" height="1.41" fill="#f0b836"/>
<rect x="181.33" y="189.04" width="1.41" height="1.41" fill="#f9fb14"/>
<rect x="181.33" y="190.25" width="1.41" height="1.41" fill="#f9fb14"/>
<rect x="181.33" y="191.46" width="1.41" height="1.41" fill="#f9fb14"/>
<rect x="181.33" y="192.67" width="1.41" height="1.41" fill="#f9fb14"/>
<rect x="181.33" y="193.88" width="1.41" height="1.41" fill="#f9fb14"/>
<rect x="181.33" y="195.08" width="1.41" height="1.41" fill="#f9fb14"/>
<rect x="181.33" y="196.29" width="1.41" height="1.41" fill="#69cf69"/>
<rect x="181.33" y="197.50" width="1.41" height="1.41" fill="#69cf69"/>
<rect x="181.33" y="201.12" width="1.41" height="1.41" fill="#0db3cc"/>
<rect x="181.33" y="203.54" width="1.41" height="1.41" fill="#3c6bfc"/>
<rect x="181.33" y="204.75" width="1.41" height="1.41" fill="#3c6bfc"/>
<rect x="181.33" y="205.96" width="1.41" height="1.41" fill="#3c6bfc"/>
<rect x="181.33" y="210.79" width="1.41" height="1.41" fill="#3c6bfc"/>
<rect x="181.33" y="213.21" width="1.41" height="1.41" fill="#3c6bfc"/>
<rect x="182.54" y="170.92" width="1.41" height="1.41" fill="#3c6bfc"/>
<rect x="182.54" y="172.12" width="1.41" height="1.41" fill="#0db3cc"/>
<rect x="182.54" y="174.54" width="1.41" height="1.41" fill="#3c6bfc"/>
<rect x="182.54" y="181.79" width="1.41" height="1.41" fill="#f9fb14"/>
<rect x="182.54" y="183.00" width="1.41" height="1.41" fill="#69cf69"/>
<rect x="182.54" y="184.21" width="1.41" height="1.41" fill="#0db3cc"/>
<rect x="182.54" y="185.42" width="1.41" height="1.41" fill="#f9fb14"/>
<rect x="182.54" y="186.62" width="1.41" height="1.41" fill="#3c6bfc"/>
<rect x="182.54" y="187.83" width="1.41" height="1.41" fill="#f9fb14"/>
<rect x="182.54" y="189.04" width="1.41" height="1.41" fill="#f0b836"/>
<rect x="182.54" y="190.25" width="1.41" height="1.41" fill="#f9fb14"/>
<rect x="182.54" y="191.46" width="1.41" height="1.41" fill="#f9fb14"/>
<rect x="182.54" y="192.67" width="1.41" height="1.41" fill="#f0b836"/>
<rect x="182.54" y="193.88" width="1.41" height="1.41" fill="#f9fb14"/>
<rect x="182.54" y="195.08" width="1.41" height="1.41" fill="#f0b836"/>
<rect x="182.54" y="196.29" width="1.41" height="1.41" fill="#3c6bfc"/>
<rect x="182.54" y="197.50" width="1.41" height="1.41" fill="#69cf69"/>
<rect x="182.54" y="198.71" width="1.41" height="1.41" fill="#3c6bfc"/>
<rect x="182.54" y="199.92" width="1.41" height="1.41" fill="#69cf69"/>
<rect x="182.54" y="201.12" width="1.41" height="1.41" fill="#3c6bfc"/>
<rect x="182.54" y="202.33" width="1.41" height="1.41" fill="#3c6bfc"/>
<rect x="182.54" y="203.54" width="1.41" height="1.41" fill="#0db3cc"/>
<rect x="182.54" y="204.75" width="1.41" height="1.41" fill="#3c6bfc"/>
<rect x="182.54" y="213.21" width="1.41" height="1.41" fill="#3c6bfc"/>
<rect x="183.75" y="173.33" width="1.41" height="1.41" fill="#3c6bfc"/>
<rect x="183.75" y="176.96" width="1.41" height="1.41" fill="#0db3cc"/>
<rect x="183.75" y="180.58" width="1.41" height="1.41" fill="#0db3cc"/>
<rect x="183.75" y="181.79" width="1.41" height="1.41" fill="#f9fb14"/>
<rect x="183.75" y="183.00" width="1.41" height="1.41" fill="#0db3cc"/>
<rect x="183.75" y="184.21" width="1.41" height="1.41" fill="#3c6bfc"/>
<rect x="183.75" y="185.42" width="1.41" height="1.41" fill="#f9fb14"/>
<rect x="183.75" y="186.62" width="1.41" height="1.41" fill="#0db3cc"/>
<rect x="183.75" y="187.83" width="1.41" height="1.41" fill="#f9fb14"/>
<rect x="183.75" y="189.04" width="1.41" height="1.41" fill="#69cf69"/>
<rect x="183.75" y="190.25" width="1.41" height="1.41" fill="#f0b836"/>
<rect x="183.75" y="191.46" width="1.41" height="1.41" fill="#f9fb14"/>
<rect x="183.75" y="192.67" width="1.41" height="1.41" fill="#0db3cc"/>
<rect x="183.75" y="195.08" width="1.41" height="1.41" fill="#3c6bfc"/>
<rect x="183.75" y="196.29" width="1.41" height="1.41" fill="#0db3cc"/>
<rect x="183.75" y="197.50" width="1.41" height="1.41" fill="#3c6bfc"/>
<rect x="183.75" y="199.92" width="1.41" height="1.41" fill="#0db3cc"/>
<rect x="183.75" y="201.12" width="1.41" height="1.41" fill="#3c6bfc"/>
<rect x="183.75" y="202.33" width="1.41" height="1.41" fill="#0db3cc"/>
<rect x="183.75" y="203.54" width="1.41" height="1.41" fill="#0db3cc"/>
<rect x="183.75" y="209.58" width="1.41" height="1.41" fill="#3c6bfc"/>
<rect x="183.75" y="215.62" width="1.41" height="1.41" fill="#3c6bfc"/>
<rect x="183.75" y="219.25" width="1.41" height="1.41" fill="#3c6bfc"/>
<rect x="184.96" y="169.71" width="1.41" height="1.41" fill="#3c6bfc"/>
<rect x="184.96" y="172.12" width="1.41" height="1.41" fill="#3c6bfc"/>
<rect x="184.96" y="173.33" width="1.41" height="1.41" fill="#3c6bfc"/>
<rect x="184.96" y="175.75" width="1.41" height="1.41" fill="#3c6bfc"/>
<rect x="184.96" y="178.17" width="1.41" height="1.41" fill="#0db3cc"/>
<rect x="184.96" y="179.38" width="1.41" height="1.41" fill="#3c6bfc"/>
<rect x="184.96" y="181.79" width="1.41" height="1.41" fill="#0db3cc"/>
<rect x="184.96" y="183.00" width="1.41" height="1.41" fill="#0db3cc"/>
<rect x="184.96" y="184.21" width="1.41" height="1.41" fill="#0db3cc"/>
<rect x="184.96" y="185.42" width="1.41" height="1.41" fill="#f9fb14"/>
<rect x="184.96" y="186.62" width="1.41" height="1.41" fill="#f9fb14"/>
<rect x="184.96" y="187.83" width="1.41" height="1.41" fill="#f0b836"/>
<rect x="184.96" y="189.04" width="1.41" height="1.41" fill="#f9fb14"/>
<rect x="184.96" y="190.25" width="1.41" height="1.41" fill="#f9fb14"/>
<rect x="184.96" y="191.46" width="1.41" height="1.41" fill="#69cf69"/>
<rect x="184.96" y="192.67" width="1.41" height="1.41" fill="#f9fb14"/>
<rect x="184.96" y="193.88" width="1.41" height="1.41" fill="#69cf69"/>
<rect x="184.96" y="196.29" width="1.41" height="1.41" fill="#f0b836"/>
<rect x="184.96" y="197.50" width="1.41" height="1.41" fill="#69cf69"/>
<rect x="184.96" y="198.71" width="1.41" height="1.41" fill="#3c6bfc"/>
<rect x="184.96" y="199.92" width="1.41" height="1.41" fill="#69cf69"/>
<rect x="184.96" y="203.54" width="1.41" height="1.41" fill="#3c6bfc"/>
<rect x="184.96" y="214.42" width="1.41" height="1.41" fill="#3c6bfc"/>
<rect x="186.17" y="170.92" width="1.41" height="1.41" fill="#3c6bfc"/>
<rect x="186.17" y="173.33" width="1.41" height="1.41" fill="#f0b836"/>
<rect x="186.17" y="175.75" width="1.41" height="1.41" fill="#3c6bfc"/>
<rect x="186.17" y="176.96" width="1.41" height="1.41" fill="#0db3cc"/>
<rect x="186.17" y="179.38" width="1.41" height="1.41" fill="#f0b836"/>
<rect x="186.17" y="180.58" width="1.41" height="1.41" fill="#f0b836"/>
<rect x="186.17" y="183.00" width="1.41" height="1.41" fill="#f0b836"/>
<rect x="186.17" y="184.21" width="1.41" height="1.41" fill="#f0b836"/>
<rect x="186.17" y="185.42" width="1.41" height="1.41" fill="#f9fb14"/>
<rect x="186.17" y="186.62" width="1.41" height="1.41" fill="#f0b836"/>
<rect x="186.17" y="187.83" width="1.41" height="1.41" fill="#f9fb14"/>
<rect x="186.17" y="189.04" width="1.41" height="1.41" fill="#f9fb14"/>
<rect x="186.17" y="190.25" width="1.41" height="1.41" fill="#f9fb14"/>
<rect x="186.17" y="191.46" width="1.41" height="1.41" fill="#0db3cc"/>
<rect x="186.17" y="192.67" width="1.41" height="1.41" fill="#0db3cc"/>
<rect x="186.17" y="195.08" width="1.41" height="1.41" fill="#3c6bfc"/>
<rect x="186.17" y="198.71" width="1.41" height="1.41" fill="#3c6bfc"/>
<rect x="186.17" y="199.92" width="1.41" height="1.41" fill="#f9fb14"/>
<rect x="186.17" y="201.12" width="1.41" height="1.41" fill="#3c6bfc"/>
<rect x="186.17" y="202.33" width="1.41" height="1.41" fill="#3c6bfc"/>
<rect x="186.17" y="204.75" width="1.41" height="1.41" fill="#3c6bfc"/>
<rect x="186.17" y="205.96" width="1.41" height="1.41" fill="#3c6bfc"/>
<rect x="186.17" y="208.38" width="1.41" height="1.41" fill="#3c6bfc"/>
<rect x="186.17" y="209.58" width="1.41" height="1.41" fill="#3c6bfc"/>
<rect x="186.17" y="218.04" width="1.41" height="1.41" fill="#3c6bfc"/>
<rect x="187.38" y="173.33" width="1.41" height="1.41" fill="#3c6bfc"/>
<rect x="187.38" y="174.54" width="1.41" height="1.41" fill="#3c6bfc"/>
<rect x="187.38" y="178.17" width="1.41" height="1.41" fill="#f0b836"/>
<rect x="187.38" y="181.79" width="1.41" height="1.41" fill="#f0b836"/>
<rect x="187.38" y="183.00" width="1.41" height="1.41" fill="#0db3cc"/>
<rect x="187.38" y="184.21" width="1.41" height="1.41" fill="#f9fb14"/>
<rect x="187.38" y="185.42" width="1.41" height="1.41" fill="#69cf69"/>
<rect x="187.38" y="186.62" width="1.41" height="1.41" fill="#f9fb14"/>
<rect x="187.38" y="187.83" width="1.41" height="1.41" fill="#69cf69"/>
<rect x="187.38" y="189.04" width="1.41" height="1.41" fill="#3c6bfc"/>
<rect x="187.38" y="190.25" width="1.41" height="1.41" fill="#0db3cc"/>
<rect x="187.38" y="191.46" width="1.41" height="1.41" fill="#3c6bfc"/>
<rect x="187.38" y="192.67" width="1.41" height="1.41" fill="#0db3cc"/>
<rect x="187.38" y="195.08" width="1.41" height="1.41" fill="#3c6bfc"/>
<rect x="187.38" y="196.29" width="1.41" height="1.41" fill="#0db3cc"/>
<rect x="187.38" y="197.50" width="1.41" height="1.41" fill="#3c6bfc"/>
<rect x="187.38" y="199.92" width="1.41" height="1.41" fill="#3c6bfc"/>
<rect x="187.38" y="201.12" width="1.41" height="1.41" fill="#3c6bfc"/>
<rect x="187.38" y="202.33" width="1.41" height="1.41" fill="#0db3cc"/>
<rect x="187.38" y="215.62" width="1.41" height="1.41" fill="#3c6bfc"/>
<rect x="187.38" y="219.25" width="1.41" height="1.41" fill="#3c6bfc"/>
<rect x="187.38" y="221.67" width="1.41" height="1.41" fill="#3c6bfc"/>
<rect x="188.58" y="168.50" width="1.41" height="1.41" fill="#3c6bfc"/>
<rect x="188.58" y="172.12" width="1.41" height="1.41" fill="#3c6bfc"/>
<rect x="188.58" y="174.54" width="1.41" height="1.41" fill="#3c6bfc"/>
<rect x="188.58" y="175.75" width="1.41" height="1.41" fill="#0db3cc"/>
<rect x="188.58" y="176.96" width="1.41" height="1.41" fill="#3c6bfc"/>
<rect x="188.58" y="178.17" width="1.41" height="1.41" fill="#3c6bfc"/>
<rect x="188.58" y="179.38" width="1.41" height="1.41" fill="#f9fb14"/>
<rect x="188.58" y="180.58" width="1.41" height="1.41" fill="#3c6bfc"/>
<rect x="188.58" y="181.79" width="1.41" height="1.41" fill="#f9fb14"/>
<rect x="188.58" y="183.00" width="1.41" height="1.41" fill="#f9fb14"/>
<rect x="188.58" y="184.21" width="1.41" height="1.41" fill="#f0b836"/>
<rect x="188.58" y="185.42" width="1.41" height="1.41" fill="#f9fb14"/>
<rect x="188.58" y="186.62" width="1.41" height="1.41" fill="#0db3cc"/>
<rect x="188.58" y="187.83" width="1.41" height="1.41" fill="#3c6bfc"/>
<rect x="188.58" y="189.04" width="1.41" height="1.41" fill="#3c6bfc"/>
<rect x="188.58" y="190.25" width="1.41" height="1.41" fill="#f0b836"/>
<rect x="188.58" y="191.46" width="1.41" height="1.41" fill="#0db3cc"/>
<rect x="188.58" y="192.67" width="1.41" height="1.41" fill="#0db3cc"/>
<rect x="188.58" y="195.08" width="1.41" height="1.41" fill="#0db3cc"/>
<rect x="188.58" y="196.29" width="1.41" height="1.41" fill="#3c6bfc"/>
<rect x="188.58" y="198.71" width="1.41" height="1.41" fill="#3c6bfc"/>
<rect x="188.58" y="199.92" width="1.41" height="1.41" fill="#3c6bfc"/>
<rect x="188.58" y="204.75" width="1.41" height="1.41" fill="#3c6bfc"/>
<rect x="188.58" y="212.00" width="1.41" height="1.41" fill="#3c6bfc"/>
<rect x="188.58" y="224.08" width="1.41" height="1.41" fill="#3c6bfc"/>
<rect x="189.79" y="173.33" width="1.41" height="1.41" fill="#3c6bfc"/>
<rect x="189.79" y="175.75" width="1.41" height="1.41" fill="#3c6bfc"/>
<rect x="189.79" y="176.96" width="1.41" height="1.41" fill="#0db3cc"/>
<rect x="189.79" y="178.17" width="1.41" height="1.41" fill="#f9fb14"/>
<rect x="189.79" y="179.38" width="1.41" height="1.41" fill="#69cf69"/>
<rect x="189.79" y="180.58" width="1.41" height="1.41" fill="#69cf69"/>
<rect x="189.79" y="181.79" width="1.41" height="1.41" fill="#f9fb14"/>
<rect x="189.79" y="183.00" width="1.41" height="1.41" fill="#f9fb14"/>
<rect x="189.79" y="184.21" width="1.41" height="1.41" fill="#f0b836"/>
<rect x="189.79" y="185.42" width="1.41" height="1.41" fill="#69cf69"/>
<rect x="189.79" y="186.62" width="1.41" height="1.41" fill="#f9fb14"/>
<rect x="189.79" y="187.83" width="1.41" height="1.41" fill="#0db3cc"/>
<rect x="189.79" y="189.04" width="1.41" height="1.41" fill="#f0b836"/>
<rect x="189.79" y="190.25" width="1.41" height="1.41" fill="#3c6bfc"/>
<rect x="189.79" y="191.46" width="1.41" height="1.41" fill="#3c6bfc"/>
<rect x="189.79" y="192.67" width="1.41" height="1.41" fill="#0db3cc"/>
<rect x="189.79" y="193.88" width="1.41" height="1.41" fill="#f0b836"/>
<rect x="189.79" y="199.92" width="1.41" height="1.41" fill="#3c6bfc"/>
<rect x="189.79" y="201.12" width="1.41" height="1.41" fill="#3c6bfc"/>
<rect x="189.79" y="202.33" width="1.41" height="1.41" fill="#3c6bfc"/>
<rect x="189.79" y="213.21" width="1.41" height="1.41" fill="#3c6bfc"/>
<rect x="189.79" y="225.29" width="1.41" height="1.41" fill="#3c6bfc"/>
<rect x="191.00" y="168.50" width="1.41" height="1.41" fill="#3c6bfc"/>
<rect x="191.00" y="169.71" width="1.41" height="1.41" fill="#0db3cc"/>
<rect x="191.00" y="170.92" width="1.41" height="1.41" fill="#3c6bfc"/>
<rect x="191.00" y="173.33" width="1.41" height="1.41" fill="#3c6bfc"/>
<rect x="191.00" y="174.54" width="1.41" height="1.41" fill="#3c6bfc"/>
<rect x="191.00" y="175.75" width="1.41" height="1.41" fill="#0db3cc"/>
<rect x="191.00" y="176.96" width="1.41" height="1.41" fill="#f0b836"/>
<rect x="191.00" y="178.17" width="1.41" height="1.41" fill="#69cf69"/>
<rect x="191.00" y="179.38" width="1.41" height="1.41" fill="#f0b836"/>
<rect x="191.00" y="180.58" width="1.41" height="1.41" fill="#f9fb14"/>
<rect x="191.00" y="181.79" width="1.41" height="1.41" fill="#f9fb14"/>
<rect x="191.00" y="183.00" width="1.41" height="1.41" fill="#f9fb14"/>
<rect x="191.00" y="184.21" width="1.41" height="1.41" fill="#0db3cc"/>
<rect x="191.00" y="185.42" width="1.41" height="1.41" fill="#0db3cc"/>
<rect x="191.00" y="186.62" width="1.41" height="1.41" fill="#3c6bfc"/>
<rect x="191.00" y="187.83" width="1.41" height="1.41" fill="#3c6bfc"/>
<rect x="191.00" y="193.88" width="1.41" height="1.41" fill="#0db3cc"/>
<rect x="191.00" y="195.08" width="1.41" height="1.41" fill="#3c6bfc"/>
<rect x="191.00" y="196.29" width="1.41" height="1.41" fill="#0db3cc"/>
<rect x="191.00" y="201.12" width="1.41" height="1.41" fill="#3c6bfc"/>
<rect x="191.00" y="219.25" width="1.41" height="1.41" fill="#3c6bfc"/>
<rect x="191.00" y="220.46" width="1.41" height="1.41" fill="#3c6bfc"/>
<rect x="192.21" y="172.12" width="1.41" height="1.41" fill="#3c6bfc"/>
<rect x="192.21" y="174.54" width="1.41" height="1.41" fill="#0db3cc"/>
<rect x="192.21" y="175.75" width="1.41" height="1.41" fill="#f0b836"/>
<rect x="192.21" y="176.96" width="1.41" height="1.41" fill="#f9fb14"/>
<rect x="192.21" y="178.17" width="1.41" height="1.41" fill="#69cf69"/>
<rect x="192.21" y="179.38" width="1.41" height="1.41" fill="#f9fb14"/>
<rect x="192.21" y="180.58" width="1.41" height="1.41" fill="#f9fb14"/>
<rect x="192.21" y="181.79" width="1.41" height="1.41" fill="#f9fb14"/>
<rect x="192.21" y="183.00" width="1.41" height="1.41" fill="#f9fb14"/>
<rect x="192.21" y="184.21" width="1.41" height="1.41" fill="#0db3cc"/>
<rect x="192.21" y="185.42" width="1.41" height="1.41" fill="#69cf69"/>
<rect x="192.21" y="186.62" width="1.41" height="1.41" fill="#3c6bfc"/>
<rect x="192.21" y="191.46" width="1.41" height="1.41" fill="#0db3cc"/>
<rect x="192.21" y="193.88" width="1.41" height="1.41" fill="#3c6bfc"/>
<rect x="192.21" y="196.29" width="1.41" height="1.41" fill="#3c6bfc"/>
<rect x="192.21" y="198.71" width="1.41" height="1.41" fill="#3c6bfc"/>
<rect x="192.21" y="221.67" width="1.41" height="1.41" fill="#3c6bfc"/>
<rect x="193.42" y="170.92" width="1.41" height="1.41" fill="#3c6bfc"/>
<rect x="193.42" y="172.12" width="1.41" height="1.41" fill="#0db3cc"/>
<rect x="193.42" y="173.33" width="1.41" height="1.41" fill="#3c6bfc"/>
<rect x="193.42" y="174.54" width="1.41" height="1.41" fill="#69cf69"/>
<rect x="193.42" y="175.75" width="1.41" height="1.41" fill="#69cf69"/>
<rect x="193.42" y="176.96" width="1.41" height="1.41" fill="#f9fb14"/>
<rect x="193.42" y="178.17" width="1.41" height="1.41" fill="#69cf69"/>
<rect x="193.42" y="179.38" width="1.41" height="1.41" fill="#f9fb14"/>
<rect x="193.42" y="180.58" width="1.41" height="1.41" fill="#f9fb14"/>
<rect x="193.42" y="181.79" width="1.41" height="1.41" fill="#69cf69"/>
<rect x="193.42" y="183.00" width="1.41" height="1.41" fill="#69cf69"/>
<rect x="193.42" y="184.21" width="1.41" height="1.41" fill="#3c6bfc"/>
<rect x="193.42" y="185.42" width="1.41" height="1.41" fill="#69cf69"/>
<rect x="193.42" y="186.62" width="1.41" height="1.41" fill="#f0b836"/>
<rect x="193.42" y="189.04" width="1.41" height="1.41" fill="#3c6bfc"/>
<rect x="193.42" y="190.25" width="1.41" height="1.41" fill="#0db3cc"/>
<rect x="193.42" y="191.46" width="1.41" height="1.41" fill="#3c6bfc"/>
<rect x="193.42" y="193.88" width="1.41" height="1.41" fill="#3c6bfc"/>
<rect x="193.42" y="195.08" width="1.41" height="1.41" fill="#3c6bfc"/>
<rect x="194.62" y="169.71" width="1.41" height="1.41" fill="#3c6bfc"/>
<rect x="194.62" y="170.92" width="1.41" height="1.41" fill="#3c6bfc"/>
<rect x="194.62" y="172.12" width="1.41" height="1.41" fill="#3c6bfc"/>
<rect x="194.62" y="173.33" width="1.41" height="1.41" fill="#69cf69"/>
<rect x="194.62" y="174.54" width="1.41" height="1.41" fill="#f9fb14"/>
<rect x="194.62" y="175.75" width="1.41" height="1.41" fill="#69cf69"/>
<rect x="194.62" y="176.96" width="1.41" height="1.41" fill="#f9fb14"/>
<rect x="194.62" y="178.17" width="1.41" height="1.41" fill="#f9fb14"/>
<rect x="194.62" y="179.38" width="1.41" height="1.41" fill="#f9fb14"/>
<rect x="194.62" y="180.58" width="1.41" height="1.41" fill="#f9fb14"/>
<rect x="194.62" y="181.79" width="1.41" height="1.41" fill="#3c6bfc"/>
<rect x="194.62" y="183.00" width="1.41" height="1.41" fill="#3c6bfc"/>
<rect x="194.62" y="184.21" width="1.41" height="1.41" fill="#3c6bfc"/>
<rect x="194.62" y="186.62" width="1.41" height="1.41" fill="#0db3cc"/>
<rect x="194.62" y="189.04" width="1.41" height="1.41" fill="#3c6bfc"/>
<rect x="194.62" y="193.88" width="1.41" height="1.41" fill="#3c6bfc"/>
<rect x="194.62" y="198.71" width="1.41" height="1.41" fill="#3c6bfc"/>
<rect x="194.62" y="199.92" width="1.41" height="1.41" fill="#3c6bfc"/>
<rect x="194.62" y="205.96" width="1.41" height="1.41" fill="#3c6bfc"/>
<rect x="194.62" y="207.17" width="1.41" height="1.41" fill="#3c6bfc"/>
<rect x="195.83" y="169.71" width="1.41" height="1.41" fill="#3c6bfc"/>
<rect x="195.83" y="173.33" width="1.41" height="1.41" fill="#f9fb14"/>
<rect x="195.83" y="174.54" width="1.41" height="1.41" fill="#f9fb14"/>
<rect x="195.83" y="175.75" width="1.41" height="1.41" fill="#f0b836"/>
<rect x="195.83" y="176.96" width="1.41" height="1.41" fill="#f9fb14"/>
<rect x="195.83" y="178.17" width="1.41" height="1.41" fill="#f9fb14"/>
<rect x="195.83" y="179.38" width="1.41" height="1.41" fill="#f9fb14"/>
<rect x="195.83" y="180.58" width="1.41" height="1.41" fill="#69cf69"/>
<rect x="195.83" y="181.79" width="1.41" height="1.41" fill="#69cf69"/>
<rect x="195.83" y="183.00" width="1.41" height="1.41" fill="#3c6bfc"/>
<rect x="195.83" y="184.21" width="1.41" height="1.41" fill="#3c6bfc"/>
<rect x="195.83" y="191.46" width="1.41" height="1.41" fill="#3c6bfc"/>
<rect x="195.83" y="193.88" width="1.41" height="1.41" fill="#3c6bfc"/>
<rect x="195.83" y="196.29" width="1.41" height="1.41" fill="#3c6bfc"/>
<rect x="197.04" y="168.50" width="1.41" height="1.41" fill="#69cf69"/>
<rect x="197.04" y="169.71" width="1.41" height="1.41" fill="#3c6bfc"/>
<rect x="197.04" y="170.92" width="1.41" height="1.41" fill="#3c6bfc"/>
<rect x="197.04" y="172.12" width="1.41" height="1.41" fill="#3c6bfc"/>
<rect x="197.04" y="173.33" width="1.41" height="1.41" fill="#f0b836"/>
<rect x="197.04" y="174.54" width="1.41" height="1.41" fill="#f9fb14"/>
<rect x="197.04" y="175.75" width="1.41" height="1.41" fill="#f9fb14"/>
<rect x="197.04" y="176.96" width="1.41" height="1.41" fill="#f9fb14"/>
<rect x="197.04" y="178.17" width="1.41" height="1.41" fill="#f9fb14"/>
<rect x="197.04" y="179.38" width="1.41" height="1.41" fill="#f0b836"/>
<rect x="197.04" y="180.58" width="1.41" height="1.41" fill="#0db3cc"/>
<rect x="197.04" y="181.79" width="1.41" height="1.41" fill="#3c6bfc"/>
<rect x="197.04" y="184.21" width="1.41" height="1.41" fill="#3c6bfc"/>
<rect x="197.04" y="186.62" width="1.41" height="1.41" fill="#3c6bfc"/>
<rect x="197.04" y="187.83" width="1.41" height="1.41" fill="#3c6bfc"/>
<rect x="197.04" y="212.00" width="1.41" height="1.41" fill="#3c6bfc"/>
<rect x="198.25" y="168.50" width="1.41" height="1.41" fill="#3c6bfc"/>
<rect x="198.25" y="170.92" width="1.41" height="1.41" fill="#0db3cc"/>
<rect x="198.25" y="173.33" width="1.41" height="1.41" fill="#f9fb14"/>
<rect x="198.25" y="174.54" width="1.41" height="1.41" fill="#f0b836"/>
<rect x="198.25" y="175.75" width="1.41" height="1.41" fill="#f9fb14"/>
<rect x="198.25" y="176.96" width="1.41" height="1.41" fill="#f9fb14"/>
<rect x="198.25" y="178.17" width="1.41" height="1.41" fill="#3c6bfc"/>
<rect x="198.25" y="179.38" width="1.41" height="1.41" fill="#0db3cc"/>
<rect x="198.25" y="180.58" width="1.41" height="1.41" fill="#3c6bfc"/>
<rect x="198.25" y="183.00" width="1.41" height="1.41" fill="#3c6bfc"/>
<rect x="198.25" y="184.21" width="1.41" height="1.41" fill="#3c6bfc"/>
<rect x="198.25" y="189.04" width="1.41" height="1.41" fill="#3c6bfc"/>
<rect x="198.25" y="191.46" width="1.41" height="1.41" fill="#3c6bfc"/>
<rect x="198.25" y="195.08" width="1.41" height="1.41" fill="#3c6bfc"/>
<rect x="199.46" y="168.50" width="1.41" height="1.41" fill="#3c6bfc"/>
<rect x="199.46" y="169.71" width="1.41" height="1.41" fill="#69cf69"/>
<rect x="199.46" y="170.92" width="1.41" height="1.41" fill="#0db3cc"/>
<rect x="199.46" y="172.12" width="1.41" height="1.41" fill="#f9fb14"/>
<rect x="199.46" y="173.33" width="1.41" height="1.41" fill="#0db3cc"/>
<rect x="199.46" y="174.54" width="1.41" height="1.41" fill="#f9fb14"/>
<rect x="199.46" y="175.75" width="1.41" height="1.41" fill="#69cf69"/>
<rect x="199.46" y="176.96" width="1.41" height="1.41" fill="#3c6bfc"/>
<rect x="199.46" y="178.17" width="1.41" height="1.41" fill="#0db3cc"/>
<rect x="199.46" y="179.38" width="1.41" height="1.41" fill="#f0b836"/>
<rect x="199.46" y="180.58" width="1.41" height="1.41" fill="#0db3cc"/>
<rect x="199.46" y="181.79" width="1.41" height="1.41" fill="#3c6bfc"/>
<rect x="199.46" y="186.62" width="1.41" height="1.41" fill="#3c6bfc"/>
<rect x="199.46" y="189.04" width="1.41" height="1.41" fill="#3c6bfc"/>
<rect x="199.46" y="190.25" width="1.41" height="1.41" fill="#3c6bfc"/>
<rect x="199.46" y="195.08" width="1.41" height="1.41" fill="#3c6bfc"/>
<rect x="199.46" y="199.92" width="1.41" height="1.41" fill="#3c6bfc"/>
<rect x="199.46" y="216.83" width="1.41" height="1.41" fill="#3c6bfc"/>
<rect x="199.46" y="224.08" width="1.41" height="1.41" fill="#3c6bfc"/>
<rect x="200.67" y="168.50" width="1.41" height="1.41" fill="#f0b836"/>
<rect x="200.67" y="169.71" width="1.41" height="1.41" fill="#f0b836"/>
<rect x="200.67" y="170.92" width="1.41" height="1.41" fill="#f9fb14"/>
<rect x="200.67" y="172.12" width="1.41" height="1.41" fill="#f9fb14"/>
<rect x="200.67" y="173.33" width="1.41" height="1.41" fill="#69cf69"/>
<rect x="200.67" y="174.54" width="1.41" height="1.41" fill="#69cf69"/>
<rect x="200.67" y="175.75" width="1.41" height="1.41" fill="#69cf69"/>
<rect x="200.67" y="176.96" width="1.41" height="1.41" fill="#f0b836"/>
<rect x="200.67" y="178.17" width="1.41" height="1.41" fill="#69cf69"/>
<rect x="200.67" y="179.38" width="1.41" height="1.41" fill="#0db3cc"/>
<rect x="200.67" y="181.79" width="1.41" height="1.41" fill="#0db3cc"/>
<rect x="200.67" y="185.42" width="1.41" height="1.41" fill="#3c6bfc"/>
<rect x="200.67" y="202.33" width="1.41" height="1.41" fill="#3c6bfc"/>
<rect x="200.67" y="213.21" width="1.41" height="1.41" fill="#3c6bfc"/>
<rect x="201.88" y="168.50" width="1.41" height="1.41" fill="#f0b836"/>
<rect x="201.88" y="169.71" width="1.41" height="1.41" fill="#f0b836"/>
<rect x="201.88" y="170.92" width="1.41" height="1.41" fill="#f9fb14"/>
<rect x="201.88" y="172.12" width="1.41" height="1.41" fill="#f9fb14"/>
<rect x="201.88" y="173.33" width="1.41" height="1.41" fill="#f0b836"/>
<rect x="201.88" y="174.54" width="1.41" height="1.41" fill="#0db3cc"/>
<rect x="201.88" y="175.75" width="1.41" height="1.41" fill="#3c6bfc"/>
<rect x="201.88" y="176.96" width="1.41" height="1.41" fill="#3c6bfc"/>
<rect x="201.88" y="181.79" width="1.41" height="1.41" fill="#69cf69"/>
<rect x="201.88" y="186.62" width="1.41" height="1.41" fill="#3c6bfc"/>
<rect x="201.88" y="187.83" width="1.41" height="1.41" fill="#3c6bfc"/>
<rect x="201.88" y="207.17" width="1.41" height="1.41" fill="#3c6bfc"/>
<rect x="201.88" y="210.79" width="1.41" height="1.41" fill="#3c6bfc"/>
<rect x="201.88" y="219.25" width="1.41" height="1.41" fill="#3c6bfc"/>
<rect x="201.88" y="221.67" width="1.41" height="1.41" fill="#3c6bfc"/>
<rect x="203.08" y="168.50" width="1.41" height="1.41" fill="#f9fb14"/>
<rect x="203.08" y="169.71" width="1.41" height="1.41" fill="#f9fb14"/>
<rect x="203.08" y="170.92" width="1.41" height="1.41" fill="#69cf69"/>
<rect x="203.08" y="172.12" width="1.41" height="1.41" fill="#f0b836"/>
<rect x="203.08" y="173.33" width="1.41" height="1.41" fill="#0db3cc"/>
<rect x="203.08" y="174.54" width="1.41" height="1.41" fill="#0db3cc"/>
<rect x="203.08" y="175.75" width="1.41" height="1.41" fill="#0db3cc"/>
<rect x="203.08" y="176.96" width="1.41" height="1.41" fill="#0db3cc"/>
<rect x="203.08" y="178.17" width="1.41" height="1.41" fill="#3c6bfc"/>
<rect x="203.08" y="179.38" width="1.41" height="1.41" fill="#0db3cc"/>
<rect x="203.08" y="180.58" width="1.41" height="1.41" fill="#0db3cc"/>
<rect x="203.08" y="181.79" width="1.41" height="1.41" fill="#0db3cc"/>
<rect x="203.08" y="183.00" width="1.41" height="1.41" fill="#3c6bfc"/>
<rect x="203.08" y="187.83" width="1.41" height="1.41" fill="#3c6bfc"/>
<rect x="203.08" y="189.04" width="1.41" height="1.41" fill="#3c6bfc"/>
<rect x="203.08" y="195.08" width="1.41" height="1.41" fill="#3c6bfc"/>
<rect x="203.08" y="205.96" width="1.41" height="1.41" fill="#3c6bfc"/>
<rect x="203.08" y="214.42" width="1.41" height="1.41" fill="#3c6bfc"/>
<rect x="203.08" y="216.83" width="1.41" height="1.41" fill="#3c6bfc"/>
<rect x="204.29" y="168.50" width="1.41" height="1.41" fill="#f9fb14"/>
<rect x="204.29" y="169.71" width="1.41" height="1.41" fill="#f0b836"/>
<rect x="204.29" y="170.92" width="1.41" height="1.41" fill="#69cf69"/>
<rect x="204.29" y="172.12" width="1.41" height="1.41" fill="#69cf69"/>
<rect x="204.29" y="173.33" width="1.41" height="1.41" fill="#0db3cc"/>
<rect x="204.29" y="175.75" width="1.41" height="1.41" fill="#0db3cc"/>
<rect x="204.29" y="176.96" width="1.41" height="1.41" fill="#3c6bfc"/>
<rect x="204.29" y="178.17" width="1.41" height="1.41" fill="#3c6bfc"/>
<rect x="204.29" y="180.58" width="1.41" height="1.41" fill="#3c6bfc"/>
<rect x="204.29" y="185.42" width="1.41" height="1.41" fill="#3c6bfc"/>
<rect x="204.29" y="202.33" width="1.41" height="1.41" fill="#3c6bfc"/>
</g>
<line x1="147.50" y1="168.50" x2="147.50" y2="227.00" stroke="#222" stroke-width="1.0" />
<line x1="147.00" y1="226.50" x2="205.50" y2="226.50" stroke="#222" stroke-width="1.0" />
<line x1="176.50" y1="168.50" x2="176.50" y2="226.50" stroke="#111" stroke-width="1.0" />
<line x1="145.00" y1="197.50" x2="205.50" y2="197.50" stroke="#111" stroke-width="1.0" />
<line x1="145.00" y1="168.50" x2="147.50" y2="168.50" stroke="#222" stroke-width="0.8" />
<text x="141.70" y="171.10" font-size="7.3" text-anchor="end" font-weight="normal" fill="#1a1a1a"  stroke="#1a1a1a" stroke-width="0.22">2</text>
<line x1="145.00" y1="197.50" x2="147.50" y2="197.50" stroke="#222" stroke-width="0.8" />
<text x="141.70" y="200.10" font-size="7.3" text-anchor="end" font-weight="normal" fill="#1a1a1a"  stroke="#1a1a1a" stroke-width="0.22">0</text>
<line x1="145.00" y1="226.50" x2="147.50" y2="226.50" stroke="#222" stroke-width="0.8" />
<text x="141.70" y="229.10" font-size="7.3" text-anchor="end" font-weight="normal" fill="#1a1a1a"  stroke="#1a1a1a" stroke-width="0.22">−2</text>
<line x1="147.50" y1="226.50" x2="147.50" y2="229.00" stroke="#222" stroke-width="0.8" />
<text x="147.50" y="238.40" font-size="7.3" text-anchor="middle" font-weight="normal" fill="#1a1a1a"  stroke="#1a1a1a" stroke-width="0.22">−2</text>
<line x1="176.50" y1="226.50" x2="176.50" y2="229.00" stroke="#222" stroke-width="0.8" />
<text x="176.50" y="238.40" font-size="7.3" text-anchor="middle" font-weight="normal" fill="#1a1a1a"  stroke="#1a1a1a" stroke-width="0.22">0</text>
<line x1="205.50" y1="226.50" x2="205.50" y2="229.00" stroke="#222" stroke-width="0.8" />
<text x="205.50" y="238.40" font-size="7.3" text-anchor="middle" font-weight="normal" fill="#1a1a1a"  stroke="#1a1a1a" stroke-width="0.22">2</text>
<text x="176.50" y="252" font-size="9.2" text-anchor="middle" fill="#1a1a1a" stroke="#1a1a1a" stroke-width="0.22">Weight on <tspan font-weight="bold">CD</tspan><tspan font-weight="bold" font-size="6.3" dy="2.7">Delay</tspan></text>
<text x="176.50" y="264.50" font-size="9.2" text-anchor="middle" font-weight="normal" fill="#1a1a1a"  stroke="#1a1a1a" stroke-width="0.22">(context 1)</text>
<text transform="translate(113.80,197.50) rotate(-90)" font-size="9.2" text-anchor="middle" fill="#1a1a1a" stroke="#1a1a1a" stroke-width="0.22" >Weight on <tspan font-weight="bold">CD</tspan><tspan font-weight="bold" font-size="6.3" dy="2.7">Delay</tspan></text>
<text transform="translate(128.00,197.50) rotate(-90)" font-size="9.2" text-anchor="middle" fill="#1a1a1a" stroke="#1a1a1a" stroke-width="0.22" >(context 1′)</text>
<defs><linearGradient id="cb212" x1="0" y1="1" x2="0" y2="0"><stop offset="0.0" stop-color="#3e26a8"/><stop offset="0.05" stop-color="#4433ce"/><stop offset="0.1" stop-color="#4741ea"/><stop offset="0.15" stop-color="#4654fb"/><stop offset="0.2" stop-color="#3c6bfc"/><stop offset="0.25" stop-color="#2b82f5"/><stop offset="0.3" stop-color="#2497e6"/><stop offset="0.35" stop-color="#1ca6d9"/><stop offset="0.4" stop-color="#0db3cc"/><stop offset="0.45" stop-color="#05bdba"/><stop offset="0.5" stop-color="#24c4a0"/><stop offset="0.55" stop-color="#42cc87"/><stop offset="0.6" stop-color="#69cf69"/><stop offset="0.65" stop-color="#8fcc4f"/><stop offset="0.7" stop-color="#b3c43b"/><stop offset="0.75" stop-color="#d1bd33"/><stop offset="0.8" stop-color="#f0b836"/><stop offset="0.85" stop-color="#fcbf3b"/><stop offset="0.9" stop-color="#f7d429"/><stop offset="0.95" stop-color="#f5e81a"/><stop offset="1.0" stop-color="#f9fb14"/></linearGradient></defs>
<rect x="212.2" y="168.3" width="4.4" height="58.099999999999994" fill="url(#cb212)" stroke="#222" stroke-width="0.6"/>
<text x="221.00" y="172.80" font-size="7.3" text-anchor="start" font-weight="normal" fill="#1a1a1a"  stroke="#1a1a1a" stroke-width="0.22">&gt;5</text>
<text x="221.00" y="228.00" font-size="7.3" text-anchor="start" font-weight="normal" fill="#1a1a1a"  stroke="#1a1a1a" stroke-width="0.22">0</text>
<text transform="translate(239.00,197.40) rotate(-90)" font-size="9.2" text-anchor="middle" fill="#1a1a1a" stroke="#1a1a1a" stroke-width="0.22" >Unit number</text>
<rect x="303.40" y="223.30" width="2.37" height="2.20" fill="#f2f2f2" stroke="#555" stroke-width="0.55"/>
<rect x="316.70" y="223.30" width="2.37" height="2.20" fill="#f2f2f2" stroke="#555" stroke-width="0.55"/>
<rect x="319.20" y="223.30" width="2.37" height="2.20" fill="#f2f2f2" stroke="#555" stroke-width="0.55"/>
<rect x="329.50" y="223.20" width="2.37" height="2.30" fill="#f2f2f2" stroke="#555" stroke-width="0.55"/>
<rect x="331.90" y="215.40" width="2.37" height="10.10" fill="#f2f2f2" stroke="#555" stroke-width="0.55"/>
<rect x="334.20" y="212.20" width="2.37" height="13.30" fill="#f2f2f2" stroke="#555" stroke-width="0.55"/>
<rect x="336.60" y="212.20" width="2.37" height="13.30" fill="#f2f2f2" stroke="#555" stroke-width="0.55"/>
<rect x="339.00" y="177.80" width="2.37" height="47.70" fill="#f2f2f2" stroke="#555" stroke-width="0.55"/>
<rect x="341.30" y="188.30" width="2.37" height="37.20" fill="#f2f2f2" stroke="#555" stroke-width="0.55"/>
<line x1="279.00" y1="172.50" x2="279.00" y2="226.00" stroke="#222" stroke-width="1.0" />
<line x1="278.50" y1="225.50" x2="343.90" y2="225.50" stroke="#222" stroke-width="1.0" />
<line x1="276.50" y1="172.50" x2="279.00" y2="172.50" stroke="#222" stroke-width="0.8" />
<line x1="276.50" y1="225.50" x2="279.00" y2="225.50" stroke="#222" stroke-width="0.8" />
<text x="273.80" y="175.10" font-size="7.3" text-anchor="end" font-weight="normal" fill="#1a1a1a"  stroke="#1a1a1a" stroke-width="0.22">0.4</text>
<text x="273.80" y="228.10" font-size="7.3" text-anchor="end" font-weight="normal" fill="#1a1a1a"  stroke="#1a1a1a" stroke-width="0.22">0</text>
<line x1="279.00" y1="225.50" x2="279.00" y2="228.00" stroke="#222" stroke-width="0.8" />
<text x="279.00" y="237.20" font-size="7.3" text-anchor="middle" font-weight="normal" fill="#1a1a1a"  stroke="#1a1a1a" stroke-width="0.22">−1</text>
<line x1="311.15" y1="225.50" x2="311.15" y2="228.00" stroke="#222" stroke-width="0.8" />
<text x="311.15" y="237.20" font-size="7.3" text-anchor="middle" font-weight="normal" fill="#1a1a1a"  stroke="#1a1a1a" stroke-width="0.22">0</text>
<line x1="343.30" y1="225.50" x2="343.30" y2="228.00" stroke="#222" stroke-width="0.8" />
<text x="343.30" y="237.20" font-size="7.3" text-anchor="middle" font-weight="normal" fill="#1a1a1a"  stroke="#1a1a1a" stroke-width="0.22">1</text>
<text x="311.15" y="250.00" font-size="9.2" text-anchor="middle" font-weight="normal" fill="#1a1a1a"  stroke="#1a1a1a" stroke-width="0.22">Vector similarity</text>
<text transform="translate(260.00,199.00) rotate(-90)" font-size="9.2" text-anchor="middle" fill="#1a1a1a" stroke="#1a1a1a" stroke-width="0.22" >Probability</text>
<rect x="656.50" y="216.65" width="2.27" height="8.85" fill="#f2f2f2" stroke="#555" stroke-width="0.55"/>
<rect x="661.04" y="216.65" width="2.27" height="8.85" fill="#f2f2f2" stroke="#555" stroke-width="0.55"/>
<rect x="663.30" y="216.65" width="2.27" height="8.85" fill="#f2f2f2" stroke="#555" stroke-width="0.55"/>
<rect x="665.57" y="216.65" width="2.27" height="8.85" fill="#f2f2f2" stroke="#555" stroke-width="0.55"/>
<rect x="667.84" y="198.95" width="2.27" height="26.55" fill="#f2f2f2" stroke="#555" stroke-width="0.55"/>
<rect x="674.64" y="198.95" width="2.27" height="26.55" fill="#f2f2f2" stroke="#555" stroke-width="0.55"/>
<rect x="676.91" y="181.25" width="2.27" height="44.25" fill="#f2f2f2" stroke="#555" stroke-width="0.55"/>
<rect x="679.18" y="207.80" width="2.27" height="17.70" fill="#f2f2f2" stroke="#555" stroke-width="0.55"/>
<rect x="681.45" y="198.95" width="2.27" height="26.55" fill="#f2f2f2" stroke="#555" stroke-width="0.55"/>
<rect x="683.71" y="190.10" width="2.27" height="35.40" fill="#f2f2f2" stroke="#555" stroke-width="0.55"/>
<rect x="685.98" y="198.95" width="2.27" height="26.55" fill="#f2f2f2" stroke="#555" stroke-width="0.55"/>
<rect x="688.25" y="207.80" width="2.27" height="17.70" fill="#f2f2f2" stroke="#555" stroke-width="0.55"/>
<rect x="690.52" y="216.65" width="2.27" height="8.85" fill="#f2f2f2" stroke="#555" stroke-width="0.55"/>
<rect x="692.79" y="172.40" width="2.27" height="53.10" fill="#f2f2f2" stroke="#555" stroke-width="0.55"/>
<rect x="695.05" y="207.80" width="2.27" height="17.70" fill="#f2f2f2" stroke="#555" stroke-width="0.55"/>
<rect x="697.32" y="190.10" width="2.27" height="35.40" fill="#f2f2f2" stroke="#555" stroke-width="0.55"/>
<rect x="699.59" y="207.80" width="2.27" height="17.70" fill="#f2f2f2" stroke="#555" stroke-width="0.55"/>
<rect x="701.86" y="207.80" width="2.27" height="17.70" fill="#f2f2f2" stroke="#555" stroke-width="0.55"/>
<rect x="704.12" y="216.65" width="2.27" height="8.85" fill="#f2f2f2" stroke="#555" stroke-width="0.55"/>
<rect x="715.46" y="216.65" width="2.27" height="8.85" fill="#f2f2f2" stroke="#555" stroke-width="0.55"/>
<rect x="717.73" y="216.65" width="2.27" height="8.85" fill="#f2f2f2" stroke="#555" stroke-width="0.55"/>
<line x1="656.50" y1="172.40" x2="656.50" y2="226.00" stroke="#222" stroke-width="1.0" />
<line x1="656.00" y1="225.50" x2="720.50" y2="225.50" stroke="#222" stroke-width="1.0" />
<line x1="654.00" y1="181.50" x2="656.50" y2="181.50" stroke="#222" stroke-width="0.8" />
<line x1="654.00" y1="225.50" x2="656.50" y2="225.50" stroke="#222" stroke-width="0.8" />
<text x="649.20" y="184.10" font-size="7.3" text-anchor="end" font-weight="normal" fill="#1a1a1a"  stroke="#1a1a1a" stroke-width="0.22">0.1</text>
<text x="649.20" y="228.10" font-size="7.3" text-anchor="end" font-weight="normal" fill="#1a1a1a"  stroke="#1a1a1a" stroke-width="0.22">0</text>
<line x1="656.50" y1="225.50" x2="656.50" y2="228.00" stroke="#222" stroke-width="0.8" />
<text x="656.50" y="237.20" font-size="7.3" text-anchor="middle" font-weight="normal" fill="#1a1a1a"  stroke="#1a1a1a" stroke-width="0.22">−1</text>
<line x1="688.20" y1="225.50" x2="688.20" y2="228.00" stroke="#222" stroke-width="0.8" />
<text x="688.20" y="237.20" font-size="7.3" text-anchor="middle" font-weight="normal" fill="#1a1a1a"  stroke="#1a1a1a" stroke-width="0.22">0</text>
<line x1="719.90" y1="225.50" x2="719.90" y2="228.00" stroke="#222" stroke-width="0.8" />
<text x="719.90" y="237.20" font-size="7.3" text-anchor="middle" font-weight="normal" fill="#1a1a1a"  stroke="#1a1a1a" stroke-width="0.22">1</text>
<text x="687.00" y="250.00" font-size="9.2" text-anchor="middle" font-weight="normal" fill="#1a1a1a"  stroke="#1a1a1a" stroke-width="0.22">Vector similarity</text>
<text transform="translate(632.70,198.95) rotate(-90)" font-size="9.2" text-anchor="middle" fill="#1a1a1a" stroke="#1a1a1a" stroke-width="0.22" >Probability</text>
<text x="459.00" y="154.50" font-size="8.8" text-anchor="start" font-weight="normal" fill="#1a1a1a"  stroke="#1a1a1a" stroke-width="0.22">AFF model</text>
<g shape-rendering="crispEdges">
<rect x="405.50" y="180.19" width="1.42" height="1.42" fill="#3f29b0"/>
<rect x="405.50" y="181.41" width="1.42" height="1.42" fill="#3f29b0"/>
<rect x="405.50" y="186.28" width="1.42" height="1.42" fill="#3f29b0"/>
<rect x="406.72" y="170.44" width="1.42" height="1.42" fill="#3f29b0"/>
<rect x="406.72" y="174.09" width="1.42" height="1.42" fill="#402bb7"/>
<rect x="406.72" y="177.75" width="1.42" height="1.42" fill="#3f29b0"/>
<rect x="406.72" y="181.41" width="1.42" height="1.42" fill="#402bb7"/>
<rect x="406.72" y="182.62" width="1.42" height="1.42" fill="#3f29b0"/>
<rect x="406.72" y="186.28" width="1.42" height="1.42" fill="#3f29b0"/>
<rect x="406.72" y="194.81" width="1.42" height="1.42" fill="#3f29b0"/>
<rect x="406.72" y="196.03" width="1.42" height="1.42" fill="#3f29b0"/>
<rect x="407.94" y="169.22" width="1.42" height="1.42" fill="#3f29b0"/>
<rect x="407.94" y="180.19" width="1.42" height="1.42" fill="#3f29b0"/>
<rect x="407.94" y="181.41" width="1.42" height="1.42" fill="#3f29b0"/>
<rect x="407.94" y="182.62" width="1.42" height="1.42" fill="#3f29b0"/>
<rect x="407.94" y="186.28" width="1.42" height="1.42" fill="#402bb7"/>
<rect x="409.16" y="172.88" width="1.42" height="1.42" fill="#3f29b0"/>
<rect x="409.16" y="175.31" width="1.42" height="1.42" fill="#3f29b0"/>
<rect x="409.16" y="176.53" width="1.42" height="1.42" fill="#3f29b0"/>
<rect x="409.16" y="180.19" width="1.42" height="1.42" fill="#3f29b0"/>
<rect x="409.16" y="182.62" width="1.42" height="1.42" fill="#3f29b0"/>
<rect x="409.16" y="183.84" width="1.42" height="1.42" fill="#3f29b0"/>
<rect x="409.16" y="187.50" width="1.42" height="1.42" fill="#422ebf"/>
<rect x="409.16" y="188.72" width="1.42" height="1.42" fill="#402bb7"/>
<rect x="409.16" y="189.94" width="1.42" height="1.42" fill="#402bb7"/>
<rect x="410.38" y="171.66" width="1.42" height="1.42" fill="#3f29b0"/>
<rect x="410.38" y="172.88" width="1.42" height="1.42" fill="#402bb7"/>
<rect x="410.38" y="174.09" width="1.42" height="1.42" fill="#3f29b0"/>
<rect x="410.38" y="175.31" width="1.42" height="1.42" fill="#3f29b0"/>
<rect x="410.38" y="180.19" width="1.42" height="1.42" fill="#3f29b0"/>
<rect x="410.38" y="181.41" width="1.42" height="1.42" fill="#402bb7"/>
<rect x="410.38" y="187.50" width="1.42" height="1.42" fill="#402bb7"/>
<rect x="410.38" y="188.72" width="1.42" height="1.42" fill="#3f29b0"/>
<rect x="410.38" y="192.38" width="1.42" height="1.42" fill="#3f29b0"/>
<rect x="411.59" y="169.22" width="1.42" height="1.42" fill="#3f29b0"/>
<rect x="411.59" y="171.66" width="1.42" height="1.42" fill="#3f29b0"/>
<rect x="411.59" y="176.53" width="1.42" height="1.42" fill="#422ebf"/>
<rect x="411.59" y="177.75" width="1.42" height="1.42" fill="#402bb7"/>
<rect x="411.59" y="180.19" width="1.42" height="1.42" fill="#3f29b0"/>
<rect x="411.59" y="182.62" width="1.42" height="1.42" fill="#3f29b0"/>
<rect x="411.59" y="186.28" width="1.42" height="1.42" fill="#402bb7"/>
<rect x="411.59" y="187.50" width="1.42" height="1.42" fill="#3f29b0"/>
<rect x="411.59" y="188.72" width="1.42" height="1.42" fill="#4536d4"/>
<rect x="411.59" y="189.94" width="1.42" height="1.42" fill="#422ebf"/>
<rect x="411.59" y="191.16" width="1.42" height="1.42" fill="#402bb7"/>
<rect x="411.59" y="192.38" width="1.42" height="1.42" fill="#3f29b0"/>
<rect x="411.59" y="193.59" width="1.42" height="1.42" fill="#3f29b0"/>
<rect x="411.59" y="198.47" width="1.42" height="1.42" fill="#3f29b0"/>
<rect x="412.81" y="174.09" width="1.42" height="1.42" fill="#3f29b0"/>
<rect x="412.81" y="176.53" width="1.42" height="1.42" fill="#402bb7"/>
<rect x="412.81" y="177.75" width="1.42" height="1.42" fill="#422ebf"/>
<rect x="412.81" y="178.97" width="1.42" height="1.42" fill="#3f29b0"/>
<rect x="412.81" y="181.41" width="1.42" height="1.42" fill="#402bb7"/>
<rect x="412.81" y="182.62" width="1.42" height="1.42" fill="#422ebf"/>
<rect x="412.81" y="183.84" width="1.42" height="1.42" fill="#4536d4"/>
<rect x="412.81" y="185.06" width="1.42" height="1.42" fill="#4536d4"/>
<rect x="412.81" y="186.28" width="1.42" height="1.42" fill="#402bb7"/>
<rect x="412.81" y="187.50" width="1.42" height="1.42" fill="#4330c6"/>
<rect x="412.81" y="188.72" width="1.42" height="1.42" fill="#3f29b0"/>
<rect x="412.81" y="189.94" width="1.42" height="1.42" fill="#4433ce"/>
<rect x="412.81" y="191.16" width="1.42" height="1.42" fill="#402bb7"/>
<rect x="412.81" y="193.59" width="1.42" height="1.42" fill="#402bb7"/>
<rect x="412.81" y="194.81" width="1.42" height="1.42" fill="#402bb7"/>
<rect x="412.81" y="202.12" width="1.42" height="1.42" fill="#3f29b0"/>
<rect x="414.03" y="174.09" width="1.42" height="1.42" fill="#402bb7"/>
<rect x="414.03" y="176.53" width="1.42" height="1.42" fill="#402bb7"/>
<rect x="414.03" y="177.75" width="1.42" height="1.42" fill="#402bb7"/>
<rect x="414.03" y="178.97" width="1.42" height="1.42" fill="#402bb7"/>
<rect x="414.03" y="180.19" width="1.42" height="1.42" fill="#4433ce"/>
<rect x="414.03" y="181.41" width="1.42" height="1.42" fill="#3f29b0"/>
<rect x="414.03" y="182.62" width="1.42" height="1.42" fill="#4433ce"/>
<rect x="414.03" y="183.84" width="1.42" height="1.42" fill="#402bb7"/>
<rect x="414.03" y="185.06" width="1.42" height="1.42" fill="#4330c6"/>
<rect x="414.03" y="186.28" width="1.42" height="1.42" fill="#4433ce"/>
<rect x="414.03" y="187.50" width="1.42" height="1.42" fill="#402bb7"/>
<rect x="414.03" y="188.72" width="1.42" height="1.42" fill="#4330c6"/>
<rect x="414.03" y="189.94" width="1.42" height="1.42" fill="#4433ce"/>
<rect x="414.03" y="191.16" width="1.42" height="1.42" fill="#422ebf"/>
<rect x="414.03" y="192.38" width="1.42" height="1.42" fill="#402bb7"/>
<rect x="414.03" y="193.59" width="1.42" height="1.42" fill="#4536d4"/>
<rect x="414.03" y="194.81" width="1.42" height="1.42" fill="#4330c6"/>
<rect x="414.03" y="196.03" width="1.42" height="1.42" fill="#402bb7"/>
<rect x="414.03" y="197.25" width="1.42" height="1.42" fill="#402bb7"/>
<rect x="414.03" y="198.47" width="1.42" height="1.42" fill="#3f29b0"/>
<rect x="415.25" y="168.00" width="1.42" height="1.42" fill="#3f29b0"/>
<rect x="415.25" y="169.22" width="1.42" height="1.42" fill="#3f29b0"/>
<rect x="415.25" y="170.44" width="1.42" height="1.42" fill="#3f29b0"/>
<rect x="415.25" y="171.66" width="1.42" height="1.42" fill="#422ebf"/>
<rect x="415.25" y="172.88" width="1.42" height="1.42" fill="#3f29b0"/>
<rect x="415.25" y="177.75" width="1.42" height="1.42" fill="#3f29b0"/>
<rect x="415.25" y="178.97" width="1.42" height="1.42" fill="#4433ce"/>
<rect x="415.25" y="180.19" width="1.42" height="1.42" fill="#4433ce"/>
<rect x="415.25" y="181.41" width="1.42" height="1.42" fill="#4330c6"/>
<rect x="415.25" y="183.84" width="1.42" height="1.42" fill="#4330c6"/>
<rect x="415.25" y="185.06" width="1.42" height="1.42" fill="#422ebf"/>
<rect x="415.25" y="186.28" width="1.42" height="1.42" fill="#402bb7"/>
<rect x="415.25" y="187.50" width="1.42" height="1.42" fill="#402bb7"/>
<rect x="415.25" y="188.72" width="1.42" height="1.42" fill="#4433ce"/>
<rect x="415.25" y="189.94" width="1.42" height="1.42" fill="#422ebf"/>
<rect x="415.25" y="191.16" width="1.42" height="1.42" fill="#4330c6"/>
<rect x="415.25" y="192.38" width="1.42" height="1.42" fill="#4330c6"/>
<rect x="415.25" y="193.59" width="1.42" height="1.42" fill="#4433ce"/>
<rect x="415.25" y="194.81" width="1.42" height="1.42" fill="#402bb7"/>
<rect x="415.25" y="196.03" width="1.42" height="1.42" fill="#402bb7"/>
<rect x="415.25" y="204.56" width="1.42" height="1.42" fill="#3f29b0"/>
<rect x="415.25" y="205.78" width="1.42" height="1.42" fill="#3f29b0"/>
<rect x="416.47" y="170.44" width="1.42" height="1.42" fill="#3f29b0"/>
<rect x="416.47" y="171.66" width="1.42" height="1.42" fill="#3f29b0"/>
<rect x="416.47" y="172.88" width="1.42" height="1.42" fill="#3f29b0"/>
<rect x="416.47" y="174.09" width="1.42" height="1.42" fill="#402bb7"/>
<rect x="416.47" y="175.31" width="1.42" height="1.42" fill="#3f29b0"/>
<rect x="416.47" y="176.53" width="1.42" height="1.42" fill="#422ebf"/>
<rect x="416.47" y="177.75" width="1.42" height="1.42" fill="#402bb7"/>
<rect x="416.47" y="178.97" width="1.42" height="1.42" fill="#4330c6"/>
<rect x="416.47" y="180.19" width="1.42" height="1.42" fill="#463ee4"/>
<rect x="416.47" y="181.41" width="1.42" height="1.42" fill="#4330c6"/>
<rect x="416.47" y="182.62" width="1.42" height="1.42" fill="#422ebf"/>
<rect x="416.47" y="183.84" width="1.42" height="1.42" fill="#4330c6"/>
<rect x="416.47" y="185.06" width="1.42" height="1.42" fill="#4741ea"/>
<rect x="416.47" y="186.28" width="1.42" height="1.42" fill="#4536d4"/>
<rect x="416.47" y="187.50" width="1.42" height="1.42" fill="#4749f1"/>
<rect x="416.47" y="188.72" width="1.42" height="1.42" fill="#463bdf"/>
<rect x="416.47" y="189.94" width="1.42" height="1.42" fill="#4741ea"/>
<rect x="416.47" y="191.16" width="1.42" height="1.42" fill="#4062fc"/>
<rect x="416.47" y="192.38" width="1.42" height="1.42" fill="#4539d9"/>
<rect x="416.47" y="193.59" width="1.42" height="1.42" fill="#4539d9"/>
<rect x="416.47" y="194.81" width="1.42" height="1.42" fill="#422ebf"/>
<rect x="416.47" y="196.03" width="1.42" height="1.42" fill="#463bdf"/>
<rect x="416.47" y="197.25" width="1.42" height="1.42" fill="#4433ce"/>
<rect x="416.47" y="198.47" width="1.42" height="1.42" fill="#422ebf"/>
<rect x="416.47" y="199.69" width="1.42" height="1.42" fill="#3f29b0"/>
<rect x="416.47" y="202.12" width="1.42" height="1.42" fill="#3f29b0"/>
<rect x="416.47" y="209.44" width="1.42" height="1.42" fill="#3f29b0"/>
<rect x="416.47" y="210.66" width="1.42" height="1.42" fill="#3f29b0"/>
<rect x="417.69" y="170.44" width="1.42" height="1.42" fill="#3f29b0"/>
<rect x="417.69" y="171.66" width="1.42" height="1.42" fill="#402bb7"/>
<rect x="417.69" y="174.09" width="1.42" height="1.42" fill="#4330c6"/>
<rect x="417.69" y="175.31" width="1.42" height="1.42" fill="#3f29b0"/>
<rect x="417.69" y="177.75" width="1.42" height="1.42" fill="#463ee4"/>
<rect x="417.69" y="178.97" width="1.42" height="1.42" fill="#4433ce"/>
<rect x="417.69" y="180.19" width="1.42" height="1.42" fill="#4539d9"/>
<rect x="417.69" y="181.41" width="1.42" height="1.42" fill="#463ee4"/>
<rect x="417.69" y="182.62" width="1.42" height="1.42" fill="#4745ed"/>
<rect x="417.69" y="183.84" width="1.42" height="1.42" fill="#4741ea"/>
<rect x="417.69" y="185.06" width="1.42" height="1.42" fill="#4741ea"/>
<rect x="417.69" y="186.28" width="1.42" height="1.42" fill="#463bdf"/>
<rect x="417.69" y="187.50" width="1.42" height="1.42" fill="#4745ed"/>
<rect x="417.69" y="188.72" width="1.42" height="1.42" fill="#4745ed"/>
<rect x="417.69" y="189.94" width="1.42" height="1.42" fill="#4650f8"/>
<rect x="417.69" y="191.16" width="1.42" height="1.42" fill="#4062fc"/>
<rect x="417.69" y="192.38" width="1.42" height="1.42" fill="#4745ed"/>
<rect x="417.69" y="193.59" width="1.42" height="1.42" fill="#463ee4"/>
<rect x="417.69" y="194.81" width="1.42" height="1.42" fill="#464cf4"/>
<rect x="417.69" y="196.03" width="1.42" height="1.42" fill="#4741ea"/>
<rect x="417.69" y="197.25" width="1.42" height="1.42" fill="#4539d9"/>
<rect x="417.69" y="198.47" width="1.42" height="1.42" fill="#4539d9"/>
<rect x="417.69" y="199.69" width="1.42" height="1.42" fill="#4433ce"/>
<rect x="417.69" y="200.91" width="1.42" height="1.42" fill="#3f29b0"/>
<rect x="417.69" y="202.12" width="1.42" height="1.42" fill="#3f29b0"/>
<rect x="418.91" y="169.22" width="1.42" height="1.42" fill="#3f29b0"/>
<rect x="418.91" y="172.88" width="1.42" height="1.42" fill="#3f29b0"/>
<rect x="418.91" y="174.09" width="1.42" height="1.42" fill="#3f29b0"/>
<rect x="418.91" y="175.31" width="1.42" height="1.42" fill="#402bb7"/>
<rect x="418.91" y="176.53" width="1.42" height="1.42" fill="#4330c6"/>
<rect x="418.91" y="177.75" width="1.42" height="1.42" fill="#4536d4"/>
<rect x="418.91" y="178.97" width="1.42" height="1.42" fill="#402bb7"/>
<rect x="418.91" y="180.19" width="1.42" height="1.42" fill="#463bdf"/>
<rect x="418.91" y="181.41" width="1.42" height="1.42" fill="#4536d4"/>
<rect x="418.91" y="182.62" width="1.42" height="1.42" fill="#464cf4"/>
<rect x="418.91" y="183.84" width="1.42" height="1.42" fill="#464cf4"/>
<rect x="418.91" y="185.06" width="1.42" height="1.42" fill="#4745ed"/>
<rect x="418.91" y="186.28" width="1.42" height="1.42" fill="#4650f8"/>
<rect x="418.91" y="187.50" width="1.42" height="1.42" fill="#2e7df6"/>
<rect x="418.91" y="188.72" width="1.42" height="1.42" fill="#3574f9"/>
<rect x="418.91" y="189.94" width="1.42" height="1.42" fill="#3e66fc"/>
<rect x="418.91" y="191.16" width="1.42" height="1.42" fill="#4062fc"/>
<rect x="418.91" y="192.38" width="1.42" height="1.42" fill="#3574f9"/>
<rect x="418.91" y="193.59" width="1.42" height="1.42" fill="#3c6bfc"/>
<rect x="418.91" y="194.81" width="1.42" height="1.42" fill="#425dfb"/>
<rect x="418.91" y="196.03" width="1.42" height="1.42" fill="#463ee4"/>
<rect x="418.91" y="197.25" width="1.42" height="1.42" fill="#4539d9"/>
<rect x="418.91" y="198.47" width="1.42" height="1.42" fill="#4741ea"/>
<rect x="418.91" y="199.69" width="1.42" height="1.42" fill="#4330c6"/>
<rect x="418.91" y="200.91" width="1.42" height="1.42" fill="#402bb7"/>
<rect x="418.91" y="203.34" width="1.42" height="1.42" fill="#3f29b0"/>
<rect x="418.91" y="204.56" width="1.42" height="1.42" fill="#3f29b0"/>
<rect x="418.91" y="205.78" width="1.42" height="1.42" fill="#3f29b0"/>
<rect x="420.12" y="169.22" width="1.42" height="1.42" fill="#3f29b0"/>
<rect x="420.12" y="171.66" width="1.42" height="1.42" fill="#3f29b0"/>
<rect x="420.12" y="172.88" width="1.42" height="1.42" fill="#402bb7"/>
<rect x="420.12" y="174.09" width="1.42" height="1.42" fill="#3f29b0"/>
<rect x="420.12" y="175.31" width="1.42" height="1.42" fill="#422ebf"/>
<rect x="420.12" y="176.53" width="1.42" height="1.42" fill="#4330c6"/>
<rect x="420.12" y="177.75" width="1.42" height="1.42" fill="#422ebf"/>
<rect x="420.12" y="178.97" width="1.42" height="1.42" fill="#422ebf"/>
<rect x="420.12" y="180.19" width="1.42" height="1.42" fill="#463ee4"/>
<rect x="420.12" y="181.41" width="1.42" height="1.42" fill="#463ee4"/>
<rect x="420.12" y="182.62" width="1.42" height="1.42" fill="#4749f1"/>
<rect x="420.12" y="183.84" width="1.42" height="1.42" fill="#464cf4"/>
<rect x="420.12" y="185.06" width="1.42" height="1.42" fill="#3c6bfc"/>
<rect x="420.12" y="186.28" width="1.42" height="1.42" fill="#2e7df6"/>
<rect x="420.12" y="187.50" width="1.42" height="1.42" fill="#2a86f2"/>
<rect x="420.12" y="188.72" width="1.42" height="1.42" fill="#2b82f5"/>
<rect x="420.12" y="189.94" width="1.42" height="1.42" fill="#2b82f5"/>
<rect x="420.12" y="191.16" width="1.42" height="1.42" fill="#219de1"/>
<rect x="420.12" y="192.38" width="1.42" height="1.42" fill="#3574f9"/>
<rect x="420.12" y="193.59" width="1.42" height="1.42" fill="#2593e9"/>
<rect x="420.12" y="194.81" width="1.42" height="1.42" fill="#2a86f2"/>
<rect x="420.12" y="196.03" width="1.42" height="1.42" fill="#4650f8"/>
<rect x="420.12" y="197.25" width="1.42" height="1.42" fill="#4749f1"/>
<rect x="420.12" y="198.47" width="1.42" height="1.42" fill="#463bdf"/>
<rect x="420.12" y="199.69" width="1.42" height="1.42" fill="#463ee4"/>
<rect x="420.12" y="200.91" width="1.42" height="1.42" fill="#463ee4"/>
<rect x="420.12" y="202.12" width="1.42" height="1.42" fill="#402bb7"/>
<rect x="420.12" y="203.34" width="1.42" height="1.42" fill="#402bb7"/>
<rect x="420.12" y="204.56" width="1.42" height="1.42" fill="#422ebf"/>
<rect x="420.12" y="205.78" width="1.42" height="1.42" fill="#3f29b0"/>
<rect x="421.34" y="168.00" width="1.42" height="1.42" fill="#3f29b0"/>
<rect x="421.34" y="172.88" width="1.42" height="1.42" fill="#3f29b0"/>
<rect x="421.34" y="174.09" width="1.42" height="1.42" fill="#4433ce"/>
<rect x="421.34" y="175.31" width="1.42" height="1.42" fill="#4433ce"/>
<rect x="421.34" y="176.53" width="1.42" height="1.42" fill="#4433ce"/>
<rect x="421.34" y="177.75" width="1.42" height="1.42" fill="#463bdf"/>
<rect x="421.34" y="178.97" width="1.42" height="1.42" fill="#4745ed"/>
<rect x="421.34" y="180.19" width="1.42" height="1.42" fill="#4749f1"/>
<rect x="421.34" y="181.41" width="1.42" height="1.42" fill="#4459fb"/>
<rect x="421.34" y="182.62" width="1.42" height="1.42" fill="#464cf4"/>
<rect x="421.34" y="183.84" width="1.42" height="1.42" fill="#4062fc"/>
<rect x="421.34" y="185.06" width="1.42" height="1.42" fill="#3574f9"/>
<rect x="421.34" y="186.28" width="1.42" height="1.42" fill="#288aef"/>
<rect x="421.34" y="187.50" width="1.42" height="1.42" fill="#1ea3dc"/>
<rect x="421.34" y="188.72" width="1.42" height="1.42" fill="#19a9d6"/>
<rect x="421.34" y="189.94" width="1.42" height="1.42" fill="#1ea3dc"/>
<rect x="421.34" y="191.16" width="1.42" height="1.42" fill="#10b0cf"/>
<rect x="421.34" y="192.38" width="1.42" height="1.42" fill="#05bdba"/>
<rect x="421.34" y="193.59" width="1.42" height="1.42" fill="#1ea3dc"/>
<rect x="421.34" y="194.81" width="1.42" height="1.42" fill="#229ae3"/>
<rect x="421.34" y="196.03" width="1.42" height="1.42" fill="#2593e9"/>
<rect x="421.34" y="197.25" width="1.42" height="1.42" fill="#3574f9"/>
<rect x="421.34" y="198.47" width="1.42" height="1.42" fill="#2e7df6"/>
<rect x="421.34" y="199.69" width="1.42" height="1.42" fill="#3e66fc"/>
<rect x="421.34" y="200.91" width="1.42" height="1.42" fill="#4539d9"/>
<rect x="421.34" y="202.12" width="1.42" height="1.42" fill="#463bdf"/>
<rect x="421.34" y="203.34" width="1.42" height="1.42" fill="#402bb7"/>
<rect x="421.34" y="204.56" width="1.42" height="1.42" fill="#422ebf"/>
<rect x="421.34" y="205.78" width="1.42" height="1.42" fill="#402bb7"/>
<rect x="421.34" y="208.22" width="1.42" height="1.42" fill="#3f29b0"/>
<rect x="422.56" y="171.66" width="1.42" height="1.42" fill="#3f29b0"/>
<rect x="422.56" y="172.88" width="1.42" height="1.42" fill="#402bb7"/>
<rect x="422.56" y="174.09" width="1.42" height="1.42" fill="#402bb7"/>
<rect x="422.56" y="175.31" width="1.42" height="1.42" fill="#402bb7"/>
<rect x="422.56" y="176.53" width="1.42" height="1.42" fill="#3f29b0"/>
<rect x="422.56" y="177.75" width="1.42" height="1.42" fill="#4536d4"/>
<rect x="422.56" y="178.97" width="1.42" height="1.42" fill="#4433ce"/>
<rect x="422.56" y="180.19" width="1.42" height="1.42" fill="#4650f8"/>
<rect x="422.56" y="181.41" width="1.42" height="1.42" fill="#464cf4"/>
<rect x="422.56" y="182.62" width="1.42" height="1.42" fill="#3c6bfc"/>
<rect x="422.56" y="183.84" width="1.42" height="1.42" fill="#3279f8"/>
<rect x="422.56" y="185.06" width="1.42" height="1.42" fill="#278fec"/>
<rect x="422.56" y="186.28" width="1.42" height="1.42" fill="#3970fb"/>
<rect x="422.56" y="187.50" width="1.42" height="1.42" fill="#0db3cc"/>
<rect x="422.56" y="188.72" width="1.42" height="1.42" fill="#0bbeb5"/>
<rect x="422.56" y="189.94" width="1.42" height="1.42" fill="#19a9d6"/>
<rect x="422.56" y="191.16" width="1.42" height="1.42" fill="#52cd7b"/>
<rect x="422.56" y="192.38" width="1.42" height="1.42" fill="#24c4a0"/>
<rect x="422.56" y="193.59" width="1.42" height="1.42" fill="#42cc87"/>
<rect x="422.56" y="194.81" width="1.42" height="1.42" fill="#05bdba"/>
<rect x="422.56" y="196.03" width="1.42" height="1.42" fill="#19a9d6"/>
<rect x="422.56" y="197.25" width="1.42" height="1.42" fill="#10b0cf"/>
<rect x="422.56" y="198.47" width="1.42" height="1.42" fill="#3c6bfc"/>
<rect x="422.56" y="199.69" width="1.42" height="1.42" fill="#3c6bfc"/>
<rect x="422.56" y="200.91" width="1.42" height="1.42" fill="#4749f1"/>
<rect x="422.56" y="202.12" width="1.42" height="1.42" fill="#4539d9"/>
<rect x="422.56" y="203.34" width="1.42" height="1.42" fill="#4536d4"/>
<rect x="422.56" y="204.56" width="1.42" height="1.42" fill="#402bb7"/>
<rect x="422.56" y="205.78" width="1.42" height="1.42" fill="#4330c6"/>
<rect x="422.56" y="207.00" width="1.42" height="1.42" fill="#3f29b0"/>
<rect x="423.78" y="172.88" width="1.42" height="1.42" fill="#3f29b0"/>
<rect x="423.78" y="174.09" width="1.42" height="1.42" fill="#402bb7"/>
<rect x="423.78" y="175.31" width="1.42" height="1.42" fill="#402bb7"/>
<rect x="423.78" y="176.53" width="1.42" height="1.42" fill="#4745ed"/>
<rect x="423.78" y="177.75" width="1.42" height="1.42" fill="#4741ea"/>
<rect x="423.78" y="178.97" width="1.42" height="1.42" fill="#463ee4"/>
<rect x="423.78" y="180.19" width="1.42" height="1.42" fill="#463ee4"/>
<rect x="423.78" y="181.41" width="1.42" height="1.42" fill="#4741ea"/>
<rect x="423.78" y="182.62" width="1.42" height="1.42" fill="#288aef"/>
<rect x="423.78" y="183.84" width="1.42" height="1.42" fill="#2e7df6"/>
<rect x="423.78" y="185.06" width="1.42" height="1.42" fill="#1ea3dc"/>
<rect x="423.78" y="186.28" width="1.42" height="1.42" fill="#16abd4"/>
<rect x="423.78" y="187.50" width="1.42" height="1.42" fill="#4acd81"/>
<rect x="423.78" y="188.72" width="1.42" height="1.42" fill="#0ab7c5"/>
<rect x="423.78" y="189.94" width="1.42" height="1.42" fill="#36c991"/>
<rect x="423.78" y="191.16" width="1.42" height="1.42" fill="#c5c036"/>
<rect x="423.78" y="192.38" width="1.42" height="1.42" fill="#b9c339"/>
<rect x="423.78" y="193.59" width="1.42" height="1.42" fill="#f5bb38"/>
<rect x="423.78" y="194.81" width="1.42" height="1.42" fill="#a5c743"/>
<rect x="423.78" y="196.03" width="1.42" height="1.42" fill="#07bbbe"/>
<rect x="423.78" y="197.25" width="1.42" height="1.42" fill="#1ca6d9"/>
<rect x="423.78" y="198.47" width="1.42" height="1.42" fill="#1fa0de"/>
<rect x="423.78" y="199.69" width="1.42" height="1.42" fill="#2593e9"/>
<rect x="423.78" y="200.91" width="1.42" height="1.42" fill="#4062fc"/>
<rect x="423.78" y="202.12" width="1.42" height="1.42" fill="#463ee4"/>
<rect x="423.78" y="203.34" width="1.42" height="1.42" fill="#4745ed"/>
<rect x="423.78" y="204.56" width="1.42" height="1.42" fill="#4330c6"/>
<rect x="423.78" y="205.78" width="1.42" height="1.42" fill="#4433ce"/>
<rect x="423.78" y="207.00" width="1.42" height="1.42" fill="#4536d4"/>
<rect x="423.78" y="208.22" width="1.42" height="1.42" fill="#3f29b0"/>
<rect x="423.78" y="209.44" width="1.42" height="1.42" fill="#402bb7"/>
<rect x="425.00" y="169.22" width="1.42" height="1.42" fill="#3f29b0"/>
<rect x="425.00" y="172.88" width="1.42" height="1.42" fill="#3f29b0"/>
<rect x="425.00" y="174.09" width="1.42" height="1.42" fill="#422ebf"/>
<rect x="425.00" y="175.31" width="1.42" height="1.42" fill="#463bdf"/>
<rect x="425.00" y="176.53" width="1.42" height="1.42" fill="#4539d9"/>
<rect x="425.00" y="177.75" width="1.42" height="1.42" fill="#422ebf"/>
<rect x="425.00" y="178.97" width="1.42" height="1.42" fill="#4536d4"/>
<rect x="425.00" y="180.19" width="1.42" height="1.42" fill="#4650f8"/>
<rect x="425.00" y="181.41" width="1.42" height="1.42" fill="#3e66fc"/>
<rect x="425.00" y="182.62" width="1.42" height="1.42" fill="#3279f8"/>
<rect x="425.00" y="183.84" width="1.42" height="1.42" fill="#278fec"/>
<rect x="425.00" y="185.06" width="1.42" height="1.42" fill="#10b0cf"/>
<rect x="425.00" y="186.28" width="1.42" height="1.42" fill="#36c991"/>
<rect x="425.00" y="187.50" width="1.42" height="1.42" fill="#8fcc4f"/>
<rect x="425.00" y="188.72" width="1.42" height="1.42" fill="#a5c743"/>
<rect x="425.00" y="189.94" width="1.42" height="1.42" fill="#d7bc34"/>
<rect x="425.00" y="191.16" width="1.42" height="1.42" fill="#c5c036"/>
<rect x="425.00" y="192.38" width="1.42" height="1.42" fill="#f7d429"/>
<rect x="425.00" y="193.59" width="1.42" height="1.42" fill="#bfc138"/>
<rect x="425.00" y="194.81" width="1.42" height="1.42" fill="#fbc337"/>
<rect x="425.00" y="196.03" width="1.42" height="1.42" fill="#b3c43b"/>
<rect x="425.00" y="197.25" width="1.42" height="1.42" fill="#24c4a0"/>
<rect x="425.00" y="198.47" width="1.42" height="1.42" fill="#08b9c1"/>
<rect x="425.00" y="199.69" width="1.42" height="1.42" fill="#3574f9"/>
<rect x="425.00" y="200.91" width="1.42" height="1.42" fill="#2593e9"/>
<rect x="425.00" y="202.12" width="1.42" height="1.42" fill="#3e66fc"/>
<rect x="425.00" y="203.34" width="1.42" height="1.42" fill="#4741ea"/>
<rect x="425.00" y="204.56" width="1.42" height="1.42" fill="#4741ea"/>
<rect x="425.00" y="205.78" width="1.42" height="1.42" fill="#4330c6"/>
<rect x="425.00" y="207.00" width="1.42" height="1.42" fill="#3f29b0"/>
<rect x="425.00" y="208.22" width="1.42" height="1.42" fill="#422ebf"/>
<rect x="425.00" y="209.44" width="1.42" height="1.42" fill="#402bb7"/>
<rect x="425.00" y="210.66" width="1.42" height="1.42" fill="#3f29b0"/>
<rect x="426.22" y="169.22" width="1.42" height="1.42" fill="#3f29b0"/>
<rect x="426.22" y="170.44" width="1.42" height="1.42" fill="#402bb7"/>
<rect x="426.22" y="174.09" width="1.42" height="1.42" fill="#4433ce"/>
<rect x="426.22" y="175.31" width="1.42" height="1.42" fill="#402bb7"/>
<rect x="426.22" y="176.53" width="1.42" height="1.42" fill="#4536d4"/>
<rect x="426.22" y="177.75" width="1.42" height="1.42" fill="#4433ce"/>
<rect x="426.22" y="178.97" width="1.42" height="1.42" fill="#4745ed"/>
<rect x="426.22" y="180.19" width="1.42" height="1.42" fill="#4749f1"/>
<rect x="426.22" y="181.41" width="1.42" height="1.42" fill="#4062fc"/>
<rect x="426.22" y="182.62" width="1.42" height="1.42" fill="#425dfb"/>
<rect x="426.22" y="183.84" width="1.42" height="1.42" fill="#19a9d6"/>
<rect x="426.22" y="185.06" width="1.42" height="1.42" fill="#18c1aa"/>
<rect x="426.22" y="186.28" width="1.42" height="1.42" fill="#30c796"/>
<rect x="426.22" y="187.50" width="1.42" height="1.42" fill="#b3c43b"/>
<rect x="426.22" y="188.72" width="1.42" height="1.42" fill="#78ce5f"/>
<rect x="426.22" y="189.94" width="1.42" height="1.42" fill="#fcbf3b"/>
<rect x="426.22" y="191.16" width="1.42" height="1.42" fill="#f7f018"/>
<rect x="426.22" y="192.38" width="1.42" height="1.42" fill="#eab935"/>
<rect x="426.22" y="193.59" width="1.42" height="1.42" fill="#f9fb14"/>
<rect x="426.22" y="194.81" width="1.42" height="1.42" fill="#f9fb14"/>
<rect x="426.22" y="196.03" width="1.42" height="1.42" fill="#f5bb38"/>
<rect x="426.22" y="197.25" width="1.42" height="1.42" fill="#fbc337"/>
<rect x="426.22" y="198.47" width="1.42" height="1.42" fill="#0bb5c8"/>
<rect x="426.22" y="199.69" width="1.42" height="1.42" fill="#0db3cc"/>
<rect x="426.22" y="200.91" width="1.42" height="1.42" fill="#2e7df6"/>
<rect x="426.22" y="202.12" width="1.42" height="1.42" fill="#2e7df6"/>
<rect x="426.22" y="203.34" width="1.42" height="1.42" fill="#4741ea"/>
<rect x="426.22" y="204.56" width="1.42" height="1.42" fill="#4330c6"/>
<rect x="426.22" y="205.78" width="1.42" height="1.42" fill="#4433ce"/>
<rect x="426.22" y="207.00" width="1.42" height="1.42" fill="#3f29b0"/>
<rect x="426.22" y="208.22" width="1.42" height="1.42" fill="#422ebf"/>
<rect x="426.22" y="209.44" width="1.42" height="1.42" fill="#3f29b0"/>
<rect x="426.22" y="210.66" width="1.42" height="1.42" fill="#3f29b0"/>
<rect x="427.44" y="170.44" width="1.42" height="1.42" fill="#3f29b0"/>
<rect x="427.44" y="171.66" width="1.42" height="1.42" fill="#3f29b0"/>
<rect x="427.44" y="172.88" width="1.42" height="1.42" fill="#402bb7"/>
<rect x="427.44" y="174.09" width="1.42" height="1.42" fill="#402bb7"/>
<rect x="427.44" y="175.31" width="1.42" height="1.42" fill="#3f29b0"/>
<rect x="427.44" y="176.53" width="1.42" height="1.42" fill="#4330c6"/>
<rect x="427.44" y="177.75" width="1.42" height="1.42" fill="#463ee4"/>
<rect x="427.44" y="178.97" width="1.42" height="1.42" fill="#463ee4"/>
<rect x="427.44" y="180.19" width="1.42" height="1.42" fill="#4745ed"/>
<rect x="427.44" y="181.41" width="1.42" height="1.42" fill="#4654fb"/>
<rect x="427.44" y="182.62" width="1.42" height="1.42" fill="#2e7df6"/>
<rect x="427.44" y="183.84" width="1.42" height="1.42" fill="#0db3cc"/>
<rect x="427.44" y="185.06" width="1.42" height="1.42" fill="#1ec3a5"/>
<rect x="427.44" y="186.28" width="1.42" height="1.42" fill="#59ce75"/>
<rect x="427.44" y="187.50" width="1.42" height="1.42" fill="#3cca8c"/>
<rect x="427.44" y="188.72" width="1.42" height="1.42" fill="#d1bd33"/>
<rect x="427.44" y="189.94" width="1.42" height="1.42" fill="#f9fb14"/>
<rect x="427.44" y="191.16" width="1.42" height="1.42" fill="#f9fb14"/>
<rect x="427.44" y="192.38" width="1.42" height="1.42" fill="#f9fb14"/>
<rect x="427.44" y="193.59" width="1.42" height="1.42" fill="#f6ec19"/>
<rect x="427.44" y="194.81" width="1.42" height="1.42" fill="#f9fb14"/>
<rect x="427.44" y="196.03" width="1.42" height="1.42" fill="#f5bb38"/>
<rect x="427.44" y="197.25" width="1.42" height="1.42" fill="#eab935"/>
<rect x="427.44" y="198.47" width="1.42" height="1.42" fill="#69cf69"/>
<rect x="427.44" y="199.69" width="1.42" height="1.42" fill="#0ab7c5"/>
<rect x="427.44" y="200.91" width="1.42" height="1.42" fill="#2a86f2"/>
<rect x="427.44" y="202.12" width="1.42" height="1.42" fill="#3574f9"/>
<rect x="427.44" y="203.34" width="1.42" height="1.42" fill="#4741ea"/>
<rect x="427.44" y="204.56" width="1.42" height="1.42" fill="#425dfb"/>
<rect x="427.44" y="205.78" width="1.42" height="1.42" fill="#422ebf"/>
<rect x="427.44" y="207.00" width="1.42" height="1.42" fill="#4330c6"/>
<rect x="427.44" y="208.22" width="1.42" height="1.42" fill="#4330c6"/>
<rect x="427.44" y="209.44" width="1.42" height="1.42" fill="#3f29b0"/>
<rect x="427.44" y="214.31" width="1.42" height="1.42" fill="#3f29b0"/>
<rect x="428.66" y="171.66" width="1.42" height="1.42" fill="#3f29b0"/>
<rect x="428.66" y="174.09" width="1.42" height="1.42" fill="#3f29b0"/>
<rect x="428.66" y="175.31" width="1.42" height="1.42" fill="#402bb7"/>
<rect x="428.66" y="176.53" width="1.42" height="1.42" fill="#4330c6"/>
<rect x="428.66" y="177.75" width="1.42" height="1.42" fill="#4536d4"/>
<rect x="428.66" y="178.97" width="1.42" height="1.42" fill="#4539d9"/>
<rect x="428.66" y="180.19" width="1.42" height="1.42" fill="#464cf4"/>
<rect x="428.66" y="181.41" width="1.42" height="1.42" fill="#3574f9"/>
<rect x="428.66" y="182.62" width="1.42" height="1.42" fill="#288aef"/>
<rect x="428.66" y="183.84" width="1.42" height="1.42" fill="#13aed1"/>
<rect x="428.66" y="185.06" width="1.42" height="1.42" fill="#a5c743"/>
<rect x="428.66" y="186.28" width="1.42" height="1.42" fill="#d1bd33"/>
<rect x="428.66" y="187.50" width="1.42" height="1.42" fill="#d7bc34"/>
<rect x="428.66" y="188.72" width="1.42" height="1.42" fill="#f9fb14"/>
<rect x="428.66" y="189.94" width="1.42" height="1.42" fill="#f9fb14"/>
<rect x="428.66" y="191.16" width="1.42" height="1.42" fill="#f9fb14"/>
<rect x="428.66" y="192.38" width="1.42" height="1.42" fill="#f9fb14"/>
<rect x="428.66" y="193.59" width="1.42" height="1.42" fill="#f9fb14"/>
<rect x="428.66" y="194.81" width="1.42" height="1.42" fill="#f9fb14"/>
<rect x="428.66" y="196.03" width="1.42" height="1.42" fill="#f7d429"/>
<rect x="428.66" y="197.25" width="1.42" height="1.42" fill="#f7d826"/>
<rect x="428.66" y="198.47" width="1.42" height="1.42" fill="#ddbb34"/>
<rect x="428.66" y="199.69" width="1.42" height="1.42" fill="#80cd59"/>
<rect x="428.66" y="200.91" width="1.42" height="1.42" fill="#07bbbe"/>
<rect x="428.66" y="202.12" width="1.42" height="1.42" fill="#2593e9"/>
<rect x="428.66" y="203.34" width="1.42" height="1.42" fill="#4741ea"/>
<rect x="428.66" y="204.56" width="1.42" height="1.42" fill="#463bdf"/>
<rect x="428.66" y="205.78" width="1.42" height="1.42" fill="#4330c6"/>
<rect x="428.66" y="207.00" width="1.42" height="1.42" fill="#4433ce"/>
<rect x="428.66" y="208.22" width="1.42" height="1.42" fill="#4536d4"/>
<rect x="428.66" y="209.44" width="1.42" height="1.42" fill="#4330c6"/>
<rect x="428.66" y="210.66" width="1.42" height="1.42" fill="#3f29b0"/>
<rect x="428.66" y="213.09" width="1.42" height="1.42" fill="#3f29b0"/>
<rect x="428.66" y="219.19" width="1.42" height="1.42" fill="#3f29b0"/>
<rect x="429.88" y="168.00" width="1.42" height="1.42" fill="#3f29b0"/>
<rect x="429.88" y="171.66" width="1.42" height="1.42" fill="#402bb7"/>
<rect x="429.88" y="175.31" width="1.42" height="1.42" fill="#422ebf"/>
<rect x="429.88" y="176.53" width="1.42" height="1.42" fill="#402bb7"/>
<rect x="429.88" y="177.75" width="1.42" height="1.42" fill="#4536d4"/>
<rect x="429.88" y="178.97" width="1.42" height="1.42" fill="#4536d4"/>
<rect x="429.88" y="180.19" width="1.42" height="1.42" fill="#4330c6"/>
<rect x="429.88" y="181.41" width="1.42" height="1.42" fill="#4654fb"/>
<rect x="429.88" y="182.62" width="1.42" height="1.42" fill="#3574f9"/>
<rect x="429.88" y="183.84" width="1.42" height="1.42" fill="#19a9d6"/>
<rect x="429.88" y="185.06" width="1.42" height="1.42" fill="#2ac69b"/>
<rect x="429.88" y="186.28" width="1.42" height="1.42" fill="#96ca4b"/>
<rect x="429.88" y="187.50" width="1.42" height="1.42" fill="#d7bc34"/>
<rect x="429.88" y="188.72" width="1.42" height="1.42" fill="#f9fb14"/>
<rect x="429.88" y="189.94" width="1.42" height="1.42" fill="#f8f715"/>
<rect x="429.88" y="191.16" width="1.42" height="1.42" fill="#f9fb14"/>
<rect x="429.88" y="192.38" width="1.42" height="1.42" fill="#f9fb14"/>
<rect x="429.88" y="193.59" width="1.42" height="1.42" fill="#f9fb14"/>
<rect x="429.88" y="194.81" width="1.42" height="1.42" fill="#f9fb14"/>
<rect x="429.88" y="196.03" width="1.42" height="1.42" fill="#f9fb14"/>
<rect x="429.88" y="197.25" width="1.42" height="1.42" fill="#c5c036"/>
<rect x="429.88" y="198.47" width="1.42" height="1.42" fill="#a5c743"/>
<rect x="429.88" y="199.69" width="1.42" height="1.42" fill="#71ce64"/>
<rect x="429.88" y="200.91" width="1.42" height="1.42" fill="#07bbbe"/>
<rect x="429.88" y="202.12" width="1.42" height="1.42" fill="#288aef"/>
<rect x="429.88" y="203.34" width="1.42" height="1.42" fill="#3e66fc"/>
<rect x="429.88" y="204.56" width="1.42" height="1.42" fill="#4745ed"/>
<rect x="429.88" y="205.78" width="1.42" height="1.42" fill="#463bdf"/>
<rect x="429.88" y="207.00" width="1.42" height="1.42" fill="#4330c6"/>
<rect x="429.88" y="208.22" width="1.42" height="1.42" fill="#4330c6"/>
<rect x="429.88" y="209.44" width="1.42" height="1.42" fill="#402bb7"/>
<rect x="429.88" y="210.66" width="1.42" height="1.42" fill="#3f29b0"/>
<rect x="429.88" y="211.88" width="1.42" height="1.42" fill="#3f29b0"/>
<rect x="431.09" y="169.22" width="1.42" height="1.42" fill="#3f29b0"/>
<rect x="431.09" y="172.88" width="1.42" height="1.42" fill="#3f29b0"/>
<rect x="431.09" y="174.09" width="1.42" height="1.42" fill="#3f29b0"/>
<rect x="431.09" y="175.31" width="1.42" height="1.42" fill="#3f29b0"/>
<rect x="431.09" y="176.53" width="1.42" height="1.42" fill="#402bb7"/>
<rect x="431.09" y="177.75" width="1.42" height="1.42" fill="#4330c6"/>
<rect x="431.09" y="178.97" width="1.42" height="1.42" fill="#4433ce"/>
<rect x="431.09" y="180.19" width="1.42" height="1.42" fill="#4433ce"/>
<rect x="431.09" y="181.41" width="1.42" height="1.42" fill="#3e66fc"/>
<rect x="431.09" y="182.62" width="1.42" height="1.42" fill="#3c6bfc"/>
<rect x="431.09" y="183.84" width="1.42" height="1.42" fill="#2497e6"/>
<rect x="431.09" y="185.06" width="1.42" height="1.42" fill="#16abd4"/>
<rect x="431.09" y="186.28" width="1.42" height="1.42" fill="#f7bc39"/>
<rect x="431.09" y="187.50" width="1.42" height="1.42" fill="#fcbf3b"/>
<rect x="431.09" y="188.72" width="1.42" height="1.42" fill="#f9fb14"/>
<rect x="431.09" y="189.94" width="1.42" height="1.42" fill="#f9fb14"/>
<rect x="431.09" y="191.16" width="1.42" height="1.42" fill="#f9fb14"/>
<rect x="431.09" y="192.38" width="1.42" height="1.42" fill="#f9fb14"/>
<rect x="431.09" y="193.59" width="1.42" height="1.42" fill="#f9fb14"/>
<rect x="431.09" y="194.81" width="1.42" height="1.42" fill="#f9fb14"/>
<rect x="431.09" y="196.03" width="1.42" height="1.42" fill="#f9fb14"/>
<rect x="431.09" y="197.25" width="1.42" height="1.42" fill="#ddbb34"/>
<rect x="431.09" y="198.47" width="1.42" height="1.42" fill="#59ce75"/>
<rect x="431.09" y="199.69" width="1.42" height="1.42" fill="#a5c743"/>
<rect x="431.09" y="200.91" width="1.42" height="1.42" fill="#08b9c1"/>
<rect x="431.09" y="202.12" width="1.42" height="1.42" fill="#1fa0de"/>
<rect x="431.09" y="203.34" width="1.42" height="1.42" fill="#463bdf"/>
<rect x="431.09" y="204.56" width="1.42" height="1.42" fill="#4745ed"/>
<rect x="431.09" y="205.78" width="1.42" height="1.42" fill="#463bdf"/>
<rect x="431.09" y="207.00" width="1.42" height="1.42" fill="#463ee4"/>
<rect x="431.09" y="208.22" width="1.42" height="1.42" fill="#4536d4"/>
<rect x="431.09" y="209.44" width="1.42" height="1.42" fill="#4433ce"/>
<rect x="431.09" y="210.66" width="1.42" height="1.42" fill="#422ebf"/>
<rect x="431.09" y="217.97" width="1.42" height="1.42" fill="#3f29b0"/>
<rect x="432.31" y="172.88" width="1.42" height="1.42" fill="#402bb7"/>
<rect x="432.31" y="174.09" width="1.42" height="1.42" fill="#3f29b0"/>
<rect x="432.31" y="175.31" width="1.42" height="1.42" fill="#422ebf"/>
<rect x="432.31" y="176.53" width="1.42" height="1.42" fill="#3f29b0"/>
<rect x="432.31" y="177.75" width="1.42" height="1.42" fill="#402bb7"/>
<rect x="432.31" y="178.97" width="1.42" height="1.42" fill="#422ebf"/>
<rect x="432.31" y="180.19" width="1.42" height="1.42" fill="#4539d9"/>
<rect x="432.31" y="181.41" width="1.42" height="1.42" fill="#4654fb"/>
<rect x="432.31" y="182.62" width="1.42" height="1.42" fill="#4459fb"/>
<rect x="432.31" y="183.84" width="1.42" height="1.42" fill="#16abd4"/>
<rect x="432.31" y="185.06" width="1.42" height="1.42" fill="#1fa0de"/>
<rect x="432.31" y="186.28" width="1.42" height="1.42" fill="#42cc87"/>
<rect x="432.31" y="187.50" width="1.42" height="1.42" fill="#f2b937"/>
<rect x="432.31" y="188.72" width="1.42" height="1.42" fill="#a5c743"/>
<rect x="432.31" y="189.94" width="1.42" height="1.42" fill="#f9fb14"/>
<rect x="432.31" y="191.16" width="1.42" height="1.42" fill="#f9fb14"/>
<rect x="432.31" y="192.38" width="1.42" height="1.42" fill="#f7f316"/>
<rect x="432.31" y="193.59" width="1.42" height="1.42" fill="#f9fb14"/>
<rect x="432.31" y="194.81" width="1.42" height="1.42" fill="#f9fb14"/>
<rect x="432.31" y="196.03" width="1.42" height="1.42" fill="#f9fb14"/>
<rect x="432.31" y="197.25" width="1.42" height="1.42" fill="#d7bc34"/>
<rect x="432.31" y="198.47" width="1.42" height="1.42" fill="#8fcc4f"/>
<rect x="432.31" y="199.69" width="1.42" height="1.42" fill="#1ec3a5"/>
<rect x="432.31" y="200.91" width="1.42" height="1.42" fill="#13aed1"/>
<rect x="432.31" y="202.12" width="1.42" height="1.42" fill="#2b82f5"/>
<rect x="432.31" y="203.34" width="1.42" height="1.42" fill="#3c6bfc"/>
<rect x="432.31" y="204.56" width="1.42" height="1.42" fill="#4539d9"/>
<rect x="432.31" y="205.78" width="1.42" height="1.42" fill="#425dfb"/>
<rect x="432.31" y="207.00" width="1.42" height="1.42" fill="#463bdf"/>
<rect x="432.31" y="208.22" width="1.42" height="1.42" fill="#422ebf"/>
<rect x="432.31" y="209.44" width="1.42" height="1.42" fill="#4536d4"/>
<rect x="432.31" y="210.66" width="1.42" height="1.42" fill="#402bb7"/>
<rect x="432.31" y="211.88" width="1.42" height="1.42" fill="#3f29b0"/>
<rect x="432.31" y="213.09" width="1.42" height="1.42" fill="#3f29b0"/>
<rect x="432.31" y="214.31" width="1.42" height="1.42" fill="#3f29b0"/>
<rect x="433.53" y="175.31" width="1.42" height="1.42" fill="#3f29b0"/>
<rect x="433.53" y="176.53" width="1.42" height="1.42" fill="#3f29b0"/>
<rect x="433.53" y="177.75" width="1.42" height="1.42" fill="#4433ce"/>
<rect x="433.53" y="178.97" width="1.42" height="1.42" fill="#4330c6"/>
<rect x="433.53" y="180.19" width="1.42" height="1.42" fill="#4433ce"/>
<rect x="433.53" y="181.41" width="1.42" height="1.42" fill="#4650f8"/>
<rect x="433.53" y="182.62" width="1.42" height="1.42" fill="#3e66fc"/>
<rect x="433.53" y="183.84" width="1.42" height="1.42" fill="#3c6bfc"/>
<rect x="433.53" y="185.06" width="1.42" height="1.42" fill="#0db3cc"/>
<rect x="433.53" y="186.28" width="1.42" height="1.42" fill="#16abd4"/>
<rect x="433.53" y="187.50" width="1.42" height="1.42" fill="#3cca8c"/>
<rect x="433.53" y="188.72" width="1.42" height="1.42" fill="#fabe3a"/>
<rect x="433.53" y="189.94" width="1.42" height="1.42" fill="#f7bc39"/>
<rect x="433.53" y="191.16" width="1.42" height="1.42" fill="#f9fb14"/>
<rect x="433.53" y="192.38" width="1.42" height="1.42" fill="#f5e41d"/>
<rect x="433.53" y="193.59" width="1.42" height="1.42" fill="#f9fb14"/>
<rect x="433.53" y="194.81" width="1.42" height="1.42" fill="#f6dc23"/>
<rect x="433.53" y="196.03" width="1.42" height="1.42" fill="#f5e41d"/>
<rect x="433.53" y="197.25" width="1.42" height="1.42" fill="#b9c339"/>
<rect x="433.53" y="198.47" width="1.42" height="1.42" fill="#59ce75"/>
<rect x="433.53" y="199.69" width="1.42" height="1.42" fill="#3cca8c"/>
<rect x="433.53" y="200.91" width="1.42" height="1.42" fill="#0bb5c8"/>
<rect x="433.53" y="202.12" width="1.42" height="1.42" fill="#3574f9"/>
<rect x="433.53" y="203.34" width="1.42" height="1.42" fill="#3e66fc"/>
<rect x="433.53" y="204.56" width="1.42" height="1.42" fill="#4650f8"/>
<rect x="433.53" y="205.78" width="1.42" height="1.42" fill="#463bdf"/>
<rect x="433.53" y="207.00" width="1.42" height="1.42" fill="#4330c6"/>
<rect x="433.53" y="208.22" width="1.42" height="1.42" fill="#4433ce"/>
<rect x="433.53" y="209.44" width="1.42" height="1.42" fill="#4330c6"/>
<rect x="433.53" y="210.66" width="1.42" height="1.42" fill="#402bb7"/>
<rect x="433.53" y="211.88" width="1.42" height="1.42" fill="#4433ce"/>
<rect x="433.53" y="213.09" width="1.42" height="1.42" fill="#3f29b0"/>
<rect x="433.53" y="214.31" width="1.42" height="1.42" fill="#402bb7"/>
<rect x="434.75" y="172.88" width="1.42" height="1.42" fill="#3f29b0"/>
<rect x="434.75" y="177.75" width="1.42" height="1.42" fill="#4330c6"/>
<rect x="434.75" y="178.97" width="1.42" height="1.42" fill="#402bb7"/>
<rect x="434.75" y="180.19" width="1.42" height="1.42" fill="#4330c6"/>
<rect x="434.75" y="181.41" width="1.42" height="1.42" fill="#4539d9"/>
<rect x="434.75" y="182.62" width="1.42" height="1.42" fill="#463bdf"/>
<rect x="434.75" y="183.84" width="1.42" height="1.42" fill="#288aef"/>
<rect x="434.75" y="185.06" width="1.42" height="1.42" fill="#278fec"/>
<rect x="434.75" y="186.28" width="1.42" height="1.42" fill="#13aed1"/>
<rect x="434.75" y="187.50" width="1.42" height="1.42" fill="#36c991"/>
<rect x="434.75" y="188.72" width="1.42" height="1.42" fill="#30c796"/>
<rect x="434.75" y="189.94" width="1.42" height="1.42" fill="#e4ba35"/>
<rect x="434.75" y="191.16" width="1.42" height="1.42" fill="#f9cc30"/>
<rect x="434.75" y="192.38" width="1.42" height="1.42" fill="#f7bc39"/>
<rect x="434.75" y="193.59" width="1.42" height="1.42" fill="#bfc138"/>
<rect x="434.75" y="194.81" width="1.42" height="1.42" fill="#fabe3a"/>
<rect x="434.75" y="196.03" width="1.42" height="1.42" fill="#b9c339"/>
<rect x="434.75" y="197.25" width="1.42" height="1.42" fill="#b9c339"/>
<rect x="434.75" y="198.47" width="1.42" height="1.42" fill="#07bbbe"/>
<rect x="434.75" y="199.69" width="1.42" height="1.42" fill="#30c796"/>
<rect x="434.75" y="200.91" width="1.42" height="1.42" fill="#288aef"/>
<rect x="434.75" y="202.12" width="1.42" height="1.42" fill="#3279f8"/>
<rect x="434.75" y="203.34" width="1.42" height="1.42" fill="#3279f8"/>
<rect x="434.75" y="204.56" width="1.42" height="1.42" fill="#4536d4"/>
<rect x="434.75" y="205.78" width="1.42" height="1.42" fill="#4433ce"/>
<rect x="434.75" y="207.00" width="1.42" height="1.42" fill="#422ebf"/>
<rect x="434.75" y="208.22" width="1.42" height="1.42" fill="#422ebf"/>
<rect x="434.75" y="209.44" width="1.42" height="1.42" fill="#4330c6"/>
<rect x="434.75" y="210.66" width="1.42" height="1.42" fill="#422ebf"/>
<rect x="434.75" y="211.88" width="1.42" height="1.42" fill="#422ebf"/>
<rect x="434.75" y="214.31" width="1.42" height="1.42" fill="#3f29b0"/>
<rect x="435.97" y="172.88" width="1.42" height="1.42" fill="#3f29b0"/>
<rect x="435.97" y="174.09" width="1.42" height="1.42" fill="#3f29b0"/>
<rect x="435.97" y="175.31" width="1.42" height="1.42" fill="#3f29b0"/>
<rect x="435.97" y="177.75" width="1.42" height="1.42" fill="#3f29b0"/>
<rect x="435.97" y="178.97" width="1.42" height="1.42" fill="#4330c6"/>
<rect x="435.97" y="180.19" width="1.42" height="1.42" fill="#422ebf"/>
<rect x="435.97" y="181.41" width="1.42" height="1.42" fill="#463bdf"/>
<rect x="435.97" y="182.62" width="1.42" height="1.42" fill="#4536d4"/>
<rect x="435.97" y="183.84" width="1.42" height="1.42" fill="#3970fb"/>
<rect x="435.97" y="185.06" width="1.42" height="1.42" fill="#3970fb"/>
<rect x="435.97" y="186.28" width="1.42" height="1.42" fill="#16abd4"/>
<rect x="435.97" y="187.50" width="1.42" height="1.42" fill="#219de1"/>
<rect x="435.97" y="188.72" width="1.42" height="1.42" fill="#42cc87"/>
<rect x="435.97" y="189.94" width="1.42" height="1.42" fill="#10b0cf"/>
<rect x="435.97" y="191.16" width="1.42" height="1.42" fill="#11c0b0"/>
<rect x="435.97" y="192.38" width="1.42" height="1.42" fill="#78ce5f"/>
<rect x="435.97" y="193.59" width="1.42" height="1.42" fill="#24c4a0"/>
<rect x="435.97" y="194.81" width="1.42" height="1.42" fill="#87cd54"/>
<rect x="435.97" y="196.03" width="1.42" height="1.42" fill="#1ec3a5"/>
<rect x="435.97" y="197.25" width="1.42" height="1.42" fill="#8fcc4f"/>
<rect x="435.97" y="198.47" width="1.42" height="1.42" fill="#16abd4"/>
<rect x="435.97" y="199.69" width="1.42" height="1.42" fill="#16abd4"/>
<rect x="435.97" y="200.91" width="1.42" height="1.42" fill="#219de1"/>
<rect x="435.97" y="202.12" width="1.42" height="1.42" fill="#3574f9"/>
<rect x="435.97" y="203.34" width="1.42" height="1.42" fill="#464cf4"/>
<rect x="435.97" y="204.56" width="1.42" height="1.42" fill="#4745ed"/>
<rect x="435.97" y="205.78" width="1.42" height="1.42" fill="#463bdf"/>
<rect x="435.97" y="207.00" width="1.42" height="1.42" fill="#4330c6"/>
<rect x="435.97" y="208.22" width="1.42" height="1.42" fill="#4536d4"/>
<rect x="435.97" y="209.44" width="1.42" height="1.42" fill="#402bb7"/>
<rect x="435.97" y="210.66" width="1.42" height="1.42" fill="#422ebf"/>
<rect x="435.97" y="211.88" width="1.42" height="1.42" fill="#3f29b0"/>
<rect x="437.19" y="171.66" width="1.42" height="1.42" fill="#3f29b0"/>
<rect x="437.19" y="175.31" width="1.42" height="1.42" fill="#3f29b0"/>
<rect x="437.19" y="180.19" width="1.42" height="1.42" fill="#4330c6"/>
<rect x="437.19" y="181.41" width="1.42" height="1.42" fill="#463ee4"/>
<rect x="437.19" y="182.62" width="1.42" height="1.42" fill="#463bdf"/>
<rect x="437.19" y="183.84" width="1.42" height="1.42" fill="#464cf4"/>
<rect x="437.19" y="185.06" width="1.42" height="1.42" fill="#3e66fc"/>
<rect x="437.19" y="186.28" width="1.42" height="1.42" fill="#3279f8"/>
<rect x="437.19" y="187.50" width="1.42" height="1.42" fill="#219de1"/>
<rect x="437.19" y="188.72" width="1.42" height="1.42" fill="#229ae3"/>
<rect x="437.19" y="189.94" width="1.42" height="1.42" fill="#0ab7c5"/>
<rect x="437.19" y="191.16" width="1.42" height="1.42" fill="#2ac69b"/>
<rect x="437.19" y="192.38" width="1.42" height="1.42" fill="#78ce5f"/>
<rect x="437.19" y="193.59" width="1.42" height="1.42" fill="#05bdba"/>
<rect x="437.19" y="194.81" width="1.42" height="1.42" fill="#18c1aa"/>
<rect x="437.19" y="196.03" width="1.42" height="1.42" fill="#18c1aa"/>
<rect x="437.19" y="197.25" width="1.42" height="1.42" fill="#1ec3a5"/>
<rect x="437.19" y="198.47" width="1.42" height="1.42" fill="#278fec"/>
<rect x="437.19" y="199.69" width="1.42" height="1.42" fill="#10b0cf"/>
<rect x="437.19" y="200.91" width="1.42" height="1.42" fill="#2a86f2"/>
<rect x="437.19" y="202.12" width="1.42" height="1.42" fill="#425dfb"/>
<rect x="437.19" y="203.34" width="1.42" height="1.42" fill="#4745ed"/>
<rect x="437.19" y="204.56" width="1.42" height="1.42" fill="#4741ea"/>
<rect x="437.19" y="205.78" width="1.42" height="1.42" fill="#4539d9"/>
<rect x="437.19" y="207.00" width="1.42" height="1.42" fill="#4539d9"/>
<rect x="437.19" y="208.22" width="1.42" height="1.42" fill="#422ebf"/>
<rect x="437.19" y="209.44" width="1.42" height="1.42" fill="#4330c6"/>
<rect x="437.19" y="210.66" width="1.42" height="1.42" fill="#4536d4"/>
<rect x="437.19" y="211.88" width="1.42" height="1.42" fill="#3f29b0"/>
<rect x="437.19" y="213.09" width="1.42" height="1.42" fill="#3f29b0"/>
<rect x="437.19" y="214.31" width="1.42" height="1.42" fill="#3f29b0"/>
<rect x="438.41" y="175.31" width="1.42" height="1.42" fill="#3f29b0"/>
<rect x="438.41" y="178.97" width="1.42" height="1.42" fill="#3f29b0"/>
<rect x="438.41" y="180.19" width="1.42" height="1.42" fill="#402bb7"/>
<rect x="438.41" y="181.41" width="1.42" height="1.42" fill="#402bb7"/>
<rect x="438.41" y="182.62" width="1.42" height="1.42" fill="#4433ce"/>
<rect x="438.41" y="183.84" width="1.42" height="1.42" fill="#463ee4"/>
<rect x="438.41" y="185.06" width="1.42" height="1.42" fill="#4539d9"/>
<rect x="438.41" y="186.28" width="1.42" height="1.42" fill="#425dfb"/>
<rect x="438.41" y="187.50" width="1.42" height="1.42" fill="#4062fc"/>
<rect x="438.41" y="188.72" width="1.42" height="1.42" fill="#288aef"/>
<rect x="438.41" y="189.94" width="1.42" height="1.42" fill="#3970fb"/>
<rect x="438.41" y="191.16" width="1.42" height="1.42" fill="#229ae3"/>
<rect x="438.41" y="192.38" width="1.42" height="1.42" fill="#1ca6d9"/>
<rect x="438.41" y="193.59" width="1.42" height="1.42" fill="#30c796"/>
<rect x="438.41" y="194.81" width="1.42" height="1.42" fill="#1ca6d9"/>
<rect x="438.41" y="196.03" width="1.42" height="1.42" fill="#2b82f5"/>
<rect x="438.41" y="197.25" width="1.42" height="1.42" fill="#1fa0de"/>
<rect x="438.41" y="198.47" width="1.42" height="1.42" fill="#1ea3dc"/>
<rect x="438.41" y="199.69" width="1.42" height="1.42" fill="#3574f9"/>
<rect x="438.41" y="200.91" width="1.42" height="1.42" fill="#4741ea"/>
<rect x="438.41" y="202.12" width="1.42" height="1.42" fill="#4741ea"/>
<rect x="438.41" y="203.34" width="1.42" height="1.42" fill="#3970fb"/>
<rect x="438.41" y="204.56" width="1.42" height="1.42" fill="#463bdf"/>
<rect x="438.41" y="205.78" width="1.42" height="1.42" fill="#422ebf"/>
<rect x="438.41" y="207.00" width="1.42" height="1.42" fill="#4330c6"/>
<rect x="438.41" y="208.22" width="1.42" height="1.42" fill="#4433ce"/>
<rect x="438.41" y="209.44" width="1.42" height="1.42" fill="#422ebf"/>
<rect x="438.41" y="210.66" width="1.42" height="1.42" fill="#402bb7"/>
<rect x="438.41" y="211.88" width="1.42" height="1.42" fill="#422ebf"/>
<rect x="438.41" y="213.09" width="1.42" height="1.42" fill="#3f29b0"/>
<rect x="438.41" y="214.31" width="1.42" height="1.42" fill="#3f29b0"/>
<rect x="438.41" y="216.75" width="1.42" height="1.42" fill="#3f29b0"/>
<rect x="439.62" y="169.22" width="1.42" height="1.42" fill="#3f29b0"/>
<rect x="439.62" y="175.31" width="1.42" height="1.42" fill="#3f29b0"/>
<rect x="439.62" y="178.97" width="1.42" height="1.42" fill="#3f29b0"/>
<rect x="439.62" y="180.19" width="1.42" height="1.42" fill="#3f29b0"/>
<rect x="439.62" y="181.41" width="1.42" height="1.42" fill="#3f29b0"/>
<rect x="439.62" y="182.62" width="1.42" height="1.42" fill="#402bb7"/>
<rect x="439.62" y="183.84" width="1.42" height="1.42" fill="#4539d9"/>
<rect x="439.62" y="185.06" width="1.42" height="1.42" fill="#463bdf"/>
<rect x="439.62" y="186.28" width="1.42" height="1.42" fill="#4536d4"/>
<rect x="439.62" y="187.50" width="1.42" height="1.42" fill="#4459fb"/>
<rect x="439.62" y="188.72" width="1.42" height="1.42" fill="#3e66fc"/>
<rect x="439.62" y="189.94" width="1.42" height="1.42" fill="#4062fc"/>
<rect x="439.62" y="191.16" width="1.42" height="1.42" fill="#3574f9"/>
<rect x="439.62" y="192.38" width="1.42" height="1.42" fill="#278fec"/>
<rect x="439.62" y="193.59" width="1.42" height="1.42" fill="#2a86f2"/>
<rect x="439.62" y="194.81" width="1.42" height="1.42" fill="#08b9c1"/>
<rect x="439.62" y="196.03" width="1.42" height="1.42" fill="#3970fb"/>
<rect x="439.62" y="197.25" width="1.42" height="1.42" fill="#2593e9"/>
<rect x="439.62" y="198.47" width="1.42" height="1.42" fill="#3574f9"/>
<rect x="439.62" y="199.69" width="1.42" height="1.42" fill="#2b82f5"/>
<rect x="439.62" y="200.91" width="1.42" height="1.42" fill="#4741ea"/>
<rect x="439.62" y="202.12" width="1.42" height="1.42" fill="#4654fb"/>
<rect x="439.62" y="203.34" width="1.42" height="1.42" fill="#4536d4"/>
<rect x="439.62" y="204.56" width="1.42" height="1.42" fill="#463bdf"/>
<rect x="439.62" y="205.78" width="1.42" height="1.42" fill="#4433ce"/>
<rect x="439.62" y="207.00" width="1.42" height="1.42" fill="#4433ce"/>
<rect x="439.62" y="208.22" width="1.42" height="1.42" fill="#422ebf"/>
<rect x="439.62" y="209.44" width="1.42" height="1.42" fill="#402bb7"/>
<rect x="439.62" y="210.66" width="1.42" height="1.42" fill="#422ebf"/>
<rect x="439.62" y="211.88" width="1.42" height="1.42" fill="#402bb7"/>
<rect x="439.62" y="213.09" width="1.42" height="1.42" fill="#422ebf"/>
<rect x="439.62" y="215.53" width="1.42" height="1.42" fill="#3f29b0"/>
<rect x="440.84" y="177.75" width="1.42" height="1.42" fill="#402bb7"/>
<rect x="440.84" y="178.97" width="1.42" height="1.42" fill="#3f29b0"/>
<rect x="440.84" y="180.19" width="1.42" height="1.42" fill="#3f29b0"/>
<rect x="440.84" y="181.41" width="1.42" height="1.42" fill="#3f29b0"/>
<rect x="440.84" y="182.62" width="1.42" height="1.42" fill="#3f29b0"/>
<rect x="440.84" y="183.84" width="1.42" height="1.42" fill="#402bb7"/>
<rect x="440.84" y="185.06" width="1.42" height="1.42" fill="#4741ea"/>
<rect x="440.84" y="186.28" width="1.42" height="1.42" fill="#4330c6"/>
<rect x="440.84" y="187.50" width="1.42" height="1.42" fill="#463ee4"/>
<rect x="440.84" y="188.72" width="1.42" height="1.42" fill="#4745ed"/>
<rect x="440.84" y="189.94" width="1.42" height="1.42" fill="#4749f1"/>
<rect x="440.84" y="191.16" width="1.42" height="1.42" fill="#464cf4"/>
<rect x="440.84" y="192.38" width="1.42" height="1.42" fill="#2b82f5"/>
<rect x="440.84" y="193.59" width="1.42" height="1.42" fill="#4749f1"/>
<rect x="440.84" y="194.81" width="1.42" height="1.42" fill="#3c6bfc"/>
<rect x="440.84" y="196.03" width="1.42" height="1.42" fill="#4749f1"/>
<rect x="440.84" y="197.25" width="1.42" height="1.42" fill="#425dfb"/>
<rect x="440.84" y="198.47" width="1.42" height="1.42" fill="#4062fc"/>
<rect x="440.84" y="199.69" width="1.42" height="1.42" fill="#4654fb"/>
<rect x="440.84" y="200.91" width="1.42" height="1.42" fill="#425dfb"/>
<rect x="440.84" y="202.12" width="1.42" height="1.42" fill="#4745ed"/>
<rect x="440.84" y="203.34" width="1.42" height="1.42" fill="#464cf4"/>
<rect x="440.84" y="204.56" width="1.42" height="1.42" fill="#4749f1"/>
<rect x="440.84" y="205.78" width="1.42" height="1.42" fill="#4741ea"/>
<rect x="440.84" y="207.00" width="1.42" height="1.42" fill="#422ebf"/>
<rect x="440.84" y="208.22" width="1.42" height="1.42" fill="#4433ce"/>
<rect x="440.84" y="209.44" width="1.42" height="1.42" fill="#422ebf"/>
<rect x="440.84" y="210.66" width="1.42" height="1.42" fill="#422ebf"/>
<rect x="440.84" y="211.88" width="1.42" height="1.42" fill="#3f29b0"/>
<rect x="440.84" y="213.09" width="1.42" height="1.42" fill="#3f29b0"/>
<rect x="442.06" y="175.31" width="1.42" height="1.42" fill="#3f29b0"/>
<rect x="442.06" y="180.19" width="1.42" height="1.42" fill="#402bb7"/>
<rect x="442.06" y="182.62" width="1.42" height="1.42" fill="#3f29b0"/>
<rect x="442.06" y="183.84" width="1.42" height="1.42" fill="#422ebf"/>
<rect x="442.06" y="185.06" width="1.42" height="1.42" fill="#422ebf"/>
<rect x="442.06" y="186.28" width="1.42" height="1.42" fill="#4433ce"/>
<rect x="442.06" y="187.50" width="1.42" height="1.42" fill="#4433ce"/>
<rect x="442.06" y="188.72" width="1.42" height="1.42" fill="#4433ce"/>
<rect x="442.06" y="189.94" width="1.42" height="1.42" fill="#464cf4"/>
<rect x="442.06" y="191.16" width="1.42" height="1.42" fill="#4745ed"/>
<rect x="442.06" y="192.38" width="1.42" height="1.42" fill="#4749f1"/>
<rect x="442.06" y="193.59" width="1.42" height="1.42" fill="#4650f8"/>
<rect x="442.06" y="194.81" width="1.42" height="1.42" fill="#425dfb"/>
<rect x="442.06" y="196.03" width="1.42" height="1.42" fill="#4745ed"/>
<rect x="442.06" y="197.25" width="1.42" height="1.42" fill="#4654fb"/>
<rect x="442.06" y="198.47" width="1.42" height="1.42" fill="#4749f1"/>
<rect x="442.06" y="199.69" width="1.42" height="1.42" fill="#463ee4"/>
<rect x="442.06" y="200.91" width="1.42" height="1.42" fill="#463bdf"/>
<rect x="442.06" y="202.12" width="1.42" height="1.42" fill="#4539d9"/>
<rect x="442.06" y="203.34" width="1.42" height="1.42" fill="#463ee4"/>
<rect x="442.06" y="204.56" width="1.42" height="1.42" fill="#422ebf"/>
<rect x="442.06" y="205.78" width="1.42" height="1.42" fill="#402bb7"/>
<rect x="442.06" y="207.00" width="1.42" height="1.42" fill="#4536d4"/>
<rect x="442.06" y="208.22" width="1.42" height="1.42" fill="#402bb7"/>
<rect x="442.06" y="211.88" width="1.42" height="1.42" fill="#3f29b0"/>
<rect x="442.06" y="213.09" width="1.42" height="1.42" fill="#402bb7"/>
<rect x="443.28" y="178.97" width="1.42" height="1.42" fill="#3f29b0"/>
<rect x="443.28" y="180.19" width="1.42" height="1.42" fill="#3f29b0"/>
<rect x="443.28" y="181.41" width="1.42" height="1.42" fill="#3f29b0"/>
<rect x="443.28" y="182.62" width="1.42" height="1.42" fill="#3f29b0"/>
<rect x="443.28" y="183.84" width="1.42" height="1.42" fill="#3f29b0"/>
<rect x="443.28" y="185.06" width="1.42" height="1.42" fill="#422ebf"/>
<rect x="443.28" y="186.28" width="1.42" height="1.42" fill="#4330c6"/>
<rect x="443.28" y="187.50" width="1.42" height="1.42" fill="#4330c6"/>
<rect x="443.28" y="188.72" width="1.42" height="1.42" fill="#4539d9"/>
<rect x="443.28" y="189.94" width="1.42" height="1.42" fill="#422ebf"/>
<rect x="443.28" y="191.16" width="1.42" height="1.42" fill="#4433ce"/>
<rect x="443.28" y="192.38" width="1.42" height="1.42" fill="#4330c6"/>
<rect x="443.28" y="193.59" width="1.42" height="1.42" fill="#463bdf"/>
<rect x="443.28" y="194.81" width="1.42" height="1.42" fill="#463bdf"/>
<rect x="443.28" y="196.03" width="1.42" height="1.42" fill="#4745ed"/>
<rect x="443.28" y="197.25" width="1.42" height="1.42" fill="#4536d4"/>
<rect x="443.28" y="198.47" width="1.42" height="1.42" fill="#4433ce"/>
<rect x="443.28" y="199.69" width="1.42" height="1.42" fill="#4741ea"/>
<rect x="443.28" y="200.91" width="1.42" height="1.42" fill="#4536d4"/>
<rect x="443.28" y="202.12" width="1.42" height="1.42" fill="#4536d4"/>
<rect x="443.28" y="203.34" width="1.42" height="1.42" fill="#4433ce"/>
<rect x="443.28" y="204.56" width="1.42" height="1.42" fill="#4433ce"/>
<rect x="443.28" y="205.78" width="1.42" height="1.42" fill="#4330c6"/>
<rect x="443.28" y="207.00" width="1.42" height="1.42" fill="#402bb7"/>
<rect x="443.28" y="208.22" width="1.42" height="1.42" fill="#3f29b0"/>
<rect x="443.28" y="209.44" width="1.42" height="1.42" fill="#3f29b0"/>
<rect x="443.28" y="211.88" width="1.42" height="1.42" fill="#3f29b0"/>
<rect x="443.28" y="216.75" width="1.42" height="1.42" fill="#402bb7"/>
<rect x="444.50" y="183.84" width="1.42" height="1.42" fill="#4330c6"/>
<rect x="444.50" y="185.06" width="1.42" height="1.42" fill="#402bb7"/>
<rect x="444.50" y="186.28" width="1.42" height="1.42" fill="#3f29b0"/>
<rect x="444.50" y="188.72" width="1.42" height="1.42" fill="#4330c6"/>
<rect x="444.50" y="189.94" width="1.42" height="1.42" fill="#3f29b0"/>
<rect x="444.50" y="191.16" width="1.42" height="1.42" fill="#4330c6"/>
<rect x="444.50" y="192.38" width="1.42" height="1.42" fill="#4539d9"/>
<rect x="444.50" y="193.59" width="1.42" height="1.42" fill="#4536d4"/>
<rect x="444.50" y="194.81" width="1.42" height="1.42" fill="#463ee4"/>
<rect x="444.50" y="196.03" width="1.42" height="1.42" fill="#4539d9"/>
<rect x="444.50" y="197.25" width="1.42" height="1.42" fill="#4539d9"/>
<rect x="444.50" y="198.47" width="1.42" height="1.42" fill="#4539d9"/>
<rect x="444.50" y="199.69" width="1.42" height="1.42" fill="#4536d4"/>
<rect x="444.50" y="200.91" width="1.42" height="1.42" fill="#4536d4"/>
<rect x="444.50" y="202.12" width="1.42" height="1.42" fill="#4330c6"/>
<rect x="444.50" y="203.34" width="1.42" height="1.42" fill="#4433ce"/>
<rect x="444.50" y="204.56" width="1.42" height="1.42" fill="#4539d9"/>
<rect x="444.50" y="205.78" width="1.42" height="1.42" fill="#422ebf"/>
<rect x="444.50" y="207.00" width="1.42" height="1.42" fill="#402bb7"/>
<rect x="444.50" y="208.22" width="1.42" height="1.42" fill="#4433ce"/>
<rect x="444.50" y="209.44" width="1.42" height="1.42" fill="#4330c6"/>
<rect x="444.50" y="210.66" width="1.42" height="1.42" fill="#422ebf"/>
<rect x="444.50" y="213.09" width="1.42" height="1.42" fill="#3f29b0"/>
<rect x="444.50" y="214.31" width="1.42" height="1.42" fill="#3f29b0"/>
<rect x="445.72" y="178.97" width="1.42" height="1.42" fill="#3f29b0"/>
<rect x="445.72" y="186.28" width="1.42" height="1.42" fill="#3f29b0"/>
<rect x="445.72" y="187.50" width="1.42" height="1.42" fill="#402bb7"/>
<rect x="445.72" y="188.72" width="1.42" height="1.42" fill="#3f29b0"/>
<rect x="445.72" y="189.94" width="1.42" height="1.42" fill="#402bb7"/>
<rect x="445.72" y="191.16" width="1.42" height="1.42" fill="#4330c6"/>
<rect x="445.72" y="192.38" width="1.42" height="1.42" fill="#4330c6"/>
<rect x="445.72" y="193.59" width="1.42" height="1.42" fill="#4330c6"/>
<rect x="445.72" y="194.81" width="1.42" height="1.42" fill="#4433ce"/>
<rect x="445.72" y="196.03" width="1.42" height="1.42" fill="#402bb7"/>
<rect x="445.72" y="197.25" width="1.42" height="1.42" fill="#4330c6"/>
<rect x="445.72" y="198.47" width="1.42" height="1.42" fill="#4536d4"/>
<rect x="445.72" y="199.69" width="1.42" height="1.42" fill="#4433ce"/>
<rect x="445.72" y="200.91" width="1.42" height="1.42" fill="#4433ce"/>
<rect x="445.72" y="202.12" width="1.42" height="1.42" fill="#402bb7"/>
<rect x="445.72" y="204.56" width="1.42" height="1.42" fill="#4330c6"/>
<rect x="445.72" y="205.78" width="1.42" height="1.42" fill="#4330c6"/>
<rect x="445.72" y="207.00" width="1.42" height="1.42" fill="#3f29b0"/>
<rect x="445.72" y="208.22" width="1.42" height="1.42" fill="#3f29b0"/>
<rect x="445.72" y="209.44" width="1.42" height="1.42" fill="#422ebf"/>
<rect x="445.72" y="211.88" width="1.42" height="1.42" fill="#402bb7"/>
<rect x="446.94" y="187.50" width="1.42" height="1.42" fill="#3f29b0"/>
<rect x="446.94" y="189.94" width="1.42" height="1.42" fill="#3f29b0"/>
<rect x="446.94" y="192.38" width="1.42" height="1.42" fill="#422ebf"/>
<rect x="446.94" y="194.81" width="1.42" height="1.42" fill="#422ebf"/>
<rect x="446.94" y="196.03" width="1.42" height="1.42" fill="#3f29b0"/>
<rect x="446.94" y="197.25" width="1.42" height="1.42" fill="#402bb7"/>
<rect x="446.94" y="198.47" width="1.42" height="1.42" fill="#422ebf"/>
<rect x="446.94" y="199.69" width="1.42" height="1.42" fill="#4330c6"/>
<rect x="446.94" y="200.91" width="1.42" height="1.42" fill="#422ebf"/>
<rect x="446.94" y="202.12" width="1.42" height="1.42" fill="#4433ce"/>
<rect x="446.94" y="203.34" width="1.42" height="1.42" fill="#4433ce"/>
<rect x="446.94" y="204.56" width="1.42" height="1.42" fill="#3f29b0"/>
<rect x="446.94" y="205.78" width="1.42" height="1.42" fill="#402bb7"/>
<rect x="446.94" y="207.00" width="1.42" height="1.42" fill="#402bb7"/>
<rect x="446.94" y="208.22" width="1.42" height="1.42" fill="#3f29b0"/>
<rect x="446.94" y="210.66" width="1.42" height="1.42" fill="#3f29b0"/>
<rect x="446.94" y="216.75" width="1.42" height="1.42" fill="#3f29b0"/>
<rect x="448.16" y="185.06" width="1.42" height="1.42" fill="#3f29b0"/>
<rect x="448.16" y="188.72" width="1.42" height="1.42" fill="#3f29b0"/>
<rect x="448.16" y="189.94" width="1.42" height="1.42" fill="#402bb7"/>
<rect x="448.16" y="191.16" width="1.42" height="1.42" fill="#3f29b0"/>
<rect x="448.16" y="192.38" width="1.42" height="1.42" fill="#4330c6"/>
<rect x="448.16" y="194.81" width="1.42" height="1.42" fill="#3f29b0"/>
<rect x="448.16" y="196.03" width="1.42" height="1.42" fill="#3f29b0"/>
<rect x="448.16" y="197.25" width="1.42" height="1.42" fill="#3f29b0"/>
<rect x="448.16" y="198.47" width="1.42" height="1.42" fill="#402bb7"/>
<rect x="448.16" y="199.69" width="1.42" height="1.42" fill="#402bb7"/>
<rect x="448.16" y="200.91" width="1.42" height="1.42" fill="#3f29b0"/>
<rect x="448.16" y="202.12" width="1.42" height="1.42" fill="#422ebf"/>
<rect x="448.16" y="204.56" width="1.42" height="1.42" fill="#422ebf"/>
<rect x="448.16" y="205.78" width="1.42" height="1.42" fill="#422ebf"/>
<rect x="448.16" y="207.00" width="1.42" height="1.42" fill="#402bb7"/>
<rect x="448.16" y="208.22" width="1.42" height="1.42" fill="#402bb7"/>
<rect x="448.16" y="209.44" width="1.42" height="1.42" fill="#402bb7"/>
<rect x="449.38" y="193.59" width="1.42" height="1.42" fill="#3f29b0"/>
<rect x="449.38" y="194.81" width="1.42" height="1.42" fill="#3f29b0"/>
<rect x="449.38" y="196.03" width="1.42" height="1.42" fill="#3f29b0"/>
<rect x="449.38" y="200.91" width="1.42" height="1.42" fill="#3f29b0"/>
<rect x="449.38" y="202.12" width="1.42" height="1.42" fill="#422ebf"/>
<rect x="449.38" y="203.34" width="1.42" height="1.42" fill="#3f29b0"/>
<rect x="449.38" y="204.56" width="1.42" height="1.42" fill="#4330c6"/>
<rect x="449.38" y="205.78" width="1.42" height="1.42" fill="#3f29b0"/>
<rect x="449.38" y="207.00" width="1.42" height="1.42" fill="#402bb7"/>
<rect x="449.38" y="214.31" width="1.42" height="1.42" fill="#3f29b0"/>
<rect x="450.59" y="188.72" width="1.42" height="1.42" fill="#3f29b0"/>
<rect x="450.59" y="196.03" width="1.42" height="1.42" fill="#402bb7"/>
<rect x="450.59" y="198.47" width="1.42" height="1.42" fill="#3f29b0"/>
<rect x="450.59" y="199.69" width="1.42" height="1.42" fill="#3f29b0"/>
<rect x="450.59" y="200.91" width="1.42" height="1.42" fill="#3f29b0"/>
<rect x="450.59" y="203.34" width="1.42" height="1.42" fill="#3f29b0"/>
<rect x="450.59" y="204.56" width="1.42" height="1.42" fill="#3f29b0"/>
<rect x="450.59" y="205.78" width="1.42" height="1.42" fill="#422ebf"/>
<rect x="450.59" y="207.00" width="1.42" height="1.42" fill="#402bb7"/>
<rect x="450.59" y="208.22" width="1.42" height="1.42" fill="#3f29b0"/>
<rect x="450.59" y="209.44" width="1.42" height="1.42" fill="#402bb7"/>
<rect x="451.81" y="193.59" width="1.42" height="1.42" fill="#3f29b0"/>
<rect x="451.81" y="197.25" width="1.42" height="1.42" fill="#3f29b0"/>
<rect x="451.81" y="200.91" width="1.42" height="1.42" fill="#3f29b0"/>
<rect x="451.81" y="202.12" width="1.42" height="1.42" fill="#3f29b0"/>
<rect x="451.81" y="207.00" width="1.42" height="1.42" fill="#3f29b0"/>
<rect x="451.81" y="211.88" width="1.42" height="1.42" fill="#3f29b0"/>
<rect x="451.81" y="213.09" width="1.42" height="1.42" fill="#3f29b0"/>
<rect x="453.03" y="199.69" width="1.42" height="1.42" fill="#3f29b0"/>
<rect x="453.03" y="203.34" width="1.42" height="1.42" fill="#3f29b0"/>
<rect x="453.03" y="209.44" width="1.42" height="1.42" fill="#3f29b0"/>
<rect x="454.25" y="192.38" width="1.42" height="1.42" fill="#3f29b0"/>
<rect x="454.25" y="199.69" width="1.42" height="1.42" fill="#3f29b0"/>
<rect x="454.25" y="203.34" width="1.42" height="1.42" fill="#3f29b0"/>
<rect x="454.25" y="214.31" width="1.42" height="1.42" fill="#3f29b0"/>
<rect x="455.47" y="198.47" width="1.42" height="1.42" fill="#3f29b0"/>
<rect x="455.47" y="205.78" width="1.42" height="1.42" fill="#3f29b0"/>
<rect x="456.69" y="200.91" width="1.42" height="1.42" fill="#3f29b0"/>
<rect x="456.69" y="207.00" width="1.42" height="1.42" fill="#3f29b0"/>
<rect x="457.91" y="207.00" width="1.42" height="1.42" fill="#3f29b0"/>
<rect x="457.91" y="208.22" width="1.42" height="1.42" fill="#3f29b0"/>
</g>
<line x1="405.50" y1="168.00" x2="405.50" y2="227.00" stroke="#222" stroke-width="1.0" />
<line x1="405.00" y1="226.50" x2="464.00" y2="226.50" stroke="#222" stroke-width="1.0" />
<line x1="403.00" y1="171.70" x2="405.50" y2="171.70" stroke="#222" stroke-width="0.8" />
<text x="400.00" y="174.30" font-size="7.3" text-anchor="end" font-weight="normal" fill="#1a1a1a"  stroke="#1a1a1a" stroke-width="0.22">40</text>
<line x1="403.00" y1="193.50" x2="405.50" y2="193.50" stroke="#222" stroke-width="0.8" />
<text x="400.00" y="196.10" font-size="7.3" text-anchor="end" font-weight="normal" fill="#1a1a1a"  stroke="#1a1a1a" stroke-width="0.22">0</text>
<line x1="403.00" y1="215.50" x2="405.50" y2="215.50" stroke="#222" stroke-width="0.8" />
<text x="400.00" y="218.10" font-size="7.3" text-anchor="end" font-weight="normal" fill="#1a1a1a"  stroke="#1a1a1a" stroke-width="0.22">−40</text>
<line x1="409.40" y1="226.50" x2="409.40" y2="229.00" stroke="#222" stroke-width="0.8" />
<text x="409.40" y="238.10" font-size="7.3" text-anchor="middle" font-weight="normal" fill="#1a1a1a"  stroke="#1a1a1a" stroke-width="0.22">−40</text>
<line x1="431.30" y1="226.50" x2="431.30" y2="229.00" stroke="#222" stroke-width="0.8" />
<text x="431.30" y="238.10" font-size="7.3" text-anchor="middle" font-weight="normal" fill="#1a1a1a"  stroke="#1a1a1a" stroke-width="0.22">0</text>
<line x1="452.60" y1="226.50" x2="452.60" y2="229.00" stroke="#222" stroke-width="0.8" />
<text x="452.60" y="238.10" font-size="7.3" text-anchor="middle" font-weight="normal" fill="#1a1a1a"  stroke="#1a1a1a" stroke-width="0.22">40</text>
<line x1="431.50" y1="168.50" x2="431.50" y2="226.50" stroke="#444" stroke-width="1.0" />
<line x1="403.00" y1="193.50" x2="463.80" y2="193.50" stroke="#444" stroke-width="1.0" />
<g stroke-linecap="round" fill="none">
<path d="M517.2,224.6 L530,211.6 L545,196.4 L556,185.2 L566,175.2" stroke="#4a48e8" stroke-width="2.3"/>
<path d="M553,187.6 L558.5,182 L565.5,175" stroke="#4654fb" stroke-width="2.6" stroke-dasharray="3,1.2"/>
<path d="M516.8,225 L523.5,218.6" stroke="#4338c8" stroke-width="2.8"/>
<path d="M524,218.6 L545,196.6 L555.5,186" stroke="#1ca6d9" stroke-width="1.7"/>
<path d="M528,214.4 L545,196.8 L552.5,189.4" stroke="#f3e41c" stroke-width="1.15"/>
</g>
<rect x="567.90" y="171.90" width="1.3" height="1.3" fill="#4a40e0"/>
<rect x="569.90" y="169.90" width="1.3" height="1.3" fill="#4a40e0"/>
<rect x="572.20" y="168.20" width="1.3" height="1.3" fill="#4a40e0"/>
<rect x="518.40" y="220.90" width="1.3" height="1.3" fill="#4a40e0"/>
<rect x="528.90" y="208.20" width="1.3" height="1.3" fill="#4a40e0"/>
<rect x="524.90" y="212.60" width="1.3" height="1.3" fill="#4a40e0"/>
<line x1="515.50" y1="168.00" x2="515.50" y2="227.00" stroke="#222" stroke-width="1.0" />
<line x1="515.00" y1="226.50" x2="574.00" y2="226.50" stroke="#222" stroke-width="1.0" />
<line x1="513.00" y1="177.80" x2="515.50" y2="177.80" stroke="#222" stroke-width="0.8" />
<text x="510.00" y="180.40" font-size="7.3" text-anchor="end" font-weight="normal" fill="#1a1a1a"  stroke="#1a1a1a" stroke-width="0.22">40</text>
<line x1="513.00" y1="201.50" x2="515.50" y2="201.50" stroke="#222" stroke-width="0.8" />
<text x="510.00" y="204.10" font-size="7.3" text-anchor="end" font-weight="normal" fill="#1a1a1a"  stroke="#1a1a1a" stroke-width="0.22">0</text>
<line x1="513.00" y1="224.40" x2="515.50" y2="224.40" stroke="#222" stroke-width="0.8" />
<text x="510.00" y="227.00" font-size="7.3" text-anchor="end" font-weight="normal" fill="#1a1a1a"  stroke="#1a1a1a" stroke-width="0.22">−40</text>
<line x1="519.30" y1="226.50" x2="519.30" y2="229.00" stroke="#222" stroke-width="0.8" />
<text x="519.30" y="238.10" font-size="7.3" text-anchor="middle" font-weight="normal" fill="#1a1a1a"  stroke="#1a1a1a" stroke-width="0.22">−40</text>
<line x1="541.50" y1="226.50" x2="541.50" y2="229.00" stroke="#222" stroke-width="0.8" />
<text x="541.50" y="238.10" font-size="7.3" text-anchor="middle" font-weight="normal" fill="#1a1a1a"  stroke="#1a1a1a" stroke-width="0.22">0</text>
<line x1="562.50" y1="226.50" x2="562.50" y2="229.00" stroke="#222" stroke-width="0.8" />
<text x="562.50" y="238.10" font-size="7.3" text-anchor="middle" font-weight="normal" fill="#1a1a1a"  stroke="#1a1a1a" stroke-width="0.22">40</text>
<line x1="541.50" y1="168.50" x2="541.50" y2="226.50" stroke="#444" stroke-width="1.0" />
<line x1="515.50" y1="201.50" x2="574.00" y2="201.50" stroke="#444" stroke-width="1.0" />
<defs><linearGradient id="cb581" x1="0" y1="1" x2="0" y2="0"><stop offset="0.0" stop-color="#3e26a8"/><stop offset="0.05" stop-color="#4433ce"/><stop offset="0.1" stop-color="#4741ea"/><stop offset="0.15" stop-color="#4654fb"/><stop offset="0.2" stop-color="#3c6bfc"/><stop offset="0.25" stop-color="#2b82f5"/><stop offset="0.3" stop-color="#2497e6"/><stop offset="0.35" stop-color="#1ca6d9"/><stop offset="0.4" stop-color="#0db3cc"/><stop offset="0.45" stop-color="#05bdba"/><stop offset="0.5" stop-color="#24c4a0"/><stop offset="0.55" stop-color="#42cc87"/><stop offset="0.6" stop-color="#69cf69"/><stop offset="0.65" stop-color="#8fcc4f"/><stop offset="0.7" stop-color="#b3c43b"/><stop offset="0.75" stop-color="#d1bd33"/><stop offset="0.8" stop-color="#f0b836"/><stop offset="0.85" stop-color="#fcbf3b"/><stop offset="0.9" stop-color="#f7d429"/><stop offset="0.95" stop-color="#f5e81a"/><stop offset="1.0" stop-color="#f9fb14"/></linearGradient></defs>
<rect x="581.2" y="168.3" width="4.4" height="58.099999999999994" fill="url(#cb581)" stroke="#222" stroke-width="0.6"/>
<text x="590.00" y="172.80" font-size="7.3" text-anchor="start" font-weight="normal" fill="#1a1a1a"  stroke="#1a1a1a" stroke-width="0.22">&gt;100</text>
<text x="590.00" y="228.00" font-size="7.3" text-anchor="start" font-weight="normal" fill="#1a1a1a"  stroke="#1a1a1a" stroke-width="0.22">0</text>
<text transform="translate(616.50,197.40) rotate(-90)" font-size="9.2" text-anchor="middle" fill="#1a1a1a" stroke="#1a1a1a" stroke-width="0.22" >Unit number</text>
<text x="434.75" y="253.5" font-size="9.2" text-anchor="middle" fill="#1a1a1a" stroke="#1a1a1a" stroke-width="0.22">Weight on <tspan font-weight="bold">CD</tspan><tspan font-weight="bold" font-size="6.3" dy="2.7">Delay</tspan></text>
<text x="434.75" y="265.60" font-size="9.2" text-anchor="middle" font-weight="normal" fill="#1a1a1a"  stroke="#1a1a1a" stroke-width="0.22">(context 1)</text>
<text transform="translate(365.50,199.00) rotate(-90)" font-size="9.2" text-anchor="middle" fill="#1a1a1a" stroke="#1a1a1a" stroke-width="0.22" >Weight on <tspan font-weight="bold">CD</tspan><tspan font-weight="bold" font-size="6.3" dy="2.7">Delay</tspan></text>
<text transform="translate(381.00,199.00) rotate(-90)" font-size="9.2" text-anchor="middle" fill="#1a1a1a" stroke="#1a1a1a" stroke-width="0.22" >(context 2)</text>
<text x="544.75" y="253.5" font-size="9.2" text-anchor="middle" fill="#1a1a1a" stroke="#1a1a1a" stroke-width="0.22">Weight on <tspan font-weight="bold">CD</tspan><tspan font-weight="bold" font-size="6.3" dy="2.7">Delay</tspan></text>
<text x="544.75" y="265.60" font-size="9.2" text-anchor="middle" font-weight="normal" fill="#1a1a1a"  stroke="#1a1a1a" stroke-width="0.22">(context 1)</text>
<text transform="translate(475.50,199.00) rotate(-90)" font-size="9.2" text-anchor="middle" fill="#1a1a1a" stroke="#1a1a1a" stroke-width="0.22" >Weight on <tspan font-weight="bold">CD</tspan><tspan font-weight="bold" font-size="6.3" dy="2.7">Delay</tspan></text>
<text transform="translate(491.00,199.00) rotate(-90)" font-size="9.2" text-anchor="middle" fill="#1a1a1a" stroke="#1a1a1a" stroke-width="0.22" >(context 1′)</text>
</svg></body></html>
